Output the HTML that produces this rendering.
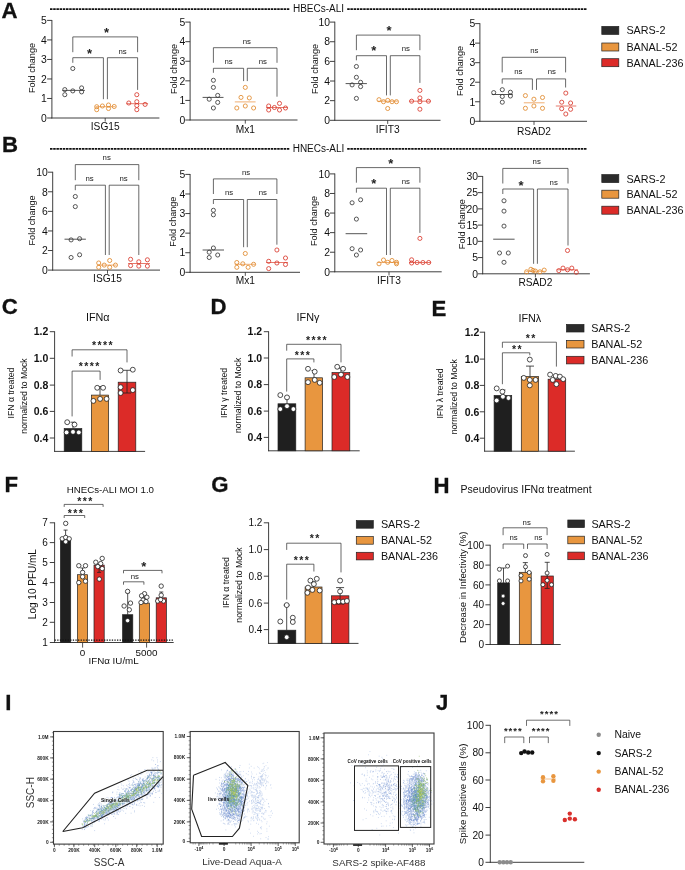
<!DOCTYPE html>
<html lang="en"><head><meta charset="utf-8"><title>Figure</title>
<style>html,body{margin:0;padding:0;background:#fff}svg{display:block}text{white-space:pre}</style></head>
<body>
<svg width="685" height="870" viewBox="0 0 685 870" font-family='"Liberation Sans", Arial, Helvetica, sans-serif'>
<rect width="685" height="870" fill="#fff"/>
<text x="1.6" y="18" font-size="22.2" text-anchor="start" font-weight="bold" fill="#111" stroke="#111" stroke-width="0.3">A</text>
<line x1="50" y1="9.1" x2="290" y2="9.1" stroke="#111" stroke-width="1.8" stroke-dasharray="2.5 0.7"/>
<line x1="347.2" y1="9.1" x2="587" y2="9.1" stroke="#111" stroke-width="1.8" stroke-dasharray="2.5 0.7"/>
<text x="318.5" y="12.1" font-size="10" text-anchor="middle" font-weight="normal" fill="#111" >HBECs-ALI</text>
<line x1="51.9" y1="20" x2="51.9" y2="118.4" stroke="#2a2a2a" stroke-width="0.9" />
<line x1="47.1" y1="20.4" x2="51.9" y2="20.4" stroke="#2a2a2a" stroke-width="0.9" />
<text x="46.7" y="24.14" font-size="10.4" text-anchor="end" font-weight="normal" fill="#111" >5</text>
<line x1="47.1" y1="39.92" x2="51.9" y2="39.92" stroke="#2a2a2a" stroke-width="0.9" />
<text x="46.7" y="43.66" font-size="10.4" text-anchor="end" font-weight="normal" fill="#111" >4</text>
<line x1="47.1" y1="59.44" x2="51.9" y2="59.44" stroke="#2a2a2a" stroke-width="0.9" />
<text x="46.7" y="63.18" font-size="10.4" text-anchor="end" font-weight="normal" fill="#111" >3</text>
<line x1="47.1" y1="78.96" x2="51.9" y2="78.96" stroke="#2a2a2a" stroke-width="0.9" />
<text x="46.7" y="82.7" font-size="10.4" text-anchor="end" font-weight="normal" fill="#111" >2</text>
<line x1="47.1" y1="98.48" x2="51.9" y2="98.48" stroke="#2a2a2a" stroke-width="0.9" />
<text x="46.7" y="102.22" font-size="10.4" text-anchor="end" font-weight="normal" fill="#111" >1</text>
<line x1="47.1" y1="118" x2="51.9" y2="118" stroke="#2a2a2a" stroke-width="0.9" />
<text x="46.7" y="121.74" font-size="10.4" text-anchor="end" font-weight="normal" fill="#111" >0</text>
<line x1="51.5" y1="118" x2="159.4" y2="118" stroke="#2a2a2a" stroke-width="0.9" />
<line x1="105.2" y1="118" x2="105.2" y2="121.6" stroke="#2a2a2a" stroke-width="0.8" />
<text x="105.2" y="130.2" font-size="10.2" text-anchor="middle" font-weight="normal" fill="#111" >ISG15</text>
<text x="35.4" y="68" font-size="9.1" text-anchor="middle" font-weight="normal" fill="#111" transform="rotate(-90 35.4 68)" >Fold change</text>
<line x1="62.3" y1="90.4" x2="84.9" y2="90.4" stroke="#555" stroke-width="1.0" />
<circle cx="72.8" cy="68.5" r="2.05" stroke="#3a3a3a" fill="none" stroke-width="0.85"/>
<circle cx="64.8" cy="89.6" r="2.05" stroke="#3a3a3a" fill="none" stroke-width="0.85"/>
<circle cx="81.6" cy="87.9" r="2.05" stroke="#3a3a3a" fill="none" stroke-width="0.85"/>
<circle cx="72.8" cy="90.9" r="2.05" stroke="#3a3a3a" fill="none" stroke-width="0.85"/>
<circle cx="81.6" cy="91.9" r="2.05" stroke="#3a3a3a" fill="none" stroke-width="0.85"/>
<circle cx="64.8" cy="94.7" r="2.05" stroke="#3a3a3a" fill="none" stroke-width="0.85"/>
<line x1="95.4" y1="106.7" x2="115.5" y2="106.7" stroke="#F0AE72" stroke-width="1.0" />
<circle cx="96.7" cy="106.7" r="2.05" stroke="#E08A2E" fill="none" stroke-width="0.85"/>
<circle cx="102.4" cy="106" r="2.05" stroke="#E08A2E" fill="none" stroke-width="0.85"/>
<circle cx="108.5" cy="105" r="2.05" stroke="#E08A2E" fill="none" stroke-width="0.85"/>
<circle cx="114.2" cy="106.5" r="2.05" stroke="#E08A2E" fill="none" stroke-width="0.85"/>
<circle cx="96.7" cy="109.7" r="2.05" stroke="#E08A2E" fill="none" stroke-width="0.85"/>
<circle cx="108.5" cy="108.5" r="2.05" stroke="#E08A2E" fill="none" stroke-width="0.85"/>
<line x1="126.3" y1="103.7" x2="148.1" y2="103.7" stroke="#E77A6C" stroke-width="1.0" />
<circle cx="136.8" cy="94.7" r="2.05" stroke="#D93A2E" fill="none" stroke-width="0.85"/>
<circle cx="128.8" cy="103" r="2.05" stroke="#D93A2E" fill="none" stroke-width="0.85"/>
<circle cx="136.8" cy="101.7" r="2.05" stroke="#D93A2E" fill="none" stroke-width="0.85"/>
<circle cx="145.1" cy="104.4" r="2.05" stroke="#D93A2E" fill="none" stroke-width="0.85"/>
<circle cx="136.8" cy="105.5" r="2.05" stroke="#D93A2E" fill="none" stroke-width="0.85"/>
<circle cx="136.8" cy="109.7" r="2.05" stroke="#D93A2E" fill="none" stroke-width="0.85"/>
<polyline points="72.8,52.2 72.8,36.9 137.6,36.9 137.6,52.2" fill="none" stroke="#2a2a2a" stroke-width="0.7"/>
<text x="106.5" y="36.9" font-size="13" text-anchor="middle" font-weight="bold" fill="#222" >*</text>
<polyline points="72.8,62.8 72.8,57.7 103.4,57.7 103.4,99.2" fill="none" stroke="#2a2a2a" stroke-width="0.7"/>
<text x="89.6" y="57.9" font-size="13" text-anchor="middle" font-weight="bold" fill="#222" >*</text>
<polyline points="107.4,99.2 107.4,57.7 137.6,57.7 137.6,89.9" fill="none" stroke="#2a2a2a" stroke-width="0.7"/>
<text x="122.5" y="53.6" font-size="7.8" text-anchor="middle" font-weight="normal" fill="#1a1a1a" >ns</text>
<line x1="190.1" y1="21.7" x2="190.1" y2="120.4" stroke="#2a2a2a" stroke-width="0.9" />
<line x1="185.3" y1="22.1" x2="190.1" y2="22.1" stroke="#2a2a2a" stroke-width="0.9" />
<text x="185.3" y="25.84" font-size="10.4" text-anchor="end" font-weight="normal" fill="#111" >5</text>
<line x1="185.3" y1="41.68" x2="190.1" y2="41.68" stroke="#2a2a2a" stroke-width="0.9" />
<text x="185.3" y="45.42" font-size="10.4" text-anchor="end" font-weight="normal" fill="#111" >4</text>
<line x1="185.3" y1="61.26" x2="190.1" y2="61.26" stroke="#2a2a2a" stroke-width="0.9" />
<text x="185.3" y="65" font-size="10.4" text-anchor="end" font-weight="normal" fill="#111" >3</text>
<line x1="185.3" y1="80.84" x2="190.1" y2="80.84" stroke="#2a2a2a" stroke-width="0.9" />
<text x="185.3" y="84.58" font-size="10.4" text-anchor="end" font-weight="normal" fill="#111" >2</text>
<line x1="185.3" y1="100.42" x2="190.1" y2="100.42" stroke="#2a2a2a" stroke-width="0.9" />
<text x="185.3" y="104.16" font-size="10.4" text-anchor="end" font-weight="normal" fill="#111" >1</text>
<line x1="185.3" y1="120" x2="190.1" y2="120" stroke="#2a2a2a" stroke-width="0.9" />
<text x="185.3" y="123.74" font-size="10.4" text-anchor="end" font-weight="normal" fill="#111" >0</text>
<line x1="189.7" y1="120" x2="297.5" y2="120" stroke="#2a2a2a" stroke-width="0.9" />
<line x1="245.3" y1="120" x2="245.3" y2="123.6" stroke="#2a2a2a" stroke-width="0.8" />
<text x="245.3" y="132.6" font-size="10.2" text-anchor="middle" font-weight="normal" fill="#111" >Mx1</text>
<text x="177.2" y="69" font-size="9.1" text-anchor="middle" font-weight="normal" fill="#111" transform="rotate(-90 177.2 69)" >Fold change</text>
<line x1="202.6" y1="97.4" x2="223.5" y2="97.4" stroke="#555" stroke-width="1.0" />
<circle cx="213.4" cy="80.3" r="2.05" stroke="#3a3a3a" fill="none" stroke-width="0.85"/>
<circle cx="213.4" cy="87.4" r="2.05" stroke="#3a3a3a" fill="none" stroke-width="0.85"/>
<circle cx="217.7" cy="95.4" r="2.05" stroke="#3a3a3a" fill="none" stroke-width="0.85"/>
<circle cx="209.2" cy="99.2" r="2.05" stroke="#3a3a3a" fill="none" stroke-width="0.85"/>
<circle cx="217.7" cy="102.4" r="2.05" stroke="#3a3a3a" fill="none" stroke-width="0.85"/>
<circle cx="213.4" cy="108" r="2.05" stroke="#3a3a3a" fill="none" stroke-width="0.85"/>
<line x1="234.8" y1="101.9" x2="255.6" y2="101.9" stroke="#F0AE72" stroke-width="1.0" />
<circle cx="245.3" cy="87.4" r="2.05" stroke="#E08A2E" fill="none" stroke-width="0.85"/>
<circle cx="241" cy="97.4" r="2.05" stroke="#E08A2E" fill="none" stroke-width="0.85"/>
<circle cx="249.3" cy="97.9" r="2.05" stroke="#E08A2E" fill="none" stroke-width="0.85"/>
<circle cx="245.3" cy="106" r="2.05" stroke="#E08A2E" fill="none" stroke-width="0.85"/>
<circle cx="236.8" cy="108" r="2.05" stroke="#E08A2E" fill="none" stroke-width="0.85"/>
<circle cx="253.6" cy="108" r="2.05" stroke="#E08A2E" fill="none" stroke-width="0.85"/>
<line x1="266.1" y1="107.5" x2="287.5" y2="107.5" stroke="#E77A6C" stroke-width="1.0" />
<circle cx="268.7" cy="106" r="2.05" stroke="#D93A2E" fill="none" stroke-width="0.85"/>
<circle cx="279.5" cy="103.4" r="2.05" stroke="#D93A2E" fill="none" stroke-width="0.85"/>
<circle cx="274.4" cy="107.5" r="2.05" stroke="#D93A2E" fill="none" stroke-width="0.85"/>
<circle cx="285.5" cy="108" r="2.05" stroke="#D93A2E" fill="none" stroke-width="0.85"/>
<circle cx="268.7" cy="110" r="2.05" stroke="#D93A2E" fill="none" stroke-width="0.85"/>
<circle cx="279.5" cy="110" r="2.05" stroke="#D93A2E" fill="none" stroke-width="0.85"/>
<polyline points="213.4,62.8 213.4,47.7 277,47.7 277,62.8" fill="none" stroke="#2a2a2a" stroke-width="0.7"/>
<text x="246.8" y="43.6" font-size="7.8" text-anchor="middle" font-weight="normal" fill="#1a1a1a" >ns</text>
<polyline points="213.4,72.8 213.4,68.3 243.6,68.3 243.6,81.1" fill="none" stroke="#2a2a2a" stroke-width="0.7"/>
<text x="228.5" y="64.1" font-size="7.8" text-anchor="middle" font-weight="normal" fill="#1a1a1a" >ns</text>
<polyline points="247.3,81.1 247.3,68.3 277,68.3 277,96.7" fill="none" stroke="#2a2a2a" stroke-width="0.7"/>
<text x="262.9" y="64.1" font-size="7.8" text-anchor="middle" font-weight="normal" fill="#1a1a1a" >ns</text>
<line x1="334.8" y1="21.7" x2="334.8" y2="120.7" stroke="#2a2a2a" stroke-width="0.9" />
<line x1="330" y1="22.1" x2="334.8" y2="22.1" stroke="#2a2a2a" stroke-width="0.9" />
<text x="330" y="25.84" font-size="10.4" text-anchor="end" font-weight="normal" fill="#111" >10</text>
<line x1="330" y1="41.74" x2="334.8" y2="41.74" stroke="#2a2a2a" stroke-width="0.9" />
<text x="330" y="45.48" font-size="10.4" text-anchor="end" font-weight="normal" fill="#111" >8</text>
<line x1="330" y1="61.38" x2="334.8" y2="61.38" stroke="#2a2a2a" stroke-width="0.9" />
<text x="330" y="65.12" font-size="10.4" text-anchor="end" font-weight="normal" fill="#111" >6</text>
<line x1="330" y1="81.02" x2="334.8" y2="81.02" stroke="#2a2a2a" stroke-width="0.9" />
<text x="330" y="84.76" font-size="10.4" text-anchor="end" font-weight="normal" fill="#111" >4</text>
<line x1="330" y1="100.66" x2="334.8" y2="100.66" stroke="#2a2a2a" stroke-width="0.9" />
<text x="330" y="104.4" font-size="10.4" text-anchor="end" font-weight="normal" fill="#111" >2</text>
<line x1="330" y1="120.3" x2="334.8" y2="120.3" stroke="#2a2a2a" stroke-width="0.9" />
<text x="330" y="124.04" font-size="10.4" text-anchor="end" font-weight="normal" fill="#111" >0</text>
<line x1="334.4" y1="120.3" x2="440.5" y2="120.3" stroke="#2a2a2a" stroke-width="0.9" />
<line x1="387.7" y1="120.3" x2="387.7" y2="123.9" stroke="#2a2a2a" stroke-width="0.8" />
<text x="387.7" y="132.6" font-size="10.2" text-anchor="middle" font-weight="normal" fill="#111" >IFIT3</text>
<text x="317.8" y="69" font-size="9.1" text-anchor="middle" font-weight="normal" fill="#111" transform="rotate(-90 317.8 69)" >Fold change</text>
<line x1="345.6" y1="83.6" x2="366.9" y2="83.6" stroke="#555" stroke-width="1.0" />
<circle cx="356.4" cy="66.5" r="2.05" stroke="#3a3a3a" fill="none" stroke-width="0.85"/>
<circle cx="356.4" cy="77.3" r="2.05" stroke="#3a3a3a" fill="none" stroke-width="0.85"/>
<circle cx="360.6" cy="82.3" r="2.05" stroke="#3a3a3a" fill="none" stroke-width="0.85"/>
<circle cx="352.1" cy="84.9" r="2.05" stroke="#3a3a3a" fill="none" stroke-width="0.85"/>
<circle cx="360.6" cy="86.6" r="2.05" stroke="#3a3a3a" fill="none" stroke-width="0.85"/>
<circle cx="356.4" cy="98.4" r="2.05" stroke="#3a3a3a" fill="none" stroke-width="0.85"/>
<line x1="377.7" y1="101.2" x2="397.8" y2="101.2" stroke="#F0AE72" stroke-width="1.0" />
<circle cx="379" cy="99.7" r="2.05" stroke="#E08A2E" fill="none" stroke-width="0.85"/>
<circle cx="387.7" cy="100.4" r="2.05" stroke="#E08A2E" fill="none" stroke-width="0.85"/>
<circle cx="383.5" cy="101.7" r="2.05" stroke="#E08A2E" fill="none" stroke-width="0.85"/>
<circle cx="392" cy="101.7" r="2.05" stroke="#E08A2E" fill="none" stroke-width="0.85"/>
<circle cx="396.5" cy="101.7" r="2.05" stroke="#E08A2E" fill="none" stroke-width="0.85"/>
<circle cx="387.7" cy="108.5" r="2.05" stroke="#E08A2E" fill="none" stroke-width="0.85"/>
<line x1="409.1" y1="101.2" x2="430.9" y2="101.2" stroke="#E77A6C" stroke-width="1.0" />
<circle cx="419.9" cy="90.4" r="2.05" stroke="#D93A2E" fill="none" stroke-width="0.85"/>
<circle cx="419.9" cy="97.9" r="2.05" stroke="#D93A2E" fill="none" stroke-width="0.85"/>
<circle cx="411.6" cy="101.2" r="2.05" stroke="#D93A2E" fill="none" stroke-width="0.85"/>
<circle cx="419.9" cy="101.7" r="2.05" stroke="#D93A2E" fill="none" stroke-width="0.85"/>
<circle cx="428.4" cy="101.2" r="2.05" stroke="#D93A2E" fill="none" stroke-width="0.85"/>
<circle cx="419.9" cy="109.2" r="2.05" stroke="#D93A2E" fill="none" stroke-width="0.85"/>
<polyline points="356.4,50.2 356.4,35.1 419.9,35.1 419.9,50.2" fill="none" stroke="#2a2a2a" stroke-width="0.7"/>
<text x="389" y="34.9" font-size="13" text-anchor="middle" font-weight="bold" fill="#222" >*</text>
<polyline points="356.4,60.3 356.4,55.7 386.5,55.7 386.5,95.4" fill="none" stroke="#2a2a2a" stroke-width="0.7"/>
<text x="373.9" y="55.4" font-size="13" text-anchor="middle" font-weight="bold" fill="#222" >*</text>
<polyline points="390.3,95.4 390.3,55.7 419.9,55.7 419.9,82.9" fill="none" stroke="#2a2a2a" stroke-width="0.7"/>
<text x="405.8" y="50.6" font-size="7.8" text-anchor="middle" font-weight="normal" fill="#1a1a1a" >ns</text>
<line x1="479.9" y1="23.2" x2="479.9" y2="121.7" stroke="#2a2a2a" stroke-width="0.9" />
<line x1="475.1" y1="23.6" x2="479.9" y2="23.6" stroke="#2a2a2a" stroke-width="0.9" />
<text x="475.2" y="27.34" font-size="10.4" text-anchor="end" font-weight="normal" fill="#111" >5</text>
<line x1="475.1" y1="43.14" x2="479.9" y2="43.14" stroke="#2a2a2a" stroke-width="0.9" />
<text x="475.2" y="46.88" font-size="10.4" text-anchor="end" font-weight="normal" fill="#111" >4</text>
<line x1="475.1" y1="62.68" x2="479.9" y2="62.68" stroke="#2a2a2a" stroke-width="0.9" />
<text x="475.2" y="66.42" font-size="10.4" text-anchor="end" font-weight="normal" fill="#111" >3</text>
<line x1="475.1" y1="82.22" x2="479.9" y2="82.22" stroke="#2a2a2a" stroke-width="0.9" />
<text x="475.2" y="85.96" font-size="10.4" text-anchor="end" font-weight="normal" fill="#111" >2</text>
<line x1="475.1" y1="101.76" x2="479.9" y2="101.76" stroke="#2a2a2a" stroke-width="0.9" />
<text x="475.2" y="105.5" font-size="10.4" text-anchor="end" font-weight="normal" fill="#111" >1</text>
<line x1="475.1" y1="121.3" x2="479.9" y2="121.3" stroke="#2a2a2a" stroke-width="0.9" />
<text x="475.2" y="125.04" font-size="10.4" text-anchor="end" font-weight="normal" fill="#111" >0</text>
<line x1="479.5" y1="121.3" x2="587" y2="121.3" stroke="#2a2a2a" stroke-width="0.9" />
<line x1="534" y1="121.3" x2="534" y2="124.9" stroke="#2a2a2a" stroke-width="0.8" />
<text x="534" y="134.9" font-size="10.2" text-anchor="middle" font-weight="normal" fill="#111" >RSAD2</text>
<text x="462.6" y="71" font-size="9.1" text-anchor="middle" font-weight="normal" fill="#111" transform="rotate(-90 462.6 71)" >Fold change</text>
<line x1="491.8" y1="94.5" x2="512.7" y2="94.5" stroke="#555" stroke-width="1.0" />
<circle cx="502.3" cy="89.7" r="2.05" stroke="#3a3a3a" fill="none" stroke-width="0.85"/>
<circle cx="493.7" cy="92.6" r="2.05" stroke="#3a3a3a" fill="none" stroke-width="0.85"/>
<circle cx="510.4" cy="92.2" r="2.05" stroke="#3a3a3a" fill="none" stroke-width="0.85"/>
<circle cx="510.4" cy="96" r="2.05" stroke="#3a3a3a" fill="none" stroke-width="0.85"/>
<circle cx="502.3" cy="96.5" r="2.05" stroke="#3a3a3a" fill="none" stroke-width="0.85"/>
<circle cx="502.3" cy="102.2" r="2.05" stroke="#3a3a3a" fill="none" stroke-width="0.85"/>
<line x1="523.8" y1="102.8" x2="544.6" y2="102.8" stroke="#F0AE72" stroke-width="1.0" />
<circle cx="525.4" cy="95.6" r="2.05" stroke="#E08A2E" fill="none" stroke-width="0.85"/>
<circle cx="533.9" cy="99.2" r="2.05" stroke="#E08A2E" fill="none" stroke-width="0.85"/>
<circle cx="542.5" cy="97.5" r="2.05" stroke="#E08A2E" fill="none" stroke-width="0.85"/>
<circle cx="533.9" cy="106" r="2.05" stroke="#E08A2E" fill="none" stroke-width="0.85"/>
<circle cx="525.4" cy="108.3" r="2.05" stroke="#E08A2E" fill="none" stroke-width="0.85"/>
<circle cx="542.5" cy="108.3" r="2.05" stroke="#E08A2E" fill="none" stroke-width="0.85"/>
<line x1="555.8" y1="106" x2="576.3" y2="106" stroke="#E77A6C" stroke-width="1.0" />
<circle cx="565.8" cy="93.1" r="2.05" stroke="#D93A2E" fill="none" stroke-width="0.85"/>
<circle cx="561.7" cy="102.2" r="2.05" stroke="#D93A2E" fill="none" stroke-width="0.85"/>
<circle cx="570.6" cy="103" r="2.05" stroke="#D93A2E" fill="none" stroke-width="0.85"/>
<circle cx="561.7" cy="108.7" r="2.05" stroke="#D93A2E" fill="none" stroke-width="0.85"/>
<circle cx="570.6" cy="109.3" r="2.05" stroke="#D93A2E" fill="none" stroke-width="0.85"/>
<circle cx="565.8" cy="114" r="2.05" stroke="#D93A2E" fill="none" stroke-width="0.85"/>
<polyline points="502.2,72.4 502.2,57.3 565.6,57.3 565.6,72.4" fill="none" stroke="#2a2a2a" stroke-width="0.7"/>
<text x="534.3" y="52.6" font-size="7.8" text-anchor="middle" font-weight="normal" fill="#1a1a1a" >ns</text>
<polyline points="502.2,83.7 502.2,78.9 532.4,78.9 532.4,89.9" fill="none" stroke="#2a2a2a" stroke-width="0.7"/>
<text x="518.4" y="74.1" font-size="7.8" text-anchor="middle" font-weight="normal" fill="#1a1a1a" >ns</text>
<polyline points="536.5,89.9 536.5,78.9 565.6,78.9 565.6,87.5" fill="none" stroke="#2a2a2a" stroke-width="0.7"/>
<text x="551.9" y="74.1" font-size="7.8" text-anchor="middle" font-weight="normal" fill="#1a1a1a" >ns</text>
<rect x="601.8" y="26.4" width="17" height="8" fill="#2b2b2b" stroke="#222" stroke-width="0.7"/>
<text x="626.4" y="34.4" font-size="10.8" text-anchor="start" font-weight="normal" fill="#111" >SARS-2</text>
<rect x="601.8" y="43" width="17" height="8" fill="#E8963F" stroke="#222" stroke-width="0.7"/>
<text x="626.4" y="51" font-size="10.8" text-anchor="start" font-weight="normal" fill="#111" >BANAL-52</text>
<rect x="601.8" y="58.7" width="17" height="8" fill="#DC2B28" stroke="#222" stroke-width="0.7"/>
<text x="626.4" y="66.7" font-size="10.8" text-anchor="start" font-weight="normal" fill="#111" >BANAL-236</text>
<text x="2" y="152.2" font-size="22.2" text-anchor="start" font-weight="bold" fill="#111" stroke="#111" stroke-width="0.3">B</text>
<line x1="50" y1="148.8" x2="290" y2="148.8" stroke="#111" stroke-width="1.8" stroke-dasharray="2.5 0.7"/>
<line x1="347.2" y1="148.8" x2="587" y2="148.8" stroke="#111" stroke-width="1.8" stroke-dasharray="2.5 0.7"/>
<text x="318.5" y="151.8" font-size="10" text-anchor="middle" font-weight="normal" fill="#111" >HNECs-ALI</text>
<line x1="52.7" y1="171.8" x2="52.7" y2="270.5" stroke="#2a2a2a" stroke-width="0.9" />
<line x1="47.9" y1="172.2" x2="52.7" y2="172.2" stroke="#2a2a2a" stroke-width="0.9" />
<text x="47.8" y="175.94" font-size="10.4" text-anchor="end" font-weight="normal" fill="#111" >10</text>
<line x1="47.9" y1="191.78" x2="52.7" y2="191.78" stroke="#2a2a2a" stroke-width="0.9" />
<text x="47.8" y="195.52" font-size="10.4" text-anchor="end" font-weight="normal" fill="#111" >8</text>
<line x1="47.9" y1="211.36" x2="52.7" y2="211.36" stroke="#2a2a2a" stroke-width="0.9" />
<text x="47.8" y="215.1" font-size="10.4" text-anchor="end" font-weight="normal" fill="#111" >6</text>
<line x1="47.9" y1="230.94" x2="52.7" y2="230.94" stroke="#2a2a2a" stroke-width="0.9" />
<text x="47.8" y="234.68" font-size="10.4" text-anchor="end" font-weight="normal" fill="#111" >4</text>
<line x1="47.9" y1="250.52" x2="52.7" y2="250.52" stroke="#2a2a2a" stroke-width="0.9" />
<text x="47.8" y="254.26" font-size="10.4" text-anchor="end" font-weight="normal" fill="#111" >2</text>
<line x1="47.9" y1="270.1" x2="52.7" y2="270.1" stroke="#2a2a2a" stroke-width="0.9" />
<text x="47.8" y="273.84" font-size="10.4" text-anchor="end" font-weight="normal" fill="#111" >0</text>
<line x1="52.3" y1="270.1" x2="160" y2="270.1" stroke="#2a2a2a" stroke-width="0.9" />
<line x1="107.5" y1="270.1" x2="107.5" y2="273.7" stroke="#2a2a2a" stroke-width="0.8" />
<text x="107.5" y="282" font-size="10.2" text-anchor="middle" font-weight="normal" fill="#111" >ISG15</text>
<text x="35.2" y="220.4" font-size="9.1" text-anchor="middle" font-weight="normal" fill="#111" transform="rotate(-90 35.2 220.4)" >Fold change</text>
<line x1="64.5" y1="239.2" x2="85.9" y2="239.2" stroke="#555" stroke-width="1.0" />
<circle cx="75.3" cy="196.5" r="2.05" stroke="#3a3a3a" fill="none" stroke-width="0.85"/>
<circle cx="75.3" cy="206.6" r="2.05" stroke="#3a3a3a" fill="none" stroke-width="0.85"/>
<circle cx="71.1" cy="239.9" r="2.05" stroke="#3a3a3a" fill="none" stroke-width="0.85"/>
<circle cx="79.6" cy="238.7" r="2.05" stroke="#3a3a3a" fill="none" stroke-width="0.85"/>
<circle cx="71.1" cy="257.5" r="2.05" stroke="#3a3a3a" fill="none" stroke-width="0.85"/>
<circle cx="79.6" cy="254.8" r="2.05" stroke="#3a3a3a" fill="none" stroke-width="0.85"/>
<line x1="97.4" y1="265.1" x2="116.7" y2="265.1" stroke="#F0AE72" stroke-width="1.0" />
<circle cx="109.7" cy="260.5" r="2.05" stroke="#E08A2E" fill="none" stroke-width="0.85"/>
<circle cx="98.7" cy="263" r="2.05" stroke="#E08A2E" fill="none" stroke-width="0.85"/>
<circle cx="104.2" cy="265.1" r="2.05" stroke="#E08A2E" fill="none" stroke-width="0.85"/>
<circle cx="115.5" cy="265.1" r="2.05" stroke="#E08A2E" fill="none" stroke-width="0.85"/>
<circle cx="98.7" cy="267.3" r="2.05" stroke="#E08A2E" fill="none" stroke-width="0.85"/>
<circle cx="109.7" cy="267.3" r="2.05" stroke="#E08A2E" fill="none" stroke-width="0.85"/>
<line x1="128" y1="263.5" x2="149.9" y2="263.5" stroke="#E77A6C" stroke-width="1.0" />
<circle cx="130.6" cy="259.3" r="2.05" stroke="#D93A2E" fill="none" stroke-width="0.85"/>
<circle cx="147.4" cy="259.8" r="2.05" stroke="#D93A2E" fill="none" stroke-width="0.85"/>
<circle cx="138.8" cy="261.8" r="2.05" stroke="#D93A2E" fill="none" stroke-width="0.85"/>
<circle cx="130.6" cy="265.6" r="2.05" stroke="#D93A2E" fill="none" stroke-width="0.85"/>
<circle cx="138.8" cy="266.1" r="2.05" stroke="#D93A2E" fill="none" stroke-width="0.85"/>
<circle cx="147.4" cy="266.1" r="2.05" stroke="#D93A2E" fill="none" stroke-width="0.85"/>
<polyline points="75.3,180.2 75.3,164.6 138.8,164.6 138.8,180.2" fill="none" stroke="#2a2a2a" stroke-width="0.7"/>
<text x="106.7" y="160.1" font-size="7.8" text-anchor="middle" font-weight="normal" fill="#1a1a1a" >ns</text>
<polyline points="75.3,190.2 75.3,185.2 105.4,185.2 105.4,255" fill="none" stroke="#2a2a2a" stroke-width="0.7"/>
<text x="89.6" y="180.8" font-size="7.8" text-anchor="middle" font-weight="normal" fill="#1a1a1a" >ns</text>
<polyline points="109.2,255 109.2,185.2 138.8,185.2 138.8,255" fill="none" stroke="#2a2a2a" stroke-width="0.7"/>
<text x="123.5" y="180.8" font-size="7.8" text-anchor="middle" font-weight="normal" fill="#1a1a1a" >ns</text>
<line x1="190.1" y1="174" x2="190.1" y2="272.7" stroke="#2a2a2a" stroke-width="0.9" />
<line x1="185.3" y1="174.4" x2="190.1" y2="174.4" stroke="#2a2a2a" stroke-width="0.9" />
<text x="185.3" y="178.14" font-size="10.4" text-anchor="end" font-weight="normal" fill="#111" >5</text>
<line x1="185.3" y1="193.98" x2="190.1" y2="193.98" stroke="#2a2a2a" stroke-width="0.9" />
<text x="185.3" y="197.72" font-size="10.4" text-anchor="end" font-weight="normal" fill="#111" >4</text>
<line x1="185.3" y1="213.56" x2="190.1" y2="213.56" stroke="#2a2a2a" stroke-width="0.9" />
<text x="185.3" y="217.3" font-size="10.4" text-anchor="end" font-weight="normal" fill="#111" >3</text>
<line x1="185.3" y1="233.14" x2="190.1" y2="233.14" stroke="#2a2a2a" stroke-width="0.9" />
<text x="185.3" y="236.88" font-size="10.4" text-anchor="end" font-weight="normal" fill="#111" >2</text>
<line x1="185.3" y1="252.72" x2="190.1" y2="252.72" stroke="#2a2a2a" stroke-width="0.9" />
<text x="185.3" y="256.46" font-size="10.4" text-anchor="end" font-weight="normal" fill="#111" >1</text>
<line x1="185.3" y1="272.3" x2="190.1" y2="272.3" stroke="#2a2a2a" stroke-width="0.9" />
<text x="185.3" y="276.04" font-size="10.4" text-anchor="end" font-weight="normal" fill="#111" >0</text>
<line x1="189.7" y1="272.3" x2="300" y2="272.3" stroke="#2a2a2a" stroke-width="0.9" />
<line x1="245.3" y1="272.3" x2="245.3" y2="275.9" stroke="#2a2a2a" stroke-width="0.8" />
<text x="245.3" y="284" font-size="10.2" text-anchor="middle" font-weight="normal" fill="#111" >Mx1</text>
<text x="176" y="221.6" font-size="9.1" text-anchor="middle" font-weight="normal" fill="#111" transform="rotate(-90 176 221.6)" >Fold change</text>
<line x1="202.6" y1="250" x2="224" y2="250" stroke="#555" stroke-width="1.0" />
<circle cx="213.4" cy="210.3" r="2.05" stroke="#3a3a3a" fill="none" stroke-width="0.85"/>
<circle cx="213.4" cy="214.8" r="2.05" stroke="#3a3a3a" fill="none" stroke-width="0.85"/>
<circle cx="213.4" cy="248" r="2.05" stroke="#3a3a3a" fill="none" stroke-width="0.85"/>
<circle cx="209.2" cy="252.2" r="2.05" stroke="#3a3a3a" fill="none" stroke-width="0.85"/>
<circle cx="217.7" cy="255" r="2.05" stroke="#3a3a3a" fill="none" stroke-width="0.85"/>
<circle cx="209.2" cy="257.5" r="2.05" stroke="#3a3a3a" fill="none" stroke-width="0.85"/>
<line x1="234.8" y1="264.3" x2="255.6" y2="264.3" stroke="#F0AE72" stroke-width="1.0" />
<circle cx="245.3" cy="253.5" r="2.05" stroke="#E08A2E" fill="none" stroke-width="0.85"/>
<circle cx="236.8" cy="262.5" r="2.05" stroke="#E08A2E" fill="none" stroke-width="0.85"/>
<circle cx="242.8" cy="263.8" r="2.05" stroke="#E08A2E" fill="none" stroke-width="0.85"/>
<circle cx="253.6" cy="264.3" r="2.05" stroke="#E08A2E" fill="none" stroke-width="0.85"/>
<circle cx="236.8" cy="267.3" r="2.05" stroke="#E08A2E" fill="none" stroke-width="0.85"/>
<circle cx="248.1" cy="267.3" r="2.05" stroke="#E08A2E" fill="none" stroke-width="0.85"/>
<line x1="266.1" y1="262.5" x2="288" y2="262.5" stroke="#E77A6C" stroke-width="1.0" />
<circle cx="276.9" cy="250" r="2.05" stroke="#D93A2E" fill="none" stroke-width="0.85"/>
<circle cx="285.5" cy="258" r="2.05" stroke="#D93A2E" fill="none" stroke-width="0.85"/>
<circle cx="268.7" cy="261.3" r="2.05" stroke="#D93A2E" fill="none" stroke-width="0.85"/>
<circle cx="276.9" cy="263" r="2.05" stroke="#D93A2E" fill="none" stroke-width="0.85"/>
<circle cx="285.5" cy="264.5" r="2.05" stroke="#D93A2E" fill="none" stroke-width="0.85"/>
<circle cx="268.7" cy="268.6" r="2.05" stroke="#D93A2E" fill="none" stroke-width="0.85"/>
<polyline points="213.4,194 213.4,178.9 276.9,178.9 276.9,194" fill="none" stroke="#2a2a2a" stroke-width="0.7"/>
<text x="246" y="174.5" font-size="7.8" text-anchor="middle" font-weight="normal" fill="#1a1a1a" >ns</text>
<polyline points="213.4,204 213.4,199.5 243.6,199.5 243.6,247.2" fill="none" stroke="#2a2a2a" stroke-width="0.7"/>
<text x="229" y="195.3" font-size="7.8" text-anchor="middle" font-weight="normal" fill="#1a1a1a" >ns</text>
<polyline points="247.3,247.2 247.3,199.5 276.9,199.5 276.9,244.7" fill="none" stroke="#2a2a2a" stroke-width="0.7"/>
<text x="262.9" y="195.3" font-size="7.8" text-anchor="middle" font-weight="normal" fill="#1a1a1a" >ns</text>
<line x1="334.8" y1="173.5" x2="334.8" y2="272.2" stroke="#2a2a2a" stroke-width="0.9" />
<line x1="330" y1="173.9" x2="334.8" y2="173.9" stroke="#2a2a2a" stroke-width="0.9" />
<text x="330" y="177.64" font-size="10.4" text-anchor="end" font-weight="normal" fill="#111" >10</text>
<line x1="330" y1="193.48" x2="334.8" y2="193.48" stroke="#2a2a2a" stroke-width="0.9" />
<text x="330" y="197.22" font-size="10.4" text-anchor="end" font-weight="normal" fill="#111" >8</text>
<line x1="330" y1="213.06" x2="334.8" y2="213.06" stroke="#2a2a2a" stroke-width="0.9" />
<text x="330" y="216.8" font-size="10.4" text-anchor="end" font-weight="normal" fill="#111" >6</text>
<line x1="330" y1="232.64" x2="334.8" y2="232.64" stroke="#2a2a2a" stroke-width="0.9" />
<text x="330" y="236.38" font-size="10.4" text-anchor="end" font-weight="normal" fill="#111" >4</text>
<line x1="330" y1="252.22" x2="334.8" y2="252.22" stroke="#2a2a2a" stroke-width="0.9" />
<text x="330" y="255.96" font-size="10.4" text-anchor="end" font-weight="normal" fill="#111" >2</text>
<line x1="330" y1="271.8" x2="334.8" y2="271.8" stroke="#2a2a2a" stroke-width="0.9" />
<text x="330" y="275.54" font-size="10.4" text-anchor="end" font-weight="normal" fill="#111" >0</text>
<line x1="334.4" y1="271.8" x2="441.7" y2="271.8" stroke="#2a2a2a" stroke-width="0.9" />
<line x1="389" y1="271.8" x2="389" y2="275.4" stroke="#2a2a2a" stroke-width="0.8" />
<text x="389" y="284" font-size="10.2" text-anchor="middle" font-weight="normal" fill="#111" >IFIT3</text>
<text x="316.8" y="221" font-size="9.1" text-anchor="middle" font-weight="normal" fill="#111" transform="rotate(-90 316.8 221)" >Fold change</text>
<line x1="345.6" y1="233.7" x2="367.2" y2="233.7" stroke="#555" stroke-width="1.0" />
<circle cx="360.6" cy="199.8" r="2.05" stroke="#3a3a3a" fill="none" stroke-width="0.85"/>
<circle cx="352.1" cy="202.8" r="2.05" stroke="#3a3a3a" fill="none" stroke-width="0.85"/>
<circle cx="356.4" cy="219.1" r="2.05" stroke="#3a3a3a" fill="none" stroke-width="0.85"/>
<circle cx="352.1" cy="248.7" r="2.05" stroke="#3a3a3a" fill="none" stroke-width="0.85"/>
<circle cx="360.6" cy="250" r="2.05" stroke="#3a3a3a" fill="none" stroke-width="0.85"/>
<circle cx="356.4" cy="255" r="2.05" stroke="#3a3a3a" fill="none" stroke-width="0.85"/>
<line x1="377.7" y1="262.5" x2="398.3" y2="262.5" stroke="#F0AE72" stroke-width="1.0" />
<circle cx="383.5" cy="260" r="2.05" stroke="#E08A2E" fill="none" stroke-width="0.85"/>
<circle cx="392" cy="260.5" r="2.05" stroke="#E08A2E" fill="none" stroke-width="0.85"/>
<circle cx="387.7" cy="262.3" r="2.05" stroke="#E08A2E" fill="none" stroke-width="0.85"/>
<circle cx="396.5" cy="262.3" r="2.05" stroke="#E08A2E" fill="none" stroke-width="0.85"/>
<circle cx="379" cy="263.8" r="2.05" stroke="#E08A2E" fill="none" stroke-width="0.85"/>
<circle cx="396.5" cy="263.8" r="2.05" stroke="#E08A2E" fill="none" stroke-width="0.85"/>
<line x1="409.1" y1="262.5" x2="430.9" y2="262.5" stroke="#E77A6C" stroke-width="1.0" />
<circle cx="419.9" cy="238.4" r="2.05" stroke="#D93A2E" fill="none" stroke-width="0.85"/>
<circle cx="411.6" cy="259.8" r="2.05" stroke="#D93A2E" fill="none" stroke-width="0.85"/>
<circle cx="411.6" cy="263" r="2.05" stroke="#D93A2E" fill="none" stroke-width="0.85"/>
<circle cx="417.1" cy="262.5" r="2.05" stroke="#D93A2E" fill="none" stroke-width="0.85"/>
<circle cx="422.9" cy="262.5" r="2.05" stroke="#D93A2E" fill="none" stroke-width="0.85"/>
<circle cx="428.7" cy="262.5" r="2.05" stroke="#D93A2E" fill="none" stroke-width="0.85"/>
<polyline points="356.4,182.7 356.4,167.6 419.9,167.6 419.9,182.7" fill="none" stroke="#2a2a2a" stroke-width="0.7"/>
<text x="390.8" y="168.3" font-size="13" text-anchor="middle" font-weight="bold" fill="#222" >*</text>
<polyline points="356.4,192.7 356.4,188.2 386.5,188.2 386.5,255" fill="none" stroke="#2a2a2a" stroke-width="0.7"/>
<text x="373.9" y="188.3" font-size="13" text-anchor="middle" font-weight="bold" fill="#222" >*</text>
<polyline points="390.3,255 390.3,188.2 419.9,188.2 419.9,232.9" fill="none" stroke="#2a2a2a" stroke-width="0.7"/>
<text x="405.8" y="184.1" font-size="7.8" text-anchor="middle" font-weight="normal" fill="#1a1a1a" >ns</text>
<line x1="482.7" y1="176" x2="482.7" y2="274.2" stroke="#2a2a2a" stroke-width="0.9" />
<line x1="477.9" y1="176.4" x2="482.7" y2="176.4" stroke="#2a2a2a" stroke-width="0.9" />
<text x="478" y="180.14" font-size="10.4" text-anchor="end" font-weight="normal" fill="#111" >30</text>
<line x1="477.9" y1="192.63" x2="482.7" y2="192.63" stroke="#2a2a2a" stroke-width="0.9" />
<text x="478" y="196.38" font-size="10.4" text-anchor="end" font-weight="normal" fill="#111" >25</text>
<line x1="477.9" y1="208.87" x2="482.7" y2="208.87" stroke="#2a2a2a" stroke-width="0.9" />
<text x="478" y="212.61" font-size="10.4" text-anchor="end" font-weight="normal" fill="#111" >20</text>
<line x1="477.9" y1="225.1" x2="482.7" y2="225.1" stroke="#2a2a2a" stroke-width="0.9" />
<text x="478" y="228.84" font-size="10.4" text-anchor="end" font-weight="normal" fill="#111" >15</text>
<line x1="477.9" y1="241.33" x2="482.7" y2="241.33" stroke="#2a2a2a" stroke-width="0.9" />
<text x="478" y="245.08" font-size="10.4" text-anchor="end" font-weight="normal" fill="#111" >10</text>
<line x1="477.9" y1="257.57" x2="482.7" y2="257.57" stroke="#2a2a2a" stroke-width="0.9" />
<text x="478" y="261.31" font-size="10.4" text-anchor="end" font-weight="normal" fill="#111" >5</text>
<line x1="477.9" y1="273.8" x2="482.7" y2="273.8" stroke="#2a2a2a" stroke-width="0.9" />
<text x="478" y="277.54" font-size="10.4" text-anchor="end" font-weight="normal" fill="#111" >0</text>
<line x1="482.3" y1="273.8" x2="589.9" y2="273.8" stroke="#2a2a2a" stroke-width="0.9" />
<line x1="535.4" y1="273.8" x2="535.4" y2="277.4" stroke="#2a2a2a" stroke-width="0.8" />
<text x="535.4" y="286" font-size="10.2" text-anchor="middle" font-weight="normal" fill="#111" >RSAD2</text>
<text x="465" y="224.1" font-size="9.1" text-anchor="middle" font-weight="normal" fill="#111" transform="rotate(-90 465 224.1)" >Fold change</text>
<line x1="493.2" y1="239.2" x2="514.6" y2="239.2" stroke="#555" stroke-width="1.0" />
<circle cx="504" cy="200.8" r="2.05" stroke="#3a3a3a" fill="none" stroke-width="0.85"/>
<circle cx="504" cy="211.1" r="2.05" stroke="#3a3a3a" fill="none" stroke-width="0.85"/>
<circle cx="504" cy="226.1" r="2.05" stroke="#3a3a3a" fill="none" stroke-width="0.85"/>
<circle cx="499.5" cy="253" r="2.05" stroke="#3a3a3a" fill="none" stroke-width="0.85"/>
<circle cx="508.3" cy="253" r="2.05" stroke="#3a3a3a" fill="none" stroke-width="0.85"/>
<circle cx="504" cy="262.3" r="2.05" stroke="#3a3a3a" fill="none" stroke-width="0.85"/>
<line x1="525.4" y1="271.3" x2="545.4" y2="271.3" stroke="#F0AE72" stroke-width="1.0" />
<circle cx="530.9" cy="269.3" r="2.05" stroke="#E08A2E" fill="none" stroke-width="0.85"/>
<circle cx="526.6" cy="271.8" r="2.05" stroke="#E08A2E" fill="none" stroke-width="0.85"/>
<circle cx="535.4" cy="271.1" r="2.05" stroke="#E08A2E" fill="none" stroke-width="0.85"/>
<circle cx="539.9" cy="271.8" r="2.05" stroke="#E08A2E" fill="none" stroke-width="0.85"/>
<circle cx="544.2" cy="270.1" r="2.05" stroke="#E08A2E" fill="none" stroke-width="0.85"/>
<circle cx="533" cy="270.4" r="2.05" stroke="#E08A2E" fill="none" stroke-width="0.85"/>
<line x1="556.7" y1="269.8" x2="578" y2="269.8" stroke="#E77A6C" stroke-width="1.0" />
<circle cx="567.5" cy="250.5" r="2.05" stroke="#D93A2E" fill="none" stroke-width="0.85"/>
<circle cx="563" cy="268.1" r="2.05" stroke="#D93A2E" fill="none" stroke-width="0.85"/>
<circle cx="571.8" cy="268.1" r="2.05" stroke="#D93A2E" fill="none" stroke-width="0.85"/>
<circle cx="558.8" cy="270.6" r="2.05" stroke="#D93A2E" fill="none" stroke-width="0.85"/>
<circle cx="567.5" cy="269.8" r="2.05" stroke="#D93A2E" fill="none" stroke-width="0.85"/>
<circle cx="576.3" cy="272.3" r="2.05" stroke="#D93A2E" fill="none" stroke-width="0.85"/>
<polyline points="502.8,183.5 502.8,168.4 568,168.4 568,183.5" fill="none" stroke="#2a2a2a" stroke-width="0.7"/>
<text x="536.7" y="164.1" font-size="7.8" text-anchor="middle" font-weight="normal" fill="#1a1a1a" >ns</text>
<polyline points="502.8,194 502.8,189 533.6,189 533.6,263.8" fill="none" stroke="#2a2a2a" stroke-width="0.7"/>
<text x="521.1" y="189.6" font-size="13" text-anchor="middle" font-weight="bold" fill="#222" >*</text>
<polyline points="537.4,263.8 537.4,189 568,189 568,245.5" fill="none" stroke="#2a2a2a" stroke-width="0.7"/>
<text x="553.7" y="184.8" font-size="7.8" text-anchor="middle" font-weight="normal" fill="#1a1a1a" >ns</text>
<rect x="601.8" y="174.6" width="17" height="8" fill="#2b2b2b" stroke="#222" stroke-width="0.7"/>
<text x="626.4" y="182.6" font-size="10.8" text-anchor="start" font-weight="normal" fill="#111" >SARS-2</text>
<rect x="601.8" y="190.2" width="17" height="8" fill="#E8963F" stroke="#222" stroke-width="0.7"/>
<text x="626.4" y="198.2" font-size="10.8" text-anchor="start" font-weight="normal" fill="#111" >BANAL-52</text>
<rect x="601.8" y="206.2" width="17" height="8" fill="#DC2B28" stroke="#222" stroke-width="0.7"/>
<text x="626.4" y="214.2" font-size="10.8" text-anchor="start" font-weight="normal" fill="#111" >BANAL-236</text>
<text x="1.8" y="313.9" font-size="22.2" text-anchor="start" font-weight="bold" fill="#111" stroke="#111" stroke-width="0.3">C</text>
<text x="97.8" y="321.4" font-size="10.8" text-anchor="middle" font-weight="normal" fill="#111" >IFNα</text>
<line x1="54.6" y1="331.3" x2="54.6" y2="451.8" stroke="#2a2a2a" stroke-width="0.9" />
<line x1="49.8" y1="331.7" x2="54.6" y2="331.7" stroke="#2a2a2a" stroke-width="0.9" />
<text x="48.4" y="335.48" font-size="10.5" text-anchor="end" font-weight="bold" fill="#111" >1.2</text>
<line x1="49.8" y1="358.3" x2="54.6" y2="358.3" stroke="#2a2a2a" stroke-width="0.9" />
<text x="48.4" y="362.08" font-size="10.5" text-anchor="end" font-weight="bold" fill="#111" >1.0</text>
<line x1="49.8" y1="385.1" x2="54.6" y2="385.1" stroke="#2a2a2a" stroke-width="0.9" />
<text x="48.4" y="388.88" font-size="10.5" text-anchor="end" font-weight="bold" fill="#111" >0.8</text>
<line x1="49.8" y1="411.4" x2="54.6" y2="411.4" stroke="#2a2a2a" stroke-width="0.9" />
<text x="48.4" y="415.18" font-size="10.5" text-anchor="end" font-weight="bold" fill="#111" >0.6</text>
<line x1="49.8" y1="438" x2="54.6" y2="438" stroke="#2a2a2a" stroke-width="0.9" />
<text x="48.4" y="441.78" font-size="10.5" text-anchor="end" font-weight="bold" fill="#111" >0.4</text>
<line x1="54.2" y1="451.4" x2="145.1" y2="451.4" stroke="#2a2a2a" stroke-width="0.9" />
<rect x="64.2" y="428.6" width="17.6" height="22.8" fill="#1f1f1f" stroke="#222" stroke-width="0.7"/>
<rect x="91.4" y="395.1" width="17.2" height="56.3" fill="#E8963F" stroke="#222" stroke-width="0.7"/>
<rect x="118.2" y="382.2" width="17.6" height="69.2" fill="#DC2B28" stroke="#222" stroke-width="0.7"/>
<line x1="73" y1="422.2" x2="73" y2="428.6" stroke="#222" stroke-width="0.8" />
<line x1="70.5" y1="422.2" x2="75.5" y2="422.2" stroke="#222" stroke-width="0.8" />
<line x1="100" y1="386.6" x2="100" y2="395.1" stroke="#222" stroke-width="0.8" />
<line x1="97.5" y1="386.6" x2="102.5" y2="386.6" stroke="#222" stroke-width="0.8" />
<line x1="127" y1="370.3" x2="127" y2="393" stroke="#222" stroke-width="0.8" />
<line x1="123" y1="370.3" x2="131" y2="370.3" stroke="#222" stroke-width="0.8" />
<line x1="123" y1="393" x2="131" y2="393" stroke="#222" stroke-width="0.8" />
<circle cx="67.2" cy="422.2" r="2.45" stroke="#222" fill="#fff" stroke-width="0.8"/>
<circle cx="74.5" cy="424.6" r="2.45" stroke="#222" fill="#fff" stroke-width="0.8"/>
<circle cx="66.6" cy="432.4" r="2.45" stroke="#222" fill="#fff" stroke-width="0.8"/>
<circle cx="73" cy="431.9" r="2.45" stroke="#222" fill="#fff" stroke-width="0.8"/>
<circle cx="78.8" cy="432.4" r="2.45" stroke="#222" fill="#fff" stroke-width="0.8"/>
<circle cx="97.2" cy="387.8" r="2.45" stroke="#222" fill="#fff" stroke-width="0.8"/>
<circle cx="103.1" cy="387.8" r="2.45" stroke="#222" fill="#fff" stroke-width="0.8"/>
<circle cx="93.4" cy="400.9" r="2.45" stroke="#222" fill="#fff" stroke-width="0.8"/>
<circle cx="100.1" cy="398.9" r="2.45" stroke="#222" fill="#fff" stroke-width="0.8"/>
<circle cx="106.6" cy="398.9" r="2.45" stroke="#222" fill="#fff" stroke-width="0.8"/>
<circle cx="120.6" cy="370.5" r="2.45" stroke="#222" fill="#fff" stroke-width="0.8"/>
<circle cx="132.8" cy="369.7" r="2.45" stroke="#222" fill="#fff" stroke-width="0.8"/>
<circle cx="120.6" cy="387.2" r="2.45" stroke="#222" fill="#fff" stroke-width="0.8"/>
<circle cx="132.8" cy="390.1" r="2.45" stroke="#222" fill="#fff" stroke-width="0.8"/>
<circle cx="120.6" cy="393" r="2.45" stroke="#222" fill="#fff" stroke-width="0.8"/>
<polyline points="72.1,356.5 72.1,349.8 127,349.8 127,362.4" fill="none" stroke="#2a2a2a" stroke-width="0.7"/>
<text x="102.9" y="349" font-size="10.5" text-anchor="middle" font-weight="bold" fill="#222" letter-spacing="1.4">****</text>
<polyline points="72.1,416.4 72.1,371.1 100.1,371.1 100.1,379.9" fill="none" stroke="#2a2a2a" stroke-width="0.7"/>
<text x="89.7" y="370.3" font-size="10.5" text-anchor="middle" font-weight="bold" fill="#222" letter-spacing="1.4">****</text>
<text x="14" y="393" font-size="8.7" text-anchor="middle" font-weight="normal" fill="#111" transform="rotate(-90 14 393)" >IFN α treated</text>
<text x="27.2" y="396" font-size="8.7" text-anchor="middle" font-weight="normal" fill="#111" transform="rotate(-90 27.2 396)" >normalized to Mock</text>
<text x="210.5" y="314.2" font-size="22.2" text-anchor="start" font-weight="bold" fill="#111" stroke="#111" stroke-width="0.3">D</text>
<text x="308" y="321.4" font-size="10.8" text-anchor="middle" font-weight="normal" fill="#111" >IFNγ</text>
<line x1="268.6" y1="331.3" x2="268.6" y2="451.2" stroke="#2a2a2a" stroke-width="0.9" />
<line x1="263.8" y1="331.7" x2="268.6" y2="331.7" stroke="#2a2a2a" stroke-width="0.9" />
<text x="262.2" y="335.48" font-size="10.5" text-anchor="end" font-weight="bold" fill="#111" >1.2</text>
<line x1="263.8" y1="358" x2="268.6" y2="358" stroke="#2a2a2a" stroke-width="0.9" />
<text x="262.2" y="361.78" font-size="10.5" text-anchor="end" font-weight="bold" fill="#111" >1.0</text>
<line x1="263.8" y1="384.6" x2="268.6" y2="384.6" stroke="#2a2a2a" stroke-width="0.9" />
<text x="262.2" y="388.38" font-size="10.5" text-anchor="end" font-weight="bold" fill="#111" >0.8</text>
<line x1="263.8" y1="411.1" x2="268.6" y2="411.1" stroke="#2a2a2a" stroke-width="0.9" />
<text x="262.2" y="414.88" font-size="10.5" text-anchor="end" font-weight="bold" fill="#111" >0.6</text>
<line x1="263.8" y1="437.4" x2="268.6" y2="437.4" stroke="#2a2a2a" stroke-width="0.9" />
<text x="262.2" y="441.18" font-size="10.5" text-anchor="end" font-weight="bold" fill="#111" >0.4</text>
<line x1="268.2" y1="450.8" x2="359.7" y2="450.8" stroke="#2a2a2a" stroke-width="0.9" />
<rect x="278" y="403.8" width="17.8" height="47" fill="#1f1f1f" stroke="#222" stroke-width="0.7"/>
<rect x="305.1" y="377.8" width="17.5" height="73" fill="#E8963F" stroke="#222" stroke-width="0.7"/>
<rect x="332" y="372.6" width="17.8" height="78.2" fill="#DC2B28" stroke="#222" stroke-width="0.7"/>
<line x1="287" y1="396.8" x2="287" y2="403.8" stroke="#222" stroke-width="0.8" />
<line x1="284.5" y1="396.8" x2="289.5" y2="396.8" stroke="#222" stroke-width="0.8" />
<line x1="314" y1="370.5" x2="314" y2="377.8" stroke="#222" stroke-width="0.8" />
<line x1="311.5" y1="370.5" x2="316.5" y2="370.5" stroke="#222" stroke-width="0.8" />
<line x1="341" y1="368.2" x2="341" y2="372.6" stroke="#222" stroke-width="0.8" />
<line x1="338.5" y1="368.2" x2="343.5" y2="368.2" stroke="#222" stroke-width="0.8" />
<circle cx="280.3" cy="395.1" r="2.45" stroke="#222" fill="#fff" stroke-width="0.8"/>
<circle cx="287" cy="397.4" r="2.45" stroke="#222" fill="#fff" stroke-width="0.8"/>
<circle cx="280.3" cy="409.1" r="2.45" stroke="#222" fill="#fff" stroke-width="0.8"/>
<circle cx="287" cy="406.2" r="2.45" stroke="#222" fill="#fff" stroke-width="0.8"/>
<circle cx="293.4" cy="409.1" r="2.45" stroke="#222" fill="#fff" stroke-width="0.8"/>
<circle cx="308" cy="368.8" r="2.45" stroke="#222" fill="#fff" stroke-width="0.8"/>
<circle cx="314.7" cy="371.7" r="2.45" stroke="#222" fill="#fff" stroke-width="0.8"/>
<circle cx="308" cy="382.2" r="2.45" stroke="#222" fill="#fff" stroke-width="0.8"/>
<circle cx="314.7" cy="379.9" r="2.45" stroke="#222" fill="#fff" stroke-width="0.8"/>
<circle cx="319.7" cy="382.8" r="2.45" stroke="#222" fill="#fff" stroke-width="0.8"/>
<circle cx="337.2" cy="366.8" r="2.45" stroke="#222" fill="#fff" stroke-width="0.8"/>
<circle cx="343.1" cy="368.8" r="2.45" stroke="#222" fill="#fff" stroke-width="0.8"/>
<circle cx="334.3" cy="377" r="2.45" stroke="#222" fill="#fff" stroke-width="0.8"/>
<circle cx="341" cy="374.6" r="2.45" stroke="#222" fill="#fff" stroke-width="0.8"/>
<circle cx="347.4" cy="377" r="2.45" stroke="#222" fill="#fff" stroke-width="0.8"/>
<polyline points="286.7,350.7 286.7,344.3 341,344.3 341,362.4" fill="none" stroke="#2a2a2a" stroke-width="0.7"/>
<text x="316.9" y="343.7" font-size="10.5" text-anchor="middle" font-weight="bold" fill="#222" letter-spacing="1.4">****</text>
<polyline points="286.7,391.6 286.7,358.9 313.9,358.9 313.9,362.4" fill="none" stroke="#2a2a2a" stroke-width="0.7"/>
<text x="302.9" y="358.6" font-size="10.5" text-anchor="middle" font-weight="bold" fill="#222" letter-spacing="1.4">***</text>
<text x="227.2" y="393" font-size="8.7" text-anchor="middle" font-weight="normal" fill="#111" transform="rotate(-90 227.2 393)" >IFN γ treated</text>
<text x="241" y="395.4" font-size="8.7" text-anchor="middle" font-weight="normal" fill="#111" transform="rotate(-90 241 395.4)" >normalized to Mock</text>
<text x="431.6" y="316" font-size="22.2" text-anchor="start" font-weight="bold" fill="#111" stroke="#111" stroke-width="0.3">E</text>
<text x="529.8" y="321.6" font-size="10.8" text-anchor="middle" font-weight="normal" fill="#111" >IFNλ</text>
<line x1="484.6" y1="331.8" x2="484.6" y2="451.6" stroke="#2a2a2a" stroke-width="0.9" />
<line x1="479.8" y1="332.2" x2="484.6" y2="332.2" stroke="#2a2a2a" stroke-width="0.9" />
<text x="479.3" y="335.98" font-size="10.5" text-anchor="end" font-weight="bold" fill="#111" >1.2</text>
<line x1="479.8" y1="359.1" x2="484.6" y2="359.1" stroke="#2a2a2a" stroke-width="0.9" />
<text x="479.3" y="362.88" font-size="10.5" text-anchor="end" font-weight="bold" fill="#111" >1.0</text>
<line x1="479.8" y1="385.4" x2="484.6" y2="385.4" stroke="#2a2a2a" stroke-width="0.9" />
<text x="479.3" y="389.18" font-size="10.5" text-anchor="end" font-weight="bold" fill="#111" >0.8</text>
<line x1="479.8" y1="411.8" x2="484.6" y2="411.8" stroke="#2a2a2a" stroke-width="0.9" />
<text x="479.3" y="415.58" font-size="10.5" text-anchor="end" font-weight="bold" fill="#111" >0.6</text>
<line x1="479.8" y1="438.2" x2="484.6" y2="438.2" stroke="#2a2a2a" stroke-width="0.9" />
<text x="479.3" y="441.98" font-size="10.5" text-anchor="end" font-weight="bold" fill="#111" >0.4</text>
<line x1="484.2" y1="451.2" x2="574.9" y2="451.2" stroke="#2a2a2a" stroke-width="0.9" />
<rect x="494.1" y="395.5" width="17.6" height="55.7" fill="#1f1f1f" stroke="#222" stroke-width="0.7"/>
<rect x="521.3" y="376.6" width="17.3" height="74.6" fill="#E8963F" stroke="#222" stroke-width="0.7"/>
<rect x="548.1" y="379.2" width="17.6" height="72" fill="#DC2B28" stroke="#222" stroke-width="0.7"/>
<line x1="503" y1="390" x2="503" y2="395.5" stroke="#222" stroke-width="0.8" />
<line x1="500.5" y1="390" x2="505.5" y2="390" stroke="#222" stroke-width="0.8" />
<line x1="530" y1="366.1" x2="530" y2="376.6" stroke="#222" stroke-width="0.8" />
<line x1="526" y1="366.1" x2="534" y2="366.1" stroke="#222" stroke-width="0.8" />
<line x1="557" y1="376.6" x2="557" y2="379.2" stroke="#222" stroke-width="0.8" />
<line x1="554.5" y1="376.6" x2="559.5" y2="376.6" stroke="#222" stroke-width="0.8" />
<circle cx="496.7" cy="388.4" r="2.45" stroke="#222" fill="#fff" stroke-width="0.8"/>
<circle cx="502.4" cy="391.7" r="2.45" stroke="#222" fill="#fff" stroke-width="0.8"/>
<circle cx="496.7" cy="400.5" r="2.45" stroke="#222" fill="#fff" stroke-width="0.8"/>
<circle cx="502.9" cy="396.7" r="2.45" stroke="#222" fill="#fff" stroke-width="0.8"/>
<circle cx="508.5" cy="398" r="2.45" stroke="#222" fill="#fff" stroke-width="0.8"/>
<circle cx="529.8" cy="359.6" r="2.45" stroke="#222" fill="#fff" stroke-width="0.8"/>
<circle cx="523.8" cy="377.9" r="2.45" stroke="#222" fill="#fff" stroke-width="0.8"/>
<circle cx="529.8" cy="379.9" r="2.45" stroke="#222" fill="#fff" stroke-width="0.8"/>
<circle cx="535.6" cy="379.9" r="2.45" stroke="#222" fill="#fff" stroke-width="0.8"/>
<circle cx="529.8" cy="385.4" r="2.45" stroke="#222" fill="#fff" stroke-width="0.8"/>
<circle cx="550.1" cy="374.6" r="2.45" stroke="#222" fill="#fff" stroke-width="0.8"/>
<circle cx="555.7" cy="375.9" r="2.45" stroke="#222" fill="#fff" stroke-width="0.8"/>
<circle cx="559.9" cy="376.6" r="2.45" stroke="#222" fill="#fff" stroke-width="0.8"/>
<circle cx="563.2" cy="379.2" r="2.45" stroke="#222" fill="#fff" stroke-width="0.8"/>
<circle cx="552.7" cy="379.9" r="2.45" stroke="#222" fill="#fff" stroke-width="0.8"/>
<circle cx="556.4" cy="384.2" r="2.45" stroke="#222" fill="#fff" stroke-width="0.8"/>
<polyline points="502.4,347.8 502.4,342.2 556.4,342.2 556.4,366.6" fill="none" stroke="#2a2a2a" stroke-width="0.7"/>
<text x="531.3" y="342.1" font-size="10.5" text-anchor="middle" font-weight="bold" fill="#222" letter-spacing="1.4">**</text>
<polyline points="502.4,384.2 502.4,352.8 529.8,352.8 529.8,355.3" fill="none" stroke="#2a2a2a" stroke-width="0.7"/>
<text x="517.4" y="352.9" font-size="10.5" text-anchor="middle" font-weight="bold" fill="#222" letter-spacing="1.4">**</text>
<text x="443.2" y="393.5" font-size="8.7" text-anchor="middle" font-weight="normal" fill="#111" transform="rotate(-90 443.2 393.5)" >IFN λ treated</text>
<text x="457.5" y="396.7" font-size="8.7" text-anchor="middle" font-weight="normal" fill="#111" transform="rotate(-90 457.5 396.7)" >normalized to Mock</text>
<rect x="566.5" y="324.4" width="17.5" height="7.6" fill="#2b2b2b" stroke="#222" stroke-width="0.7"/>
<text x="591.2" y="332" font-size="10.8" text-anchor="start" font-weight="normal" fill="#111" >SARS-2</text>
<rect x="566.5" y="340.4" width="17.5" height="7.6" fill="#E8963F" stroke="#222" stroke-width="0.7"/>
<text x="591.2" y="348" font-size="10.8" text-anchor="start" font-weight="normal" fill="#111" >BANAL-52</text>
<rect x="566.5" y="356.3" width="17.5" height="7.6" fill="#DC2B28" stroke="#222" stroke-width="0.7"/>
<text x="591.2" y="363.9" font-size="10.8" text-anchor="start" font-weight="normal" fill="#111" >BANAL-236</text>
<text x="4.6" y="491.6" font-size="22.2" text-anchor="start" font-weight="bold" fill="#111" stroke="#111" stroke-width="0.3">F</text>
<text x="110.4" y="493.4" font-size="9.7" text-anchor="middle" font-weight="normal" fill="#111" >HNECs-ALI MOI 1.0</text>
<line x1="54.6" y1="522.4" x2="54.6" y2="642.9" stroke="#2a2a2a" stroke-width="0.9" />
<line x1="49.8" y1="522.8" x2="54.6" y2="522.8" stroke="#2a2a2a" stroke-width="0.9" />
<text x="47.8" y="526.4" font-size="10" text-anchor="end" font-weight="normal" fill="#111" >7</text>
<line x1="49.8" y1="542.6" x2="54.6" y2="542.6" stroke="#2a2a2a" stroke-width="0.9" />
<text x="47.8" y="546.2" font-size="10" text-anchor="end" font-weight="normal" fill="#111" >6</text>
<line x1="49.8" y1="562.5" x2="54.6" y2="562.5" stroke="#2a2a2a" stroke-width="0.9" />
<text x="47.8" y="566.1" font-size="10" text-anchor="end" font-weight="normal" fill="#111" >5</text>
<line x1="49.8" y1="582.6" x2="54.6" y2="582.6" stroke="#2a2a2a" stroke-width="0.9" />
<text x="47.8" y="586.2" font-size="10" text-anchor="end" font-weight="normal" fill="#111" >4</text>
<line x1="49.8" y1="602.5" x2="54.6" y2="602.5" stroke="#2a2a2a" stroke-width="0.9" />
<text x="47.8" y="606.1" font-size="10" text-anchor="end" font-weight="normal" fill="#111" >3</text>
<line x1="49.8" y1="622.3" x2="54.6" y2="622.3" stroke="#2a2a2a" stroke-width="0.9" />
<text x="47.8" y="625.9" font-size="10" text-anchor="end" font-weight="normal" fill="#111" >2</text>
<line x1="49.8" y1="642.5" x2="54.6" y2="642.5" stroke="#2a2a2a" stroke-width="0.9" />
<text x="47.8" y="646.1" font-size="10" text-anchor="end" font-weight="normal" fill="#111" >1</text>
<line x1="54.2" y1="642.5" x2="173.7" y2="642.5" stroke="#2a2a2a" stroke-width="0.9" />
<text x="36.2" y="584.1" font-size="10" text-anchor="middle" font-weight="normal" fill="#111" transform="rotate(-90 36.2 584.1)" >Log 10 PFU/mL</text>
<line x1="82.6" y1="642.5" x2="82.6" y2="647.6" stroke="#2a2a2a" stroke-width="0.8" />
<line x1="146.6" y1="642.5" x2="146.6" y2="647.6" stroke="#2a2a2a" stroke-width="0.8" />
<text x="82.6" y="655.5" font-size="9.9" text-anchor="middle" font-weight="normal" fill="#111" >0</text>
<text x="146.6" y="655.5" font-size="9.9" text-anchor="middle" font-weight="normal" fill="#111" >5000</text>
<text x="113.6" y="663.6" font-size="9.8" text-anchor="middle" font-weight="normal" fill="#111" >IFNα IU/mL</text>
<rect x="60.4" y="538.8" width="10.3" height="103.7" fill="#1f1f1f" stroke="#222" stroke-width="0.7"/>
<rect x="77.4" y="574.7" width="10.2" height="67.8" fill="#E8963F" stroke="#222" stroke-width="0.7"/>
<rect x="94" y="565.1" width="10.2" height="77.4" fill="#DC2B28" stroke="#222" stroke-width="0.7"/>
<rect x="122.6" y="614.7" width="10.2" height="27.8" fill="#1f1f1f" stroke="#222" stroke-width="0.7"/>
<rect x="139.3" y="603.1" width="10.2" height="39.4" fill="#E8963F" stroke="#222" stroke-width="0.7"/>
<rect x="156.2" y="597.8" width="10.2" height="44.7" fill="#DC2B28" stroke="#222" stroke-width="0.7"/>
<line x1="65.6" y1="530.1" x2="65.6" y2="538.8" stroke="#222" stroke-width="0.8" />
<line x1="63.6" y1="530.1" x2="67.6" y2="530.1" stroke="#222" stroke-width="0.8" />
<line x1="82.5" y1="568" x2="82.5" y2="574.7" stroke="#222" stroke-width="0.8" />
<line x1="80.5" y1="568" x2="84.5" y2="568" stroke="#222" stroke-width="0.8" />
<line x1="99.1" y1="565.1" x2="99.1" y2="572.4" stroke="#222" stroke-width="0.8" />
<line x1="97.1" y1="565.1" x2="101.1" y2="565.1" stroke="#222" stroke-width="0.8" />
<line x1="97.1" y1="572.4" x2="101.1" y2="572.4" stroke="#222" stroke-width="0.8" />
<line x1="127.7" y1="592.8" x2="127.7" y2="614.7" stroke="#222" stroke-width="0.8" />
<line x1="125.7" y1="592.8" x2="129.7" y2="592.8" stroke="#222" stroke-width="0.8" />
<line x1="144.4" y1="597" x2="144.4" y2="603.1" stroke="#222" stroke-width="0.8" />
<line x1="142.4" y1="597" x2="146.4" y2="597" stroke="#222" stroke-width="0.8" />
<line x1="161.3" y1="592" x2="161.3" y2="597.8" stroke="#222" stroke-width="0.8" />
<line x1="159.3" y1="592" x2="163.3" y2="592" stroke="#222" stroke-width="0.8" />
<line x1="54.6" y1="640.1" x2="173.7" y2="640.1" stroke="#111" stroke-width="1.2" stroke-dasharray="1.3 1.3"/>
<circle cx="65.7" cy="523.4" r="2.2" stroke="#222" fill="#fff" stroke-width="0.8"/>
<circle cx="62.2" cy="538.8" r="2.2" stroke="#222" fill="#fff" stroke-width="0.8"/>
<circle cx="65.7" cy="537.4" r="2.2" stroke="#222" fill="#fff" stroke-width="0.8"/>
<circle cx="69.2" cy="538.8" r="2.2" stroke="#222" fill="#fff" stroke-width="0.8"/>
<circle cx="65.7" cy="541.8" r="2.2" stroke="#222" fill="#fff" stroke-width="0.8"/>
<circle cx="78.8" cy="565.7" r="2.2" stroke="#222" fill="#fff" stroke-width="0.8"/>
<circle cx="85.5" cy="565.7" r="2.2" stroke="#222" fill="#fff" stroke-width="0.8"/>
<circle cx="82.6" cy="572.4" r="2.2" stroke="#222" fill="#fff" stroke-width="0.8"/>
<circle cx="78.8" cy="582.6" r="2.2" stroke="#222" fill="#fff" stroke-width="0.8"/>
<circle cx="85.5" cy="581.2" r="2.2" stroke="#222" fill="#fff" stroke-width="0.8"/>
<circle cx="82.6" cy="576.8" r="2.2" stroke="#222" fill="#fff" stroke-width="0.8"/>
<circle cx="102.2" cy="558.4" r="2.2" stroke="#222" fill="#fff" stroke-width="0.8"/>
<circle cx="95.8" cy="562.2" r="2.2" stroke="#222" fill="#fff" stroke-width="0.8"/>
<circle cx="100.7" cy="563.6" r="2.2" stroke="#222" fill="#fff" stroke-width="0.8"/>
<circle cx="97.8" cy="566.6" r="2.2" stroke="#222" fill="#fff" stroke-width="0.8"/>
<circle cx="102.2" cy="568.6" r="2.2" stroke="#222" fill="#fff" stroke-width="0.8"/>
<circle cx="99.3" cy="579.1" r="2.2" stroke="#222" fill="#fff" stroke-width="0.8"/>
<circle cx="127.6" cy="591.4" r="2.2" stroke="#222" fill="#fff" stroke-width="0.8"/>
<circle cx="130.5" cy="603.1" r="2.2" stroke="#222" fill="#fff" stroke-width="0.8"/>
<circle cx="124.1" cy="606" r="2.2" stroke="#222" fill="#fff" stroke-width="0.8"/>
<circle cx="129.3" cy="609.8" r="2.2" stroke="#222" fill="#fff" stroke-width="0.8"/>
<circle cx="127.6" cy="620.6" r="2.2" stroke="#222" fill="#fff" stroke-width="0.8"/>
<circle cx="144.5" cy="593.7" r="2.2" stroke="#222" fill="#fff" stroke-width="0.8"/>
<circle cx="141.6" cy="595.8" r="2.2" stroke="#222" fill="#fff" stroke-width="0.8"/>
<circle cx="146.9" cy="597.2" r="2.2" stroke="#222" fill="#fff" stroke-width="0.8"/>
<circle cx="143.1" cy="600.1" r="2.2" stroke="#222" fill="#fff" stroke-width="0.8"/>
<circle cx="146" cy="601.6" r="2.2" stroke="#222" fill="#fff" stroke-width="0.8"/>
<circle cx="141" cy="602.5" r="2.2" stroke="#222" fill="#fff" stroke-width="0.8"/>
<circle cx="161.2" cy="586.1" r="2.2" stroke="#222" fill="#fff" stroke-width="0.8"/>
<circle cx="161.2" cy="595.2" r="2.2" stroke="#222" fill="#fff" stroke-width="0.8"/>
<circle cx="157.7" cy="601" r="2.2" stroke="#222" fill="#fff" stroke-width="0.8"/>
<circle cx="163.5" cy="601" r="2.2" stroke="#222" fill="#fff" stroke-width="0.8"/>
<circle cx="160.6" cy="599.6" r="2.2" stroke="#222" fill="#fff" stroke-width="0.8"/>
<polyline points="64.2,506.9 64.2,504.4 103.1,504.4 103.1,506.9" fill="none" stroke="#2a2a2a" stroke-width="0.7"/>
<text x="85.4" y="505" font-size="10.5" text-anchor="middle" font-weight="bold" fill="#222" letter-spacing="1.4">***</text>
<polyline points="64.2,518 64.2,515.5 84.7,515.5 84.7,518" fill="none" stroke="#2a2a2a" stroke-width="0.7"/>
<text x="76" y="516.7" font-size="10.5" text-anchor="middle" font-weight="bold" fill="#222" letter-spacing="1.4">***</text>
<polyline points="123.5,573.3 123.5,570.4 162,570.4 162,573.3" fill="none" stroke="#2a2a2a" stroke-width="0.7"/>
<text x="143.9" y="571.4" font-size="13" text-anchor="middle" font-weight="bold" fill="#222" >*</text>
<polyline points="123.5,584.7 123.5,581.8 143.9,581.8 143.9,584.7" fill="none" stroke="#2a2a2a" stroke-width="0.7"/>
<text x="134.9" y="578.9" font-size="7.8" text-anchor="middle" font-weight="normal" fill="#1a1a1a" >ns</text>
<text x="211.3" y="492" font-size="22.2" text-anchor="start" font-weight="bold" fill="#111" stroke="#111" stroke-width="0.3">G</text>
<line x1="268.6" y1="522.4" x2="268.6" y2="643.8" stroke="#2a2a2a" stroke-width="0.9" />
<line x1="263.8" y1="522.8" x2="268.6" y2="522.8" stroke="#2a2a2a" stroke-width="0.9" />
<text x="262.4" y="526.4" font-size="10" text-anchor="end" font-weight="normal" fill="#111" >1.2</text>
<line x1="263.8" y1="549.6" x2="268.6" y2="549.6" stroke="#2a2a2a" stroke-width="0.9" />
<text x="262.4" y="553.2" font-size="10" text-anchor="end" font-weight="normal" fill="#111" >1.0</text>
<line x1="263.8" y1="576.2" x2="268.6" y2="576.2" stroke="#2a2a2a" stroke-width="0.9" />
<text x="262.4" y="579.8" font-size="10" text-anchor="end" font-weight="normal" fill="#111" >0.8</text>
<line x1="263.8" y1="603.1" x2="268.6" y2="603.1" stroke="#2a2a2a" stroke-width="0.9" />
<text x="262.4" y="606.7" font-size="10" text-anchor="end" font-weight="normal" fill="#111" >0.6</text>
<line x1="263.8" y1="629.6" x2="268.6" y2="629.6" stroke="#2a2a2a" stroke-width="0.9" />
<text x="262.4" y="633.2" font-size="10" text-anchor="end" font-weight="normal" fill="#111" >0.4</text>
<line x1="268.2" y1="643.4" x2="358.5" y2="643.4" stroke="#2a2a2a" stroke-width="0.9" />
<rect x="278" y="630.2" width="17.8" height="13.2" fill="#1f1f1f" stroke="#222" stroke-width="0.7"/>
<rect x="305.1" y="587" width="16.9" height="56.4" fill="#E8963F" stroke="#222" stroke-width="0.7"/>
<rect x="331.4" y="595.8" width="17.5" height="47.6" fill="#DC2B28" stroke="#222" stroke-width="0.7"/>
<line x1="286.7" y1="605.1" x2="286.7" y2="630.2" stroke="#222" stroke-width="0.8" />
<line x1="283.7" y1="605.1" x2="289.7" y2="605.1" stroke="#222" stroke-width="0.8" />
<line x1="313.5" y1="582" x2="313.5" y2="587" stroke="#222" stroke-width="0.8" />
<line x1="311" y1="582" x2="316" y2="582" stroke="#222" stroke-width="0.8" />
<line x1="340.1" y1="587.6" x2="340.1" y2="604" stroke="#222" stroke-width="0.8" />
<line x1="336.1" y1="587.6" x2="344.1" y2="587.6" stroke="#222" stroke-width="0.8" />
<line x1="336.1" y1="604" x2="344.1" y2="604" stroke="#222" stroke-width="0.8" />
<circle cx="286.7" cy="605.1" r="2.45" stroke="#222" fill="#fff" stroke-width="0.8"/>
<circle cx="280.3" cy="621.5" r="2.45" stroke="#222" fill="#fff" stroke-width="0.8"/>
<circle cx="292.8" cy="617.7" r="2.45" stroke="#222" fill="#fff" stroke-width="0.8"/>
<circle cx="292.8" cy="622" r="2.45" stroke="#222" fill="#fff" stroke-width="0.8"/>
<circle cx="286.7" cy="637.2" r="2.45" stroke="#222" fill="#fff" stroke-width="0.8"/>
<circle cx="316.8" cy="578.8" r="2.45" stroke="#222" fill="#fff" stroke-width="0.8"/>
<circle cx="310.4" cy="580.6" r="2.45" stroke="#222" fill="#fff" stroke-width="0.8"/>
<circle cx="313.9" cy="584.1" r="2.45" stroke="#222" fill="#fff" stroke-width="0.8"/>
<circle cx="308" cy="587.6" r="2.45" stroke="#222" fill="#fff" stroke-width="0.8"/>
<circle cx="312.4" cy="589.9" r="2.45" stroke="#222" fill="#fff" stroke-width="0.8"/>
<circle cx="319.7" cy="590.5" r="2.45" stroke="#222" fill="#fff" stroke-width="0.8"/>
<circle cx="307.4" cy="592.8" r="2.45" stroke="#222" fill="#fff" stroke-width="0.8"/>
<circle cx="340.1" cy="580.6" r="2.45" stroke="#222" fill="#fff" stroke-width="0.8"/>
<circle cx="340.1" cy="591.4" r="2.45" stroke="#222" fill="#fff" stroke-width="0.8"/>
<circle cx="334.3" cy="602.2" r="2.45" stroke="#222" fill="#fff" stroke-width="0.8"/>
<circle cx="338.7" cy="601.6" r="2.45" stroke="#222" fill="#fff" stroke-width="0.8"/>
<circle cx="343.1" cy="601.6" r="2.45" stroke="#222" fill="#fff" stroke-width="0.8"/>
<circle cx="346.9" cy="601" r="2.45" stroke="#222" fill="#fff" stroke-width="0.8"/>
<polyline points="286.7,549.9 286.7,543.2 341,543.2 341,572.4" fill="none" stroke="#2a2a2a" stroke-width="0.7"/>
<text x="315.2" y="542.4" font-size="10.5" text-anchor="middle" font-weight="bold" fill="#222" letter-spacing="1.4">**</text>
<polyline points="286.7,599.6 286.7,564.2 313.9,564.2 313.9,571.5" fill="none" stroke="#2a2a2a" stroke-width="0.7"/>
<text x="302" y="564" font-size="10.5" text-anchor="middle" font-weight="bold" fill="#222" letter-spacing="1.4">***</text>
<text x="229.3" y="582.6" font-size="8.7" text-anchor="middle" font-weight="normal" fill="#111" transform="rotate(-90 229.3 582.6)" >IFN α treated</text>
<text x="242.4" y="585" font-size="8.7" text-anchor="middle" font-weight="normal" fill="#111" transform="rotate(-90 242.4 585)" >normalized to Mock</text>
<rect x="356.3" y="520.6" width="17" height="7.6" fill="#2b2b2b" stroke="#222" stroke-width="0.7"/>
<text x="380.9" y="528.2" font-size="10.8" text-anchor="start" font-weight="normal" fill="#111" >SARS-2</text>
<rect x="356.3" y="536.6" width="17" height="7.6" fill="#E8963F" stroke="#222" stroke-width="0.7"/>
<text x="380.9" y="544.2" font-size="10.8" text-anchor="start" font-weight="normal" fill="#111" >BANAL-52</text>
<rect x="356.3" y="552.3" width="17" height="7.6" fill="#DC2B28" stroke="#222" stroke-width="0.7"/>
<text x="380.9" y="559.9" font-size="10.8" text-anchor="start" font-weight="normal" fill="#111" >BANAL-236</text>
<text x="433.4" y="492.8" font-size="22.2" text-anchor="start" font-weight="bold" fill="#111" stroke="#111" stroke-width="0.3">H</text>
<text x="460.6" y="493.2" font-size="10.5" text-anchor="start" font-weight="normal" fill="#111" >Pseudovirus IFNα treatment</text>
<line x1="490.2" y1="544.8" x2="490.2" y2="644.9" stroke="#2a2a2a" stroke-width="0.9" />
<line x1="485.4" y1="545.2" x2="490.2" y2="545.2" stroke="#2a2a2a" stroke-width="0.9" />
<text x="484.2" y="548.84" font-size="10.1" text-anchor="end" font-weight="normal" fill="#111" >100</text>
<line x1="485.4" y1="565.1" x2="490.2" y2="565.1" stroke="#2a2a2a" stroke-width="0.9" />
<text x="484.2" y="568.74" font-size="10.1" text-anchor="end" font-weight="normal" fill="#111" >80</text>
<line x1="485.4" y1="584.9" x2="490.2" y2="584.9" stroke="#2a2a2a" stroke-width="0.9" />
<text x="484.2" y="588.54" font-size="10.1" text-anchor="end" font-weight="normal" fill="#111" >60</text>
<line x1="485.4" y1="604.8" x2="490.2" y2="604.8" stroke="#2a2a2a" stroke-width="0.9" />
<text x="484.2" y="608.44" font-size="10.1" text-anchor="end" font-weight="normal" fill="#111" >40</text>
<line x1="485.4" y1="624.6" x2="490.2" y2="624.6" stroke="#2a2a2a" stroke-width="0.9" />
<text x="484.2" y="628.24" font-size="10.1" text-anchor="end" font-weight="normal" fill="#111" >20</text>
<line x1="485.4" y1="644.5" x2="490.2" y2="644.5" stroke="#2a2a2a" stroke-width="0.9" />
<text x="484.2" y="648.14" font-size="10.1" text-anchor="end" font-weight="normal" fill="#111" >0</text>
<line x1="489.8" y1="644.5" x2="560.7" y2="644.5" stroke="#2a2a2a" stroke-width="0.9" />
<text x="465.6" y="587.3" font-size="9.6" text-anchor="middle" font-weight="normal" fill="#111" transform="rotate(-90 465.6 587.3)" >Decrease in Infectivity (%)</text>
<rect x="497.7" y="582.9" width="11.7" height="61.6" fill="#1f1f1f" stroke="#222" stroke-width="0.7"/>
<rect x="519.3" y="572.3" width="11.9" height="72.2" fill="#E8963F" stroke="#222" stroke-width="0.7"/>
<rect x="541.1" y="576" width="12.2" height="68.5" fill="#DC2B28" stroke="#222" stroke-width="0.7"/>
<line x1="503.5" y1="568" x2="503.5" y2="582.9" stroke="#222" stroke-width="0.8" />
<line x1="501" y1="568" x2="506" y2="568" stroke="#222" stroke-width="0.8" />
<line x1="525.3" y1="562.6" x2="525.3" y2="572.3" stroke="#222" stroke-width="0.8" />
<line x1="522.8" y1="562.6" x2="527.8" y2="562.6" stroke="#222" stroke-width="0.8" />
<line x1="547.2" y1="562.3" x2="547.2" y2="588.4" stroke="#222" stroke-width="0.8" />
<line x1="544.7" y1="562.3" x2="549.7" y2="562.3" stroke="#222" stroke-width="0.8" />
<line x1="544.7" y1="588.4" x2="549.7" y2="588.4" stroke="#222" stroke-width="0.8" />
<circle cx="499.4" cy="569.3" r="2.0" stroke="#222" fill="#fff" stroke-width="0.8"/>
<circle cx="507.6" cy="566.1" r="2.0" stroke="#222" fill="#fff" stroke-width="0.8"/>
<circle cx="499.4" cy="580.9" r="2.0" stroke="#222" fill="#fff" stroke-width="0.8"/>
<circle cx="507.6" cy="580.9" r="2.0" stroke="#222" fill="#fff" stroke-width="0.8"/>
<circle cx="503.1" cy="596.1" r="2.0" stroke="#222" fill="#fff" stroke-width="0.8"/>
<circle cx="503.1" cy="603.5" r="2.0" stroke="#222" fill="#fff" stroke-width="0.8"/>
<circle cx="525.5" cy="555.6" r="2.0" stroke="#222" fill="#fff" stroke-width="0.8"/>
<circle cx="525.5" cy="566.8" r="2.0" stroke="#222" fill="#fff" stroke-width="0.8"/>
<circle cx="529.2" cy="572.5" r="2.0" stroke="#222" fill="#fff" stroke-width="0.8"/>
<circle cx="521" cy="575.5" r="2.0" stroke="#222" fill="#fff" stroke-width="0.8"/>
<circle cx="529.2" cy="579.2" r="2.0" stroke="#222" fill="#fff" stroke-width="0.8"/>
<circle cx="521" cy="580.9" r="2.0" stroke="#222" fill="#fff" stroke-width="0.8"/>
<circle cx="547.1" cy="554.4" r="2.0" stroke="#222" fill="#fff" stroke-width="0.8"/>
<circle cx="547.1" cy="573" r="2.0" stroke="#222" fill="#fff" stroke-width="0.8"/>
<circle cx="547.1" cy="580.4" r="2.0" stroke="#222" fill="#fff" stroke-width="0.8"/>
<circle cx="542.9" cy="584.7" r="2.0" stroke="#222" fill="#fff" stroke-width="0.8"/>
<circle cx="551.5" cy="584.7" r="2.0" stroke="#222" fill="#fff" stroke-width="0.8"/>
<polyline points="503.1,535.2 503.1,527.8 547.1,527.8 547.1,535.2" fill="none" stroke="#2a2a2a" stroke-width="0.7"/>
<text x="526.7" y="524.7" font-size="7.8" text-anchor="middle" font-weight="normal" fill="#1a1a1a" >ns</text>
<polyline points="503.1,548.9 503.1,544 523.7,544 523.7,548.9" fill="none" stroke="#2a2a2a" stroke-width="0.7"/>
<text x="513.6" y="540.1" font-size="7.8" text-anchor="middle" font-weight="normal" fill="#1a1a1a" >ns</text>
<polyline points="527.5,548.9 527.5,544 547.1,544 547.1,548.9" fill="none" stroke="#2a2a2a" stroke-width="0.7"/>
<text x="538.4" y="540.1" font-size="7.8" text-anchor="middle" font-weight="normal" fill="#1a1a1a" >ns</text>
<rect x="567.8" y="520" width="16.6" height="7.6" fill="#2b2b2b" stroke="#222" stroke-width="0.7"/>
<text x="591.4" y="527.6" font-size="10.8" text-anchor="start" font-weight="normal" fill="#111" >SARS-2</text>
<rect x="567.8" y="536.2" width="16.6" height="7.6" fill="#E8963F" stroke="#222" stroke-width="0.7"/>
<text x="591.4" y="543.8" font-size="10.8" text-anchor="start" font-weight="normal" fill="#111" >BANAL-52</text>
<rect x="567.8" y="552.1" width="16.6" height="7.6" fill="#DC2B28" stroke="#222" stroke-width="0.7"/>
<text x="591.4" y="559.7" font-size="10.8" text-anchor="start" font-weight="normal" fill="#111" >BANAL-236</text>
<text x="5.2" y="710.4" font-size="22.2" text-anchor="start" font-weight="bold" fill="#111" stroke="#111" stroke-width="0.3">I</text>
<rect x="53.5" y="731.5" width="109.7" height="112.6" fill="#fff" stroke="#3a3a3a" stroke-width="1.1"/>
<line x1="50.1" y1="736.9" x2="53.5" y2="736.9" stroke="#3a3a3a" stroke-width="0.8" />
<text x="48.6" y="738.6" font-size="4.8" text-anchor="end" font-weight="bold" fill="#222" >1.0M</text>
<line x1="50.1" y1="757.9" x2="53.5" y2="757.9" stroke="#3a3a3a" stroke-width="0.8" />
<text x="48.6" y="759.6" font-size="4.8" text-anchor="end" font-weight="bold" fill="#222" >800K</text>
<line x1="50.1" y1="779.2" x2="53.5" y2="779.2" stroke="#3a3a3a" stroke-width="0.8" />
<text x="48.6" y="780.9" font-size="4.8" text-anchor="end" font-weight="bold" fill="#222" >600K</text>
<line x1="50.1" y1="800.6" x2="53.5" y2="800.6" stroke="#3a3a3a" stroke-width="0.8" />
<text x="48.6" y="802.3" font-size="4.8" text-anchor="end" font-weight="bold" fill="#222" >400K</text>
<line x1="50.1" y1="821.9" x2="53.5" y2="821.9" stroke="#3a3a3a" stroke-width="0.8" />
<text x="48.6" y="823.6" font-size="4.8" text-anchor="end" font-weight="bold" fill="#222" >200K</text>
<line x1="50.1" y1="842.3" x2="53.5" y2="842.3" stroke="#3a3a3a" stroke-width="0.8" />
<text x="48.6" y="844" font-size="4.8" text-anchor="end" font-weight="bold" fill="#222" >0</text>
<line x1="51.9" y1="732.7" x2="53.5" y2="732.7" stroke="#3a3a3a" stroke-width="0.5" />
<line x1="51.9" y1="736.9" x2="53.5" y2="736.9" stroke="#3a3a3a" stroke-width="0.5" />
<line x1="51.9" y1="741.1" x2="53.5" y2="741.1" stroke="#3a3a3a" stroke-width="0.5" />
<line x1="51.9" y1="745.3" x2="53.5" y2="745.3" stroke="#3a3a3a" stroke-width="0.5" />
<line x1="51.9" y1="749.5" x2="53.5" y2="749.5" stroke="#3a3a3a" stroke-width="0.5" />
<line x1="51.9" y1="753.7" x2="53.5" y2="753.7" stroke="#3a3a3a" stroke-width="0.5" />
<line x1="51.9" y1="757.9" x2="53.5" y2="757.9" stroke="#3a3a3a" stroke-width="0.5" />
<line x1="51.9" y1="762.1" x2="53.5" y2="762.1" stroke="#3a3a3a" stroke-width="0.5" />
<line x1="51.9" y1="766.3" x2="53.5" y2="766.3" stroke="#3a3a3a" stroke-width="0.5" />
<line x1="51.9" y1="770.5" x2="53.5" y2="770.5" stroke="#3a3a3a" stroke-width="0.5" />
<line x1="51.9" y1="774.7" x2="53.5" y2="774.7" stroke="#3a3a3a" stroke-width="0.5" />
<line x1="51.9" y1="778.9" x2="53.5" y2="778.9" stroke="#3a3a3a" stroke-width="0.5" />
<line x1="51.9" y1="783.1" x2="53.5" y2="783.1" stroke="#3a3a3a" stroke-width="0.5" />
<line x1="51.9" y1="787.3" x2="53.5" y2="787.3" stroke="#3a3a3a" stroke-width="0.5" />
<line x1="51.9" y1="791.5" x2="53.5" y2="791.5" stroke="#3a3a3a" stroke-width="0.5" />
<line x1="51.9" y1="795.7" x2="53.5" y2="795.7" stroke="#3a3a3a" stroke-width="0.5" />
<line x1="51.9" y1="799.9" x2="53.5" y2="799.9" stroke="#3a3a3a" stroke-width="0.5" />
<line x1="51.9" y1="804.1" x2="53.5" y2="804.1" stroke="#3a3a3a" stroke-width="0.5" />
<line x1="51.9" y1="808.3" x2="53.5" y2="808.3" stroke="#3a3a3a" stroke-width="0.5" />
<line x1="51.9" y1="812.5" x2="53.5" y2="812.5" stroke="#3a3a3a" stroke-width="0.5" />
<line x1="51.9" y1="816.7" x2="53.5" y2="816.7" stroke="#3a3a3a" stroke-width="0.5" />
<line x1="51.9" y1="820.9" x2="53.5" y2="820.9" stroke="#3a3a3a" stroke-width="0.5" />
<line x1="51.9" y1="825.1" x2="53.5" y2="825.1" stroke="#3a3a3a" stroke-width="0.5" />
<line x1="51.9" y1="829.3" x2="53.5" y2="829.3" stroke="#3a3a3a" stroke-width="0.5" />
<line x1="51.9" y1="833.5" x2="53.5" y2="833.5" stroke="#3a3a3a" stroke-width="0.5" />
<line x1="51.9" y1="837.7" x2="53.5" y2="837.7" stroke="#3a3a3a" stroke-width="0.5" />
<line x1="51.9" y1="841.9" x2="53.5" y2="841.9" stroke="#3a3a3a" stroke-width="0.5" />
<line x1="54.4" y1="844.1" x2="54.4" y2="847.2" stroke="#3a3a3a" stroke-width="0.8" />
<text x="54.4" y="852.4" font-size="4.8" text-anchor="middle" font-weight="bold" fill="#222" >0</text>
<line x1="73.9" y1="844.1" x2="73.9" y2="847.2" stroke="#3a3a3a" stroke-width="0.8" />
<text x="73.9" y="852.4" font-size="4.8" text-anchor="middle" font-weight="bold" fill="#222" >200K</text>
<line x1="94.7" y1="844.1" x2="94.7" y2="847.2" stroke="#3a3a3a" stroke-width="0.8" />
<text x="94.7" y="852.4" font-size="4.8" text-anchor="middle" font-weight="bold" fill="#222" >400K</text>
<line x1="115.8" y1="844.1" x2="115.8" y2="847.2" stroke="#3a3a3a" stroke-width="0.8" />
<text x="115.8" y="852.4" font-size="4.8" text-anchor="middle" font-weight="bold" fill="#222" >600K</text>
<line x1="136.7" y1="844.1" x2="136.7" y2="847.2" stroke="#3a3a3a" stroke-width="0.8" />
<text x="136.7" y="852.4" font-size="4.8" text-anchor="middle" font-weight="bold" fill="#222" >800K</text>
<line x1="157.2" y1="844.1" x2="157.2" y2="847.2" stroke="#3a3a3a" stroke-width="0.8" />
<text x="157.2" y="852.4" font-size="4.8" text-anchor="middle" font-weight="bold" fill="#222" >1.0M</text>
<line x1="54.4" y1="844.1" x2="54.4" y2="845.8" stroke="#3a3a3a" stroke-width="0.5" />
<line x1="59.27" y1="844.1" x2="59.27" y2="845.8" stroke="#3a3a3a" stroke-width="0.5" />
<line x1="64.15" y1="844.1" x2="64.15" y2="845.8" stroke="#3a3a3a" stroke-width="0.5" />
<line x1="69.03" y1="844.1" x2="69.03" y2="845.8" stroke="#3a3a3a" stroke-width="0.5" />
<line x1="73.9" y1="844.1" x2="73.9" y2="845.8" stroke="#3a3a3a" stroke-width="0.5" />
<line x1="78.78" y1="844.1" x2="78.78" y2="845.8" stroke="#3a3a3a" stroke-width="0.5" />
<line x1="83.65" y1="844.1" x2="83.65" y2="845.8" stroke="#3a3a3a" stroke-width="0.5" />
<line x1="88.53" y1="844.1" x2="88.53" y2="845.8" stroke="#3a3a3a" stroke-width="0.5" />
<line x1="93.4" y1="844.1" x2="93.4" y2="845.8" stroke="#3a3a3a" stroke-width="0.5" />
<line x1="98.28" y1="844.1" x2="98.28" y2="845.8" stroke="#3a3a3a" stroke-width="0.5" />
<line x1="103.15" y1="844.1" x2="103.15" y2="845.8" stroke="#3a3a3a" stroke-width="0.5" />
<line x1="108.03" y1="844.1" x2="108.03" y2="845.8" stroke="#3a3a3a" stroke-width="0.5" />
<line x1="112.9" y1="844.1" x2="112.9" y2="845.8" stroke="#3a3a3a" stroke-width="0.5" />
<line x1="117.78" y1="844.1" x2="117.78" y2="845.8" stroke="#3a3a3a" stroke-width="0.5" />
<line x1="122.65" y1="844.1" x2="122.65" y2="845.8" stroke="#3a3a3a" stroke-width="0.5" />
<line x1="127.53" y1="844.1" x2="127.53" y2="845.8" stroke="#3a3a3a" stroke-width="0.5" />
<line x1="132.4" y1="844.1" x2="132.4" y2="845.8" stroke="#3a3a3a" stroke-width="0.5" />
<line x1="137.28" y1="844.1" x2="137.28" y2="845.8" stroke="#3a3a3a" stroke-width="0.5" />
<line x1="142.15" y1="844.1" x2="142.15" y2="845.8" stroke="#3a3a3a" stroke-width="0.5" />
<line x1="147.03" y1="844.1" x2="147.03" y2="845.8" stroke="#3a3a3a" stroke-width="0.5" />
<line x1="151.9" y1="844.1" x2="151.9" y2="845.8" stroke="#3a3a3a" stroke-width="0.5" />
<line x1="156.78" y1="844.1" x2="156.78" y2="845.8" stroke="#3a3a3a" stroke-width="0.5" />
<line x1="161.65" y1="844.1" x2="161.65" y2="845.8" stroke="#3a3a3a" stroke-width="0.5" />
<text x="34.3" y="792.7" font-size="10" text-anchor="middle" font-weight="normal" fill="#333" transform="rotate(-90 34.3 792.7)" >SSC-H</text>
<text x="109.1" y="866.2" font-size="10" text-anchor="middle" font-weight="normal" fill="#333" >SSC-A</text>
<clipPath id="c1"><rect x="54" y="732" width="108.8" height="111"/></clipPath>
<g clip-path="url(#c1)">
<path d="M114.39 807.56h0.75M93.55 819.43h0.75M127.58 796.28h0.75M114.65 811.64h0.75M130.44 796.82h0.75M143.36 788.26h0.75M149.15 779.41h0.75M142.38 795.17h0.75M85.99 819.03h0.75M132.51 780.21h0.75M151.45 759.89h0.75M157.02 782.63h0.75M116.07 810.07h0.75M95.56 807.33h0.75M122.16 799.04h0.75M122.37 796.31h0.75M86.3 820.19h0.75M133.92 799.45h0.75M118.37 802.29h0.75M147.24 781.36h0.75M121.52 785.2h0.75M133.55 789.3h0.75M87.34 819.97h0.75M142.14 799.54h0.75M138.47 771.01h0.75M125.22 805.8h0.75M155.43 792.52h0.75M157.57 784.03h0.75M123.51 804.51h0.75M151.63 794.19h0.75M147.74 777.41h0.75M111.45 806.81h0.75M130.99 790.32h0.75M128.48 802.88h0.75M107.26 800.98h0.75M120.5 800.28h0.75M160.69 785.62h0.75M143.65 780.92h0.75M114.19 797.45h0.75M119.42 799.4h0.75M123.19 785.81h0.75M151.68 785.1h0.75M88.01 826.42h0.75M104.02 823.78h0.75M141.84 786.52h0.75M104.92 811.09h0.75M156.56 757.73h0.75M143.55 790.8h0.75M143.13 780.9h0.75M154.79 767.92h0.75M133.08 794.32h0.75M140.83 786.99h0.75M140.87 794.16h0.75M139.08 790.59h0.75M152.3 780.37h0.75M130.2 775.66h0.75M102.77 813.45h0.75M127.29 800.55h0.75M107.91 813.94h0.75M120.31 800.26h0.75M123.8 799.37h0.75M143.85 787.4h0.75M106.27 804.82h0.75M124.55 801.46h0.75M159.46 770.58h0.75M151.64 780.2h0.75M137.02 779.96h0.75M131.79 789.33h0.75M133.05 782.27h0.75M152.97 775.6h0.75M136.58 791.38h0.75M132.22 798.21h0.75M156.65 766.97h0.75M132.98 793.54h0.75M82.02 824.08h0.75M129 802.5h0.75M152.61 781.41h0.75M84.21 825.69h0.75M160.61 773.12h0.75M127.05 798.74h0.75M110.53 811.1h0.75M135.14 784.2h0.75M116.51 794.2h0.75M114.06 813.51h0.75M130.41 798.45h0.75M111.16 797.7h0.75M132.53 798.88h0.75M110.51 809.49h0.75M152.2 781.17h0.75M138.42 794.03h0.75M94.05 808.73h0.75M100.2 810.88h0.75M137.41 794.81h0.75M102.05 814.88h0.75M130.28 797.56h0.75M134.02 790.92h0.75M128.65 781.27h0.75M105.52 801.35h0.75M141.87 805.41h0.75M140.73 771.64h0.75M122.29 801.31h0.75M88.37 818.73h0.75M96.98 817.42h0.75M122.29 793.71h0.75M97.53 819.02h0.75M103.74 813.97h0.75M125.39 799.14h0.75M115.21 806.04h0.75M118.96 797.51h0.75M136.33 793.8h0.75M98.53 805.54h0.75M143.38 778.62h0.75M102.81 800.83h0.75M129.89 790.36h0.75M135.4 788.08h0.75M119.63 792.98h0.75M100.85 814h0.75M115.31 803.06h0.75M146.7 789.36h0.75M103.41 811.78h0.75M144.76 777h0.75M111.58 814.13h0.75M132.12 801.74h0.75M93.35 818.92h0.75M158.45 784.15h0.75M124.02 800.16h0.75M153.58 787.4h0.75M102.81 815.68h0.75M156.58 772.98h0.75M130.54 790.96h0.75M108.02 811.38h0.75M158.31 775.64h0.75M120.99 803.59h0.75M126.14 799.55h0.75M105.98 809.74h0.75M149.19 788.79h0.75M116.65 792.18h0.75M126.12 796.52h0.75M134.2 811.9h0.75M105.91 811.95h0.75M142.4 786.63h0.75M106.65 797.45h0.75M134.51 786.64h0.75M151.62 775.53h0.75M121.06 798.25h0.75M127.3 796.89h0.75M84.95 819.57h0.75M159.83 782.62h0.75M102.93 806.22h0.75M119.41 807.1h0.75M151.48 783.95h0.75M120.85 797.54h0.75M149.81 785.97h0.75M150.24 781.58h0.75M106.94 805.71h0.75M152.02 769.35h0.75M82.31 818.84h0.75M118.57 789.86h0.75M133.84 784.44h0.75M127.75 779.91h0.75M148.87 773.82h0.75M134.87 778.05h0.75M117.68 810.88h0.75M125.02 800.71h0.75M124.4 802.63h0.75M99.46 818.54h0.75M158.85 779.29h0.75M137.7 785.45h0.75M155.75 792.38h0.75M153.38 785.42h0.75M114.62 802.32h0.75M158.46 777.47h0.75M114.95 818.27h0.75M102.53 816.87h0.75M89.02 815.85h0.75M140.7 784.1h0.75M134.48 788.67h0.75M147.14 797.92h0.75M150.98 771.98h0.75M121.14 787.97h0.75M119.11 800.49h0.75M146.69 790.1h0.75M152.14 785.52h0.75M124.99 790.29h0.75M149.81 789.66h0.75M133.31 778.25h0.75M131.59 802.71h0.75M87.66 817.38h0.75M112 792.73h0.75M107.8 810.7h0.75M134.72 788.05h0.75M131.76 804.41h0.75M145.8 787.44h0.75M155.41 785.04h0.75M137.17 788.19h0.75M116.42 811.47h0.75M144.07 806.39h0.75M95.94 815.52h0.75M134.44 793.93h0.75M84.22 826.64h0.75M113.17 801.31h0.75M115.87 802.5h0.75M84.36 823.91h0.75M120.92 795.09h0.75M97.99 803.85h0.75M151.1 778.55h0.75M118.4 805.29h0.75M125.41 797.25h0.75M158.39 779.27h0.75M141.1 787.84h0.75M157.21 759.94h0.75M115.26 802.93h0.75M143.85 792.66h0.75M142.79 791.07h0.75M123.74 788.28h0.75M127.61 786.54h0.75M129.65 795.77h0.75M125.89 788.55h0.75M124.43 795.25h0.75M132.29 783.09h0.75M139.55 796.12h0.75M157.23 780.04h0.75M157.79 765.77h0.75M111.3 807.01h0.75M94.13 822.57h0.75M157.23 762.02h0.75M134.15 810.84h0.75M91.76 826.41h0.75M130.98 797.32h0.75M109.5 802.3h0.75M117.69 810.12h0.75M146.67 784.24h0.75M133.36 799.76h0.75M159.28 781.99h0.75M159.94 761.61h0.75M101.84 800.3h0.75M113.92 814.3h0.75M132.78 805.01h0.75M157.18 772.65h0.75M131.06 798.68h0.75M112.57 808.77h0.75M94.87 815.64h0.75M88.71 815.07h0.75M154.15 782.04h0.75M131.08 793.14h0.75M151.82 792.37h0.75M121.1 801.05h0.75M92.99 804.48h0.75M86.14 817.55h0.75M152.61 785.62h0.75M140.56 787.48h0.75M159.01 797.5h0.75M159.12 790.01h0.75M146.87 777.19h0.75M119.28 812.11h0.75M137.81 785.01h0.75M118.16 814.56h0.75M87.72 820.12h0.75M122.43 800.9h0.75M90.22 818.71h0.75M103.15 819.71h0.75M130.07 799.45h0.75M108.78 809.67h0.75M112.23 805.46h0.75M112.83 810.33h0.75M85.4 827.01h0.75M148.24 792.24h0.75M93.38 816.43h0.75M122.79 800.1h0.75M158.2 772.46h0.75M137.96 792.08h0.75M150.08 778.08h0.75M148.52 776.14h0.75M133.63 799h0.75M122.13 802.98h0.75M102.62 810.63h0.75M100.97 811.5h0.75M118.57 796.37h0.75M131.31 792.97h0.75M144.24 784.74h0.75M110.25 809.13h0.75M128.83 800.85h0.75M141.61 799.65h0.75M115.48 807.61h0.75M116.88 803.85h0.75M140.27 800.86h0.75M97.08 817.23h0.75M110.27 798.06h0.75M129.24 787.66h0.75M120.81 798.8h0.75M108.16 803.95h0.75M106.72 812.67h0.75M99.04 812.66h0.75M132.34 791.77h0.75M147.68 784.75h0.75M124.77 796.31h0.75M140.68 802.42h0.75M153.4 786.43h0.75M133.73 793.19h0.75M149.08 782.86h0.75M104.11 807.36h0.75M103.35 814.15h0.75M139.96 787.17h0.75M133.87 793.37h0.75M134.03 802.67h0.75M122.61 802.24h0.75M95.9 808.38h0.75M127.33 801.42h0.75M93.99 817.26h0.75M89.17 820.77h0.75M105.58 808.15h0.75M120.42 800.5h0.75M120.05 800.53h0.75M125.96 798.53h0.75M109.16 811.91h0.75M152.28 785.63h0.75M129.26 806.38h0.75M106.78 809.3h0.75M142.22 783.91h0.75M138.6 796.25h0.75M136.29 804.4h0.75M143.8 793.12h0.75M127.4 804.82h0.75M142.29 790.73h0.75M138.33 784.47h0.75M152.65 768.35h0.75M117.19 804.46h0.75M116.47 805.76h0.75M160.64 787.36h0.75M97.63 804.8h0.75M97.95 809.49h0.75M96.27 814.29h0.75M149.35 782.21h0.75M154.31 782.94h0.75M102.17 815.51h0.75M139.2 797.4h0.75M113.74 812.81h0.75M112.69 808.9h0.75M152 794.11h0.75M133.03 796.1h0.75M125.44 798.96h0.75M118.7 797.45h0.75M154.02 775.03h0.75M90.5 826.09h0.75M150.61 776.58h0.75M126.35 799.06h0.75M108.05 802.05h0.75M146.19 783.42h0.75M138.51 791.13h0.75M98.8 808.54h0.75M111.19 811.09h0.75M143.63 783.39h0.75M120.31 799.83h0.75M137.08 799.56h0.75M142.23 788.93h0.75M154.31 787.7h0.75M117.07 805.53h0.75M113.51 803.36h0.75M142.84 793.83h0.75M132.99 797.14h0.75M151.41 784.93h0.75M156.28 786.27h0.75M150.91 793.43h0.75M153.29 760.83h0.75M129.75 806.36h0.75M150.79 773.95h0.75M119.98 810.01h0.75M106.84 808.58h0.75M116.36 801.57h0.75M96.15 815.18h0.75M111.66 804.77h0.75M105.63 812.33h0.75M85.06 822.83h0.75M145.82 795.53h0.75M124.26 791.17h0.75M140.49 774.5h0.75M99.13 809.33h0.75M153.42 802.33h0.75M139.95 792.04h0.75M84.01 820.33h0.75M101.52 810.73h0.75M92.12 823.24h0.75M152.94 777.79h0.75M94.08 817.91h0.75M120.82 783.9h0.75M107.91 810.48h0.75M116.16 797.72h0.75M158.54 782.18h0.75M109.71 807.14h0.75M141.14 791.96h0.75M122.88 795.17h0.75M125.22 792.26h0.75M139.38 784.99h0.75M153.1 778.91h0.75M92.67 818.3h0.75M143.52 795.5h0.75M99.97 816.13h0.75M138.49 797.66h0.75M94.33 830.58h0.75M134.59 788.45h0.75M146.03 785.37h0.75M97.12 808.2h0.75M116.86 800.13h0.75M160.17 779.58h0.75M136.01 788.33h0.75M103.24 810.92h0.75M108.75 808.45h0.75M93.26 821.22h0.75M125.45 806.96h0.75M135.19 789.16h0.75M123.15 801.44h0.75M94.47 816.62h0.75M131.44 774.66h0.75M123.89 802.28h0.75M113.36 812.99h0.75M140.21 778.67h0.75M125.36 813.33h0.75M81.82 829.55h0.75M123.52 796.32h0.75M127.04 805.97h0.75M111.83 804.04h0.75M107.59 804.71h0.75M108.3 798.16h0.75M143.79 791.55h0.75M140.7 802.61h0.75M136.77 786.75h0.75M132.82 797.49h0.75M146.03 779.07h0.75M107.4 814.23h0.75M145.64 787.6h0.75M141.65 781.68h0.75M126.85 798.94h0.75M139.33 783.15h0.75M90.18 815.12h0.75M125.26 795.49h0.75M138.85 780.68h0.75M157.47 786.88h0.75M157.56 768.76h0.75M98.4 815.01h0.75M159.07 784.09h0.75M114.91 806.13h0.75M143.22 788.21h0.75M154.96 777.51h0.75M141.36 799.39h0.75M141.51 792.03h0.75M92.04 815.64h0.75M131.9 798.3h0.75M144.41 803.06h0.75M159.25 782.94h0.75M107.87 806.55h0.75M145.01 792.89h0.75M141.77 779.81h0.75M100.11 811.28h0.75M99.11 812.71h0.75M118.63 803.85h0.75M104.61 820.14h0.75M133.92 804.36h0.75M108.13 803.57h0.75M159.04 785.46h0.75M109.29 804.15h0.75M115.83 799.04h0.75M104.23 814.96h0.75M104.32 815.69h0.75M122.45 797.77h0.75M85.02 817.94h0.75M136.32 793.24h0.75M119.39 793.92h0.75M104.07 806.16h0.75M146.29 797.98h0.75M143.05 792.38h0.75M117.44 789.51h0.75M153.1 769.99h0.75M106.86 808.05h0.75M119.95 796.61h0.75M152.47 786.96h0.75M122.59 789.48h0.75M102.29 809.27h0.75M109.48 813.22h0.75M161.28 777.01h0.75M138.63 800.41h0.75M153.86 771.88h0.75M155.37 785.01h0.75M122.74 789.17h0.75M139.55 791.85h0.75M143.4 780.5h0.75M147.24 789.91h0.75M107.52 806.1h0.75M151.25 772.32h0.75M135.86 788.51h0.75M97.46 818.74h0.75M131.75 793.54h0.75M146.52 773.08h0.75M108.25 803.1h0.75M117.31 801.14h0.75M117.94 805.57h0.75M137.21 793.68h0.75M142.57 778.86h0.75M135.43 789.99h0.75M140.08 794.42h0.75M85.66 824.51h0.75M92.51 811.1h0.75M147.47 777.83h0.75M103.04 800.09h0.75M137.8 788.66h0.75M138.93 803.58h0.75M154.73 770.35h0.75M135.37 778.78h0.75M92.77 818.88h0.75M143.47 790.29h0.75M161.17 781.99h0.75M94.21 819.78h0.75M93.49 821.75h0.75M129.4 787.69h0.75M133.52 793.78h0.75M125.27 796.12h0.75M108.5 809.21h0.75M143.39 790.05h0.75M106.36 817.52h0.75M105.56 809.2h0.75M159.56 780.07h0.75M149.12 793.66h0.75M97.36 809.52h0.75M119.19 802.78h0.75M120.07 805.65h0.75M85.78 821.55h0.75M115.77 804.23h0.75M90.84 818.43h0.75M89.45 818.78h0.75M140.03 792.81h0.75M113.6 805.3h0.75M112.42 813.99h0.75M152.5 779.54h0.75M129.16 783.39h0.75M146.59 796.71h0.75M132.66 801.87h0.75M158.78 770.93h0.75M119.59 802.34h0.75M103.19 811.31h0.75M138.56 789.35h0.75M103.01 809.24h0.75M111.22 805.47h0.75M132.92 797.76h0.75M119.43 796.28h0.75M139.73 805.83h0.75M137.38 795.46h0.75M86.51 817.41h0.75M157.01 767.68h0.75M99.21 807.54h0.75M108 812.7h0.75M122.16 806.27h0.75M154.75 797.5h0.75M84.14 826.71h0.75M118.72 806.48h0.75M102.05 810.97h0.75M123.7 800.84h0.75M147.65 783.18h0.75M124.64 791.17h0.75M137.68 791.09h0.75M123.81 801.14h0.75M161.6 793.44h0.75M143.53 794.17h0.75M141.44 795.17h0.75M112.64 799.57h0.75M135.41 793.47h0.75M98.87 819.06h0.75M150.07 772.52h0.75M154.91 776.05h0.75M99.14 820.86h0.75M109.3 809.06h0.75M148.77 775.71h0.75M121.02 799.01h0.75M139.75 778.62h0.75M158.53 787.64h0.75M125.64 793.94h0.75M119.38 808.54h0.75M103.8 811.56h0.75M108.09 811.52h0.75M124.29 796.17h0.75M102.61 816.19h0.75M157.24 779.72h0.75M119.42 792.83h0.75M152.41 771.83h0.75M156.93 776.12h0.75M146.65 782.12h0.75M90.37 810.62h0.75M82.88 820.69h0.75M115.65 801.35h0.75M128.72 799.5h0.75M115.17 808.32h0.75M120.91 800.36h0.75M141.63 773.82h0.75M119.94 811.44h0.75M92.37 815.33h0.75M83.73 822.8h0.75M158.54 791.2h0.75M108.22 812.95h0.75M115.85 814.03h0.75M139.26 786.14h0.75M87.46 817.09h0.75M157.58 791.23h0.75M151.54 772.52h0.75M97.68 811.08h0.75M111.1 809.11h0.75M99.1 804.8h0.75M99.42 816.53h0.75M127.15 791.24h0.75M151.13 783.86h0.75M129.28 801.49h0.75M111.91 803.05h0.75M95.37 812.33h0.75M101.25 815.71h0.75M133.94 794.47h0.75M97.83 818.66h0.75M159.38 791.02h0.75M112.09 802.76h0.75M109.85 810.32h0.75M112.07 802.2h0.75M144.79 795.86h0.75M133.4 793.06h0.75M112.53 809.67h0.75M85.14 821.22h0.75M152.02 786.73h0.75M135.44 796.34h0.75M93.4 808.66h0.75M131.62 788.44h0.75M137.83 795.96h0.75M137.76 776.09h0.75M124.9 799.23h0.75M101.85 818.35h0.75M108.15 801.18h0.75M130.84 790.06h0.75M146.31 788.37h0.75M123.76 795.51h0.75M87.66 821.37h0.75M149.65 794.18h0.75M107.93 820.05h0.75M145.65 787.25h0.75M92.49 814.9h0.75M118.47 804.9h0.75M115.58 803.76h0.75M82.5 826.52h0.75M119.92 809.2h0.75M123.3 811.08h0.75M152.52 757.62h0.75M133.99 799.11h0.75M150.64 785.68h0.75M134.32 797.82h0.75M125.63 795.16h0.75M139.91 791.58h0.75M152.2 781.18h0.75M151.18 778.97h0.75M117.78 786.96h0.75M86.33 816.51h0.75M113.43 807.65h0.75M87.67 826.52h0.75M117.01 807.49h0.75M125.93 795.49h0.75M140.99 789.49h0.75M116.65 805.11h0.75M137.27 800.7h0.75M104.86 811.29h0.75M142.82 788.11h0.75M155.28 790.59h0.75M140.6 790.96h0.75M132.9 801.89h0.75M94.81 812.78h0.75M140.69 795.51h0.75M84.07 823.91h0.75M113.49 811.64h0.75M139.99 782.56h0.75M148.47 794.74h0.75M104.85 809.16h0.75M98.43 810.33h0.75M99.13 805.88h0.75M90.53 825.11h0.75M154.66 767.58h0.75M128.41 796.1h0.75M147.25 787.27h0.75M98.22 805.63h0.75M138.78 786.38h0.75M117.24 800.34h0.75M154.47 768.89h0.75M144.23 783.08h0.75M106.05 814.41h0.75M123.23 795.43h0.75M100.82 813.46h0.75M96.97 813.31h0.75M110.36 800.9h0.75M130.72 813.19h0.75M128.43 787.83h0.75M158.47 777.1h0.75M115.7 804.28h0.75M137.68 805.26h0.75M103.94 817.02h0.75M124.25 794.71h0.75M116.67 812.26h0.75M134.48 784.25h0.75M99 816.06h0.75M148.84 787.89h0.75M138.25 786.28h0.75" stroke="#9fb6e0" stroke-width="0.75" fill="none" opacity="0.9"/>
<path d="M128.38 797.36h0.75M141.15 792.72h0.75M145.81 788.72h0.75M100.39 812.02h0.75M148.51 786.36h0.75M143.21 783.24h0.75M125.49 801.04h0.75M98.3 809.58h0.75M124.02 791.11h0.75M156.73 776.15h0.75M109.03 812.18h0.75M132.52 793.53h0.75M120.84 798.03h0.75M129.1 795.99h0.75M106.76 811.76h0.75M141.29 787.28h0.75M132.27 785.65h0.75M149.77 782.02h0.75M99.08 812.93h0.75M115.5 808.71h0.75M148.91 775.61h0.75M121.71 796.82h0.75M96.67 814.43h0.75M101.22 806.71h0.75M134.04 795.51h0.75M91.57 818.47h0.75M154.41 781.99h0.75M158.6 778.41h0.75M128.41 793.23h0.75M86.49 827.37h0.75M138.63 785.13h0.75M109.64 813.13h0.75M116.05 809.3h0.75M99.14 819.74h0.75M154.64 788.89h0.75M138.04 787.78h0.75M116.01 806.64h0.75M117 797.17h0.75M134.19 803.24h0.75M110.04 808.53h0.75M97.4 820.15h0.75M121.48 793.42h0.75M137.39 791.97h0.75M157.46 777.26h0.75M136.83 798.17h0.75M126.18 794.88h0.75M120.8 800.12h0.75M92.48 812.26h0.75M130.53 789.96h0.75M107.88 807.29h0.75M157.65 781.58h0.75M159.31 778.66h0.75M149.76 796.07h0.75M154.4 776.65h0.75M116.97 813.97h0.75M101.47 814.73h0.75M157.41 765.64h0.75M126.46 792.37h0.75M126.64 804.8h0.75M146.52 779.44h0.75M139.69 790.53h0.75M107.38 806.64h0.75M135.52 793.78h0.75M98.59 821.35h0.75M141.27 794.38h0.75M129.66 797.97h0.75M137.96 785.71h0.75M132.35 797.29h0.75M94.71 821.1h0.75M126.41 796.78h0.75M121.95 797.36h0.75M104.44 810.62h0.75M92.4 818.82h0.75M93.14 818.19h0.75M95.94 815.53h0.75M118.67 801.71h0.75M151.46 772.32h0.75M100.51 813.87h0.75M125.52 793.75h0.75M153.51 788.27h0.75M90.91 820.13h0.75M120.23 800.51h0.75M110.68 810.07h0.75M152.32 779.02h0.75M135.08 790.45h0.75M112.36 807.37h0.75M128.29 797.22h0.75M134.33 791.63h0.75M105.49 810.65h0.75M120.38 800.27h0.75M116.02 809.53h0.75M98.2 817.48h0.75M133.87 790.43h0.75M106.4 809.97h0.75M158.04 782.78h0.75M134.93 797.23h0.75M93.82 817.61h0.75M107.69 804.39h0.75M149.06 782.53h0.75M118.3 805.75h0.75M153.53 778.65h0.75M141.29 799.1h0.75M128.5 796.21h0.75M158.58 777.96h0.75M95.16 818.73h0.75M151.53 773.83h0.75M148.38 789.8h0.75M101.44 807.48h0.75M151.58 768.04h0.75M136.01 786.68h0.75M92.68 818.85h0.75M127.65 793.74h0.75M146.03 791.54h0.75M102.17 814.93h0.75M114.52 809.23h0.75M109.03 803.21h0.75M110.05 805.08h0.75M151.13 774.89h0.75M86.19 820.12h0.75M93.67 821.3h0.75M101.12 816h0.75M107.03 804.74h0.75M119.86 801.97h0.75M147.14 793.87h0.75M139.24 787.94h0.75M136.1 797.79h0.75M156.97 777.78h0.75M110.39 806.2h0.75M142.08 780.32h0.75M101.23 806.25h0.75M160.6 774.21h0.75M133.26 793.17h0.75M149.79 771.84h0.75M144.76 795.5h0.75M154.02 775.4h0.75M88.91 817.84h0.75M137.32 795.77h0.75M89.9 820.25h0.75M98.92 806.72h0.75M149.54 787.77h0.75M119.07 797.87h0.75M135.89 790.06h0.75M111.2 804.1h0.75M90.48 815.71h0.75M131.49 789.57h0.75M149.83 793.03h0.75M142.92 784.73h0.75M115.09 802.68h0.75M149.42 779.38h0.75M138.8 785.15h0.75M129.84 797.97h0.75M138.27 787.82h0.75M139.01 790.33h0.75M140.9 784.4h0.75M91.27 819.93h0.75M86.53 821.21h0.75M95.96 811.02h0.75M131.44 793.87h0.75M152 793.5h0.75M83.65 827.57h0.75M121.45 794.91h0.75M143.08 782.95h0.75M139.79 781.32h0.75M109.59 804.9h0.75M147.37 788.15h0.75M153.87 788.34h0.75M118.44 811.19h0.75M138.25 787.52h0.75M87.31 822.11h0.75M98.32 815.02h0.75M101 816.43h0.75M147.39 777.51h0.75M147.32 782.64h0.75M100.98 809.51h0.75M141.32 793.72h0.75M149.23 786h0.75M119.33 803.97h0.75M142.53 798.8h0.75M151.13 772.59h0.75M109.82 812.46h0.75M152.79 787.72h0.75M137.51 792.24h0.75M93.13 817.34h0.75M130.52 795.82h0.75M106.08 806.49h0.75M135.89 792.26h0.75M122.37 793.65h0.75M92.53 821.13h0.75M111.81 800.47h0.75M158.34 780.86h0.75M105.17 815.63h0.75M102.95 814.55h0.75M153.36 770.76h0.75M133.61 790.1h0.75M133.21 791.44h0.75M124.64 801.4h0.75M156.89 782.46h0.75M101.11 816.25h0.75M132.3 784.27h0.75M142.05 780.33h0.75M103.65 814.1h0.75M91.93 814.01h0.75M125.88 808.74h0.75M103.02 812.57h0.75M117.07 802.06h0.75M135.22 787.62h0.75M140.95 785.19h0.75M126.44 800.56h0.75M144.71 789.39h0.75M98.72 813.5h0.75M143.53 802.56h0.75M135.37 800.95h0.75M120.06 803.8h0.75M103.97 812.27h0.75M105.17 813.12h0.75M95.04 808.15h0.75M146.76 778.39h0.75M132.4 793.58h0.75M155.27 764.48h0.75M147.4 794.9h0.75M94.43 818h0.75M102.4 810.8h0.75M102.54 808.1h0.75M144.05 793.17h0.75M101.91 812.6h0.75M151.98 783.31h0.75M115.73 801.71h0.75M93.15 812.68h0.75M157.89 786.76h0.75M112.22 797.69h0.75M149.1 774.49h0.75M140.39 789.98h0.75M116.22 800.84h0.75M131.96 804.26h0.75M93.5 818.42h0.75M91.86 813.13h0.75M85.81 825.05h0.75M134.53 784.6h0.75M113.26 810.92h0.75M128.38 791.71h0.75M83.09 821.77h0.75M148.49 787.78h0.75M118.01 807.61h0.75M145.13 790.68h0.75M109.75 801.72h0.75M114.12 799.34h0.75M155 776.98h0.75M121.01 800.06h0.75M157.82 784.7h0.75M107.86 811h0.75M102.07 814.3h0.75M140.91 783.54h0.75M125.81 795.57h0.75M156.51 777.96h0.75M135.32 789.6h0.75M140.54 787.88h0.75M125.49 790.2h0.75M147.49 786.46h0.75M146.3 781.17h0.75M90.94 818.61h0.75M139.35 779.3h0.75M127.99 796.37h0.75M138.9 784.76h0.75M102.35 816.3h0.75M153.09 774.27h0.75M117.18 807.56h0.75M136.66 783.61h0.75M102.24 815.15h0.75M101.26 810.64h0.75M136.26 788.17h0.75M145.47 786.33h0.75M114.54 809.71h0.75M135.8 795.78h0.75M113.16 801.76h0.75M109.22 810.3h0.75M157.69 785.74h0.75M117.29 801.66h0.75M136.07 779.43h0.75M120.82 801.16h0.75M139.7 777.56h0.75M98.94 815.41h0.75M151.45 773.68h0.75M125.51 799.57h0.75M97.29 817.28h0.75M135.17 791.64h0.75M123.89 798.68h0.75M119.09 802.22h0.75M139.87 789.41h0.75M121.98 802.59h0.75M84.82 822.48h0.75M108.18 810.87h0.75M123.01 800.17h0.75M84.22 825.78h0.75M126.77 788.96h0.75M134.2 788.74h0.75M143.37 779.98h0.75M124.32 801.08h0.75M127.36 792.38h0.75M153.9 788.88h0.75M133.31 781.11h0.75M129.77 793.56h0.75M144.78 795.17h0.75M115.32 805.31h0.75M135.6 793.82h0.75M144.47 791.34h0.75M122.78 803.5h0.75M116.06 803.71h0.75M114.77 803.76h0.75M120.54 797.15h0.75M91.4 821.34h0.75M131.85 796.5h0.75M133.5 795.95h0.75M150.29 782.61h0.75M101.4 816.07h0.75M138.22 783.42h0.75M157 783.05h0.75M97.53 814.32h0.75M148.61 780.39h0.75M135.75 790.17h0.75M148.69 781.34h0.75M100.32 808.62h0.75M96.58 818.42h0.75M100.01 814.32h0.75M91.42 818.07h0.75M91.92 818.52h0.75M126.41 789.06h0.75M143.12 783.44h0.75M112.6 807.73h0.75M154.23 773.31h0.75M110.03 802.14h0.75M112.57 802.92h0.75M132.5 795.05h0.75M106.81 813.67h0.75M108.09 810.21h0.75M160.6 779.97h0.75M138.47 794.62h0.75M136.65 795.13h0.75M85.53 817.49h0.75M138.58 788.13h0.75M84.12 821.31h0.75M127.91 798.15h0.75M157.54 774.08h0.75M155.13 774.9h0.75M143.08 785.84h0.75M138.6 789.95h0.75M152.88 775.74h0.75M135.15 785.89h0.75M100.7 816.56h0.75M127.56 798.27h0.75M109.21 806.99h0.75M136.56 787.51h0.75M143.37 788.33h0.75M108.48 814.96h0.75M115.59 808.14h0.75M118.47 800.81h0.75M115.07 806.99h0.75M133.08 794.5h0.75M106.91 817.91h0.75M95.9 811.77h0.75M130.19 792.98h0.75M102.73 811.25h0.75M129.76 802.87h0.75M129.29 787.77h0.75M148.28 793.83h0.75M126.85 800.21h0.75M134.1 798.7h0.75M147.31 778.88h0.75M118.54 804.61h0.75M105.82 810.39h0.75M134.42 795.05h0.75M117.04 801.52h0.75M118.8 797.06h0.75M138.23 781.98h0.75M141.81 783.13h0.75M136.38 788.68h0.75M144.63 780.56h0.75M92.81 810.44h0.75M117.51 804.8h0.75M106.03 808.55h0.75M95.45 816.14h0.75M148.39 777.08h0.75M128.88 802.91h0.75M151.43 779.18h0.75M119.9 807.66h0.75M155.68 778h0.75M129.01 791.78h0.75M139.21 785.3h0.75M127.34 797.35h0.75M133.36 792.14h0.75M144.58 795.17h0.75M100.15 812.36h0.75M116.78 812.63h0.75M105.6 805.53h0.75M109.84 806.33h0.75M105.74 815.01h0.75M94.1 818.17h0.75M126.29 797.64h0.75M117.44 803.89h0.75M118.44 797.19h0.75M101.33 819.04h0.75M137.49 785.29h0.75M159.41 784.94h0.75M115.7 803.11h0.75M136.79 788.23h0.75M139.73 787h0.75M112.45 803.07h0.75M96.93 816.82h0.75M98.34 818.82h0.75M117.49 810.61h0.75M86.5 825.83h0.75M113.6 807.91h0.75M117.44 800.34h0.75M148.13 788h0.75M112.89 803.64h0.75M119.07 795.21h0.75M96.06 811.87h0.75M122.47 796.96h0.75M125.57 799.84h0.75M130.5 790.6h0.75M89.16 818.66h0.75M144.58 769.69h0.75M141.86 787.14h0.75M99.07 809.92h0.75M84.73 827.84h0.75M84.13 829.54h0.75M161.43 784.54h0.75M100.37 809.21h0.75M101.08 808.3h0.75M127.09 795.26h0.75M113.44 803.62h0.75M148.75 784.31h0.75M134.46 797.17h0.75M137.2 784.11h0.75M112.29 808.14h0.75M116.72 800.48h0.75M142.83 786.16h0.75M95.01 816.3h0.75M94.62 820.11h0.75M154.04 782.56h0.75M87.26 817.84h0.75M105.24 808.47h0.75M122.19 796.27h0.75M113.67 809.42h0.75M135.71 784.93h0.75M111 803.29h0.75M118.71 800.15h0.75M155.31 784.9h0.75M133.29 791.92h0.75M139.31 785.01h0.75M105.26 810.08h0.75M156.75 785.67h0.75M105.74 805.81h0.75M83.94 824.66h0.75M132.64 798.57h0.75M107.91 811.14h0.75M121.66 810.04h0.75M90.41 815.84h0.75M148.72 777.02h0.75M147.49 794.4h0.75M130.89 796.32h0.75M124.86 797.89h0.75M137.68 795.07h0.75M141.68 793.32h0.75M145.35 784.8h0.75M151.38 788.16h0.75M132.39 807.82h0.75M115.32 800.43h0.75M117.1 807.8h0.75M84 823.8h0.75M150.99 780.94h0.75M126.45 785.28h0.75M133.89 793.35h0.75M113.64 809.71h0.75M121.68 800.11h0.75M127.26 796.58h0.75M133.23 797.05h0.75M97.95 808.92h0.75M139.93 789.81h0.75M100.65 811.68h0.75M155.62 772.82h0.75M89.8 815.33h0.75M135.96 788.93h0.75M138.93 796.7h0.75M151.85 786.85h0.75M126.45 805.69h0.75M112.43 809.48h0.75M119.51 804.42h0.75M103.51 812.41h0.75M136.14 805.11h0.75M95.56 814.88h0.75M132.11 799.88h0.75M145.73 785.85h0.75M123.14 799.97h0.75M147.45 775.79h0.75M148.73 775.92h0.75M139.89 782.77h0.75M128.47 791.66h0.75M148.51 783.49h0.75M108.74 802.94h0.75M155.35 786.66h0.75M123.97 803.52h0.75M96.37 815.87h0.75M102.42 817.02h0.75M143.56 781.77h0.75M153.58 782.29h0.75M118.29 805.23h0.75M142.66 788.06h0.75M86.7 820.69h0.75M84.75 819.13h0.75M122.6 806.2h0.75M97.42 810.71h0.75M153.06 776.02h0.75M100.75 804.08h0.75M118.83 805.3h0.75M141.34 786.81h0.75M130.51 803.86h0.75M157.04 786.03h0.75M119.28 795.77h0.75M154.58 780.11h0.75M130.15 787.71h0.75M100.14 818.38h0.75M110.99 797.55h0.75M125.47 802.94h0.75M148.01 777.2h0.75M92.03 817.83h0.75M129.74 802.73h0.75M112.17 811.68h0.75M110.28 803.25h0.75M159.81 777.23h0.75M106.11 809.02h0.75M145.04 779.89h0.75M107.04 814.24h0.75M128.12 794.05h0.75M124.33 800.46h0.75M142.4 779.36h0.75M136.14 795.45h0.75M115.33 802.55h0.75M134.66 787.61h0.75M112.49 792.1h0.75M117 805.84h0.75M126.75 804.28h0.75M133.62 782.23h0.75M138.72 784.07h0.75M131.94 800.05h0.75M100.71 805.95h0.75M110.79 802.02h0.75M85.83 818.93h0.75M128.76 803.7h0.75M130.83 793.68h0.75M104.55 807.91h0.75M133.11 799.26h0.75M141.03 791.61h0.75M132.39 789.57h0.75M138.64 794.86h0.75M142.12 789.53h0.75M138.55 796.68h0.75M115.08 807.11h0.75M113.8 805.65h0.75M116.12 807.93h0.75M92.06 811.69h0.75M107.55 806.88h0.75M152.73 778.38h0.75M96.83 818.73h0.75M129.49 785.77h0.75M110.43 808.69h0.75M104.56 802.64h0.75M112.99 806.15h0.75M99.84 812.97h0.75M148.77 789.8h0.75M142.98 792.16h0.75M127.32 791.87h0.75M142.11 786.17h0.75M106.05 812.15h0.75M118.15 803.4h0.75M146.79 790.41h0.75M115.43 802.73h0.75M158.32 786.61h0.75M105.89 813.54h0.75M157.88 769.41h0.75M137.39 800.87h0.75M149.94 795.71h0.75M111.42 814.19h0.75M121.6 801.33h0.75M122.52 804.26h0.75M149.12 783.93h0.75M152.93 791.21h0.75M99.44 802.87h0.75M119.32 799.36h0.75M126.14 797.6h0.75M115.84 809.68h0.75M147.41 778.09h0.75M111.38 806.13h0.75M100.83 812.51h0.75M104.82 814.09h0.75M112.79 804.47h0.75M130.28 795.56h0.75M149.65 789.62h0.75M154.11 778.98h0.75M102.7 808.49h0.75M107.3 804.12h0.75M94.09 807.61h0.75M113.13 800.98h0.75M148.05 787.26h0.75M110.13 805.02h0.75M130.52 799.24h0.75M149.96 778.24h0.75M108.95 809.9h0.75M123.35 799.5h0.75M135.02 787.82h0.75M105.64 812.79h0.75M97.38 816.21h0.75M135 794.19h0.75M134.22 789.78h0.75M86.07 825.15h0.75M147.69 771.76h0.75M148.52 791.37h0.75M128.61 784.46h0.75M106.11 809.38h0.75M111.88 801.06h0.75M153.97 787.66h0.75M114.92 810.22h0.75M145.98 789.93h0.75M140.77 791.1h0.75M158.09 772.3h0.75M154.18 777.56h0.75M135.33 796.85h0.75M122.06 796.76h0.75M133.3 790.97h0.75M109.86 802.21h0.75M113.37 816.43h0.75M146.7 781.03h0.75M155.33 773.01h0.75M157.68 787.01h0.75M120.8 800.54h0.75M109.62 801.62h0.75M129.73 798.09h0.75M95.89 816.99h0.75M138.33 790.12h0.75M140.41 794.09h0.75M128.82 793.13h0.75M122.04 804.64h0.75M147.49 790.82h0.75M95.35 816.62h0.75M117.09 800.43h0.75M134.69 796.23h0.75M134.3 790.48h0.75M92.38 817.83h0.75M104.29 807.45h0.75M131.02 799.45h0.75M101.75 811.14h0.75" stroke="#6486cc" stroke-width="0.75" fill="none" opacity="0.8"/>
<path d="M88 820.59h0.75M138.53 792.62h0.75M112.08 804.33h0.75M124.63 801.23h0.75M135.17 793.8h0.75M123.04 799.9h0.75M156.43 777.59h0.75M142.01 785.38h0.75M99.1 805.46h0.75M122.07 797.41h0.75M150.82 786.25h0.75M133.38 795.55h0.75M138.06 787.85h0.75M90.95 814.76h0.75M142.52 784.96h0.75M147.76 781.31h0.75M126.78 796.88h0.75M141.37 787.86h0.75M153.64 783.33h0.75M123.69 800.98h0.75M89.02 820.15h0.75M99.07 811.59h0.75M151.83 788.84h0.75M142.75 792.35h0.75M127.59 801.68h0.75M137.3 787.12h0.75M84.49 822.5h0.75M101.02 813.79h0.75M86.66 823.76h0.75M133.45 794.32h0.75M147.01 776.09h0.75M135.18 789.85h0.75M134.12 790.2h0.75M126.91 802.17h0.75M144.2 786.04h0.75M140.27 789.19h0.75M157.66 786.34h0.75M127.85 804.53h0.75M88.42 815.44h0.75M134.14 790.99h0.75M146.18 788.43h0.75M97.98 816.94h0.75M153.04 780.11h0.75M102.68 805.35h0.75M100.25 815.28h0.75M141.95 794.97h0.75M94.38 816.31h0.75M111.98 806.06h0.75M154.21 783.03h0.75M145.38 785.91h0.75M118.84 802.92h0.75M149.19 783.55h0.75M152.54 784.01h0.75M108.36 808.36h0.75M83.72 821.39h0.75M139.75 783.55h0.75M120.45 802.06h0.75M140.01 791.14h0.75M123.36 797.5h0.75M123.77 803h0.75M126.68 795.26h0.75M110.98 807.04h0.75M147.85 785.67h0.75M148.36 784.34h0.75M126.47 794.7h0.75M147.01 784.54h0.75M105.98 806.37h0.75M117.08 800.98h0.75M130.89 784.97h0.75M111.39 808.97h0.75M136.56 789.97h0.75M150.68 784.39h0.75M129.59 795.7h0.75M111.8 807.27h0.75M138.5 795.18h0.75M160.96 773.14h0.75M104.53 812.65h0.75M158.95 776h0.75M151.18 783.22h0.75M87.25 819.87h0.75M120.87 793.87h0.75M133.39 792.17h0.75M137.78 788.13h0.75M144.24 787.64h0.75M112.42 804.87h0.75M119.1 803.69h0.75M156.75 773.25h0.75M125.95 793.9h0.75M137.85 784.06h0.75M100.51 807.19h0.75M92.44 816.3h0.75M113.39 806.06h0.75M151.07 789.29h0.75M122.93 795.57h0.75M142.87 781.17h0.75M113.66 804.17h0.75M152.66 782.49h0.75M85.78 818.42h0.75M104.6 809.2h0.75M142.33 785.45h0.75M101.93 812.71h0.75M98.87 815.55h0.75M131.72 794.09h0.75M138.92 789.48h0.75M120.1 804.03h0.75M146.2 790.59h0.75M105.69 811.88h0.75M119.34 801.17h0.75M93.18 815.88h0.75M115.65 804.97h0.75M98.03 816.95h0.75M110.14 808.01h0.75M130.94 799.52h0.75M107.99 808h0.75M124.96 796.22h0.75M119.32 800.89h0.75M159.07 772.33h0.75M152 783.17h0.75M98.38 809.68h0.75M95.56 816.34h0.75M120.86 800.83h0.75M148.07 780.51h0.75M125.12 801.41h0.75M82.53 825.58h0.75M97.15 814.91h0.75M140.76 788.53h0.75M132.85 789.13h0.75M123.65 801.94h0.75M111.01 805.29h0.75M105.18 808.34h0.75M155.94 783.27h0.75M96.3 811.77h0.75M107.15 811.12h0.75M113.62 803.04h0.75M146.21 783.38h0.75M152.57 778.43h0.75M126.49 793.94h0.75M98.85 813.61h0.75M144.44 784.03h0.75M108.92 812.82h0.75M145.59 780.87h0.75M139.74 792.55h0.75M145.18 782.05h0.75M138.36 781.67h0.75M139.7 789.81h0.75M119.21 805.13h0.75M148.28 787.21h0.75M96.75 813.37h0.75M121.65 800.31h0.75M140.66 787.63h0.75M136.09 796.28h0.75M124.99 795.03h0.75M87.84 814.88h0.75M107.04 806.36h0.75M135.84 794.82h0.75M127.62 794.12h0.75M116.52 803.29h0.75M140.32 790.02h0.75M130.67 800.7h0.75M91.83 824.75h0.75M143.45 781.75h0.75M132.94 787.19h0.75M100.81 815.59h0.75M137.57 786.41h0.75M148.91 791.11h0.75M127.75 796.34h0.75M118.93 801.44h0.75M100.04 811.34h0.75M139.55 799.49h0.75M98.4 812.66h0.75M142.87 789.16h0.75M153.24 777.8h0.75M84.62 827.39h0.75M101.69 812.63h0.75M110.1 801.15h0.75M127.71 799.73h0.75M125.04 791.73h0.75M120.57 795.67h0.75M133.96 798.59h0.75M97.69 811.74h0.75M120.68 795.22h0.75M142.76 788.88h0.75M111.74 804.14h0.75M126.02 797.5h0.75M158.94 779.88h0.75M145.86 790.19h0.75M123.41 798.27h0.75M97.48 812.78h0.75M121.96 798.42h0.75M119.09 801.79h0.75M141.47 786.25h0.75M93.85 816.07h0.75M119.78 798.33h0.75M153.11 775.16h0.75M131.22 790.01h0.75M157.39 779.46h0.75M107.98 807.68h0.75M122.99 799.05h0.75M138.01 788.93h0.75M143.66 785.68h0.75M106.69 804.9h0.75M126.02 802.32h0.75M146.22 787.9h0.75M105.92 808.4h0.75M149.77 777.61h0.75M139.89 783.3h0.75M143.55 790.24h0.75M154.54 779.95h0.75M115.1 801.76h0.75M139.07 785.1h0.75M119.37 794.51h0.75M103.12 814.2h0.75M123.98 798.85h0.75M127.09 801.99h0.75M151.88 781.07h0.75M96.99 816.49h0.75M120.65 805.1h0.75M115.33 804.39h0.75M103.16 809.46h0.75M119.42 802.22h0.75M111.7 804.24h0.75M126.12 793.95h0.75M147.01 792.61h0.75M141.23 793.19h0.75M95.95 813.5h0.75M154.79 782.55h0.75M113.98 799.25h0.75M114.89 798.93h0.75M90.55 818.7h0.75M136.86 785.51h0.75M114.74 807.34h0.75M105.48 810.31h0.75M133.28 794.72h0.75M148.32 776.5h0.75M133.03 785.31h0.75M136.83 795.21h0.75M137.96 785.94h0.75M105.61 808.72h0.75M103.38 807.01h0.75M120.87 797.83h0.75M154.58 779.69h0.75M124.05 798.75h0.75M105.26 810.12h0.75M131.65 794.63h0.75M138.13 793.99h0.75M157.88 775.91h0.75M115.93 806.44h0.75M103.98 810.32h0.75M112.28 811.22h0.75M125.37 789.06h0.75M103.68 805.61h0.75M100.84 809.83h0.75M97.65 809.57h0.75M111.49 806.09h0.75M101.3 816.34h0.75M127.77 797.81h0.75M137.1 791.32h0.75M125.04 798.59h0.75M103.76 809.11h0.75M118.54 800.67h0.75M122.62 799.41h0.75M137.28 794.21h0.75M110.09 805.1h0.75M153.73 776.16h0.75M147.79 784.58h0.75M121.91 796.17h0.75M140.81 789.16h0.75M128.04 790.39h0.75M128.35 796.8h0.75M146.37 784.5h0.75M116.24 809.11h0.75M142.64 788.15h0.75M114.2 806.19h0.75M138.46 792.74h0.75M135.94 788.98h0.75M99.66 817.56h0.75M111.08 807.07h0.75M133.22 792.6h0.75M118.27 805.86h0.75M145.04 786.47h0.75M103.12 813.48h0.75M116.49 805.81h0.75M115.78 803.99h0.75M121.84 803.29h0.75M137.58 790.37h0.75M126.5 801.93h0.75M146.89 778.19h0.75M98.98 811.09h0.75M127.36 799.85h0.75M108.82 804.49h0.75M140.51 787.25h0.75M117.1 801.46h0.75M114.1 807.97h0.75M110.7 805.94h0.75M159.55 779.2h0.75M122.96 803.01h0.75M89.89 818.34h0.75M116.98 801.9h0.75M157.81 779.14h0.75M131.35 791.41h0.75M159.09 779.33h0.75M101.93 813.72h0.75M143.21 783.63h0.75M134.72 793.14h0.75M86.93 823.21h0.75M135.66 792.78h0.75M88.53 816.04h0.75M128.02 798.49h0.75M130.91 797.76h0.75M128.16 790.13h0.75M104.36 807.59h0.75M86.65 820.42h0.75M132.07 788.34h0.75M144.61 785.04h0.75M136.27 791.5h0.75M144.28 780.91h0.75M159.46 785.97h0.75M118.7 794.42h0.75M143.67 789.12h0.75M158.21 777.53h0.75M148.73 792.5h0.75M148.45 785.81h0.75M95.75 817.54h0.75M126.49 800.5h0.75M150 775.35h0.75M86.32 818.4h0.75M113.97 806.63h0.75M101.39 810.5h0.75M127.17 796.53h0.75M96.73 809.93h0.75M133.58 787.34h0.75M116.6 799.38h0.75M109.13 808.23h0.75M124.31 799.65h0.75M148.9 783.89h0.75M137.39 798.73h0.75M145.44 787.88h0.75M158.25 783h0.75M98.96 813.36h0.75M145.46 785.73h0.75M144.21 784.68h0.75M118.88 800.66h0.75M104.32 810.12h0.75M85.77 821.06h0.75M123.16 793.51h0.75M105.09 818.84h0.75M146.85 778.5h0.75M157.39 771.7h0.75M148.8 789.9h0.75M149.83 787.24h0.75M101.83 810.71h0.75M94.24 815.99h0.75M122.11 797.07h0.75M160.47 772.97h0.75M112.16 806.98h0.75M107.15 812.94h0.75M134.22 790.73h0.75M120.27 794.94h0.75M127.28 793.85h0.75M152.57 778.72h0.75M95.77 816.29h0.75M101.41 809.01h0.75M99.84 809.04h0.75M113.29 808.43h0.75M123.86 796.86h0.75M128.64 795.41h0.75M89.1 820.4h0.75M156.76 777.72h0.75M121.87 803.46h0.75M124.48 799.32h0.75M104.78 808.31h0.75M91.67 820.45h0.75M157.69 780.59h0.75M123.58 808.32h0.75M101.91 810.98h0.75M129.31 794.36h0.75M142.17 785.02h0.75M96.07 815.61h0.75M109.57 810.94h0.75M102.88 809.54h0.75" stroke="#5f9da6" stroke-width="0.75" fill="none" opacity="0.85"/>
<path d="M131.62 795.52h0.75M127.75 795.83h0.75M133.58 795.06h0.75M117.12 804.03h0.75M133.48 791.18h0.75M123.97 796.11h0.75M125.08 799.2h0.75M120.07 800.57h0.75M152.75 783.4h0.75M94.55 815.46h0.75M113.45 803.03h0.75M103.12 812.27h0.75M153.64 780.59h0.75M111.43 800.13h0.75M124.36 798.92h0.75M123.33 799.03h0.75M128.8 797.87h0.75M133.28 793.57h0.75M137.68 790.52h0.75M107.36 807.65h0.75M115.41 802.39h0.75M110.43 805.18h0.75M118.79 802.41h0.75M107.91 806.97h0.75M121.1 801.61h0.75M87.08 819.28h0.75M148.68 777.99h0.75M123.35 801.53h0.75M126.9 797.77h0.75M149.81 784.46h0.75M105.63 807.64h0.75M110.82 809.18h0.75M149.83 785.43h0.75M104.78 811.79h0.75M126.78 799.28h0.75M158.48 775.94h0.75M92.91 819.16h0.75M146.01 786.72h0.75M111.75 808.03h0.75M159.05 776.48h0.75M158.02 776.45h0.75M97.78 813.33h0.75M92.74 817.49h0.75M119.65 803.88h0.75M89.6 820.74h0.75M153.02 780.6h0.75M109 805.74h0.75M131.05 795.78h0.75M113.38 804.3h0.75M126.65 796.29h0.75M136.26 790.51h0.75M82.07 824.29h0.75M106.93 806h0.75M156.81 780h0.75M134.63 793.41h0.75M152.25 783.27h0.75M126.6 795.25h0.75M110.56 809.88h0.75M140.92 792.95h0.75M122.4 798.29h0.75M132.65 794.9h0.75M88.42 821.11h0.75M91.59 816.01h0.75M135.21 788.43h0.75M115.19 805.35h0.75M112.92 800.4h0.75M137.95 792.77h0.75M122.01 799.73h0.75M120.32 804.3h0.75M118.66 802.43h0.75M146.65 783.6h0.75M139.5 791.07h0.75M126.44 797.56h0.75M152.09 786.63h0.75M134.8 793.66h0.75M87.52 821.33h0.75M152.66 780.73h0.75M103.97 812.89h0.75M93.89 816.61h0.75M109.61 803.37h0.75M128.25 796.05h0.75M119.14 798.11h0.75M84.74 821.27h0.75M107.3 807.94h0.75M141.6 790.49h0.75M148.65 786.55h0.75M152.83 782.93h0.75M153.94 780.64h0.75M133.39 793.37h0.75M121.79 800.42h0.75M142.72 787.58h0.75M116.97 806.53h0.75M106.27 807.93h0.75M87.32 819.7h0.75M98.64 816.4h0.75M109.02 806.3h0.75M112.56 804.37h0.75M114.02 804.83h0.75M141.41 793.63h0.75M81.48 823.96h0.75M117.25 804.65h0.75M129.7 795.9h0.75M148.88 784.08h0.75M155.84 781.11h0.75M113.65 807.1h0.75M101.96 807.79h0.75M126.13 797.05h0.75M135.62 792.15h0.75M155.08 776.56h0.75M135.31 793.1h0.75M95.25 815.01h0.75M138.34 787.71h0.75M100.1 813.87h0.75M127.54 796.71h0.75M103.08 810.88h0.75M89.38 818.27h0.75M155.96 782.84h0.75M151.85 779.51h0.75M109.99 807.06h0.75M103.61 812.55h0.75M154.25 782.86h0.75M95.15 815.33h0.75M149.69 783.87h0.75M96.04 816.53h0.75M159.19 770.33h0.75M132.17 795.85h0.75M93.08 816.26h0.75M111.3 805.74h0.75M126.39 793.39h0.75M94.59 815.76h0.75M137.79 791.67h0.75M145.36 787.49h0.75M121.34 798.01h0.75M145.91 789.84h0.75M140.19 788.93h0.75M154.36 779.93h0.75M102.99 814.62h0.75M105.63 808.3h0.75M126.41 794.52h0.75M86.94 822.55h0.75M128.38 792.72h0.75M133.84 794.75h0.75M132.21 795.51h0.75M146.2 781.34h0.75M111.69 807.5h0.75M95.46 815.68h0.75M113.78 803.26h0.75M120.93 800.81h0.75M138.41 790.04h0.75M112.62 804.69h0.75M135.15 789.3h0.75M129.03 797.71h0.75M115.57 804.71h0.75M143.65 788.37h0.75M155.17 779.36h0.75M106.96 808.82h0.75M94.1 813.54h0.75M100.91 811.52h0.75M114.94 801.58h0.75M109.67 809.11h0.75M132.23 792.05h0.75M142.37 791.02h0.75M142.36 791.12h0.75M91.92 818.2h0.75M146.33 787.14h0.75M111.7 806.19h0.75M115.92 802.65h0.75M155.67 778.31h0.75M119.95 800.63h0.75M85.47 821.79h0.75M116.05 804.93h0.75M149.07 783.52h0.75M149.62 785.91h0.75M123.75 796.07h0.75M142.23 789.94h0.75M121.55 795.49h0.75M132.53 791.5h0.75M121.46 799.86h0.75M100.56 811.34h0.75M113.78 802.97h0.75M108.13 810.82h0.75M151.65 778.19h0.75M159.74 778.18h0.75M146.11 787.39h0.75M134.89 793.65h0.75M113.82 805.19h0.75M147.99 784.09h0.75M129.81 793.73h0.75M128.58 793.94h0.75M101.51 813.54h0.75M153.34 782.82h0.75M107.5 804.91h0.75M106.17 808.57h0.75M157.1 777.22h0.75M149.94 783.97h0.75M125.08 797.88h0.75M111.51 804.95h0.75M92.12 816.22h0.75M145.44 786.4h0.75M150 783.63h0.75M125.83 796.81h0.75M116.58 806.57h0.75M115.73 803.4h0.75M136.2 792.76h0.75M140.62 789.03h0.75M89.76 819.42h0.75M95.79 815.86h0.75M141.84 789.59h0.75M127.82 798.05h0.75M124.27 800.55h0.75M157.73 780.03h0.75M152.63 783.75h0.75M143.42 788.32h0.75M121.45 799.91h0.75M126.51 800.62h0.75M136.31 789.02h0.75M135.49 789.6h0.75M96.34 814.92h0.75M128.06 799.59h0.75M95 815.28h0.75M97.25 817.24h0.75M130.07 797.18h0.75M108.65 810.05h0.75M148.09 781.76h0.75M117.87 801.2h0.75M129.42 795.16h0.75M138.02 786.71h0.75M107.66 809.42h0.75M141.43 791.82h0.75M137.31 787.38h0.75M108.02 808.01h0.75M109.22 804.91h0.75M122.06 801.15h0.75M144.46 788.39h0.75M115.95 802.16h0.75M149.59 780.85h0.75M110.59 808.48h0.75M147.23 782.48h0.75M93.23 816.06h0.75M120.77 801.94h0.75M126.67 795.62h0.75M104.71 810.05h0.75M101.63 812.58h0.75M136.27 789.6h0.75M148.13 786.35h0.75M103.43 811.51h0.75M124.11 799.13h0.75M150.37 785.58h0.75M112.66 804.7h0.75M119.65 801.69h0.75M106.88 810.62h0.75M111.33 806.46h0.75M138.89 787.87h0.75M144.42 783.68h0.75M104.73 809.45h0.75M143.27 788h0.75M107.72 806.87h0.75M160.03 771.92h0.75M127.88 796.39h0.75M135.64 793.4h0.75M95.56 812.7h0.75M124.52 795.68h0.75M118.4 802.11h0.75M85.22 821.37h0.75M94.17 816.85h0.75M147.07 787.62h0.75M154.61 776.56h0.75M142.54 784.5h0.75M91.44 816.86h0.75M83.97 821.28h0.75M117 802.12h0.75M147.63 782.71h0.75M100.23 815.18h0.75M111.67 804.96h0.75M118.2 801.03h0.75M138.98 787.54h0.75M105.77 805.23h0.75M136.6 792.24h0.75M117.26 802.97h0.75M132.2 795.2h0.75" stroke="#8fbd60" stroke-width="0.75" fill="none" opacity="0.9"/>
<path d="M124.21 799.22h0.7M134.05 795.79h0.7M95.54 816.65h0.7M119.92 799.69h0.7M110.49 807.14h0.7M104.71 810.62h0.7M97.93 815.11h0.7M110.06 806.06h0.7M123.18 797.43h0.7M146.7 787.17h0.7M115.58 803.01h0.7M96.85 813.66h0.7M152.64 781.77h0.7M131.08 795.68h0.7M144.88 785.31h0.7M147.15 783.07h0.7M102.43 811.79h0.7M102.15 813.46h0.7M139.96 787.14h0.7M137.31 788.99h0.7M115.82 804.37h0.7M103.73 813h0.7M145.62 785.55h0.7M133.23 794.72h0.7M136.92 790.56h0.7M123.8 798.56h0.7M116.87 803.57h0.7M143.59 787.58h0.7M143.61 786.67h0.7M109.85 806.91h0.7M144 790.03h0.7M93.71 815.72h0.7M136.68 788.97h0.7M82.63 824.05h0.7M98.24 812.94h0.7M136.31 790.41h0.7M131.24 793.79h0.7M137.46 788.78h0.7M157.44 780.74h0.7M155.88 780.12h0.7" stroke="#c6d35a" stroke-width="0.7" fill="none" opacity="1"/>
</g>
<polyline points="62.8,831.5 94.6,793.2 147.1,770.2 163,770.2" fill="none" stroke="#222" stroke-width="1.1"/>
<polyline points="163,776.7 147.1,794.3 82.6,827.8 62.8,831.5" fill="none" stroke="#222" stroke-width="1.1"/>
<rect x="103.5" y="798.2" width="24" height="4.8" fill="#fff" opacity="0.45"/>
<text x="115.4" y="802.2" font-size="5.1" text-anchor="middle" font-weight="bold" fill="#111" >Single Cells</text>
<rect x="190.2" y="731.5" width="109" height="111.3" fill="#fff" stroke="#3a3a3a" stroke-width="1.1"/>
<line x1="186.8" y1="736.5" x2="190.2" y2="736.5" stroke="#3a3a3a" stroke-width="0.8" />
<text x="185.2" y="738.2" font-size="4.8" text-anchor="end" font-weight="bold" fill="#222" >1.0M</text>
<line x1="186.8" y1="757.7" x2="190.2" y2="757.7" stroke="#3a3a3a" stroke-width="0.8" />
<text x="185.2" y="759.4" font-size="4.8" text-anchor="end" font-weight="bold" fill="#222" >800K</text>
<line x1="186.8" y1="779.2" x2="190.2" y2="779.2" stroke="#3a3a3a" stroke-width="0.8" />
<text x="185.2" y="780.9" font-size="4.8" text-anchor="end" font-weight="bold" fill="#222" >600K</text>
<line x1="186.8" y1="800.4" x2="190.2" y2="800.4" stroke="#3a3a3a" stroke-width="0.8" />
<text x="185.2" y="802.1" font-size="4.8" text-anchor="end" font-weight="bold" fill="#222" >400K</text>
<line x1="186.8" y1="821.9" x2="190.2" y2="821.9" stroke="#3a3a3a" stroke-width="0.8" />
<text x="185.2" y="823.6" font-size="4.8" text-anchor="end" font-weight="bold" fill="#222" >200K</text>
<line x1="186.8" y1="841.6" x2="190.2" y2="841.6" stroke="#3a3a3a" stroke-width="0.8" />
<text x="185.2" y="843.3" font-size="4.8" text-anchor="end" font-weight="bold" fill="#222" >0</text>
<line x1="188.6" y1="732.26" x2="190.2" y2="732.26" stroke="#3a3a3a" stroke-width="0.5" />
<line x1="188.6" y1="736.5" x2="190.2" y2="736.5" stroke="#3a3a3a" stroke-width="0.5" />
<line x1="188.6" y1="740.74" x2="190.2" y2="740.74" stroke="#3a3a3a" stroke-width="0.5" />
<line x1="188.6" y1="744.98" x2="190.2" y2="744.98" stroke="#3a3a3a" stroke-width="0.5" />
<line x1="188.6" y1="749.22" x2="190.2" y2="749.22" stroke="#3a3a3a" stroke-width="0.5" />
<line x1="188.6" y1="753.46" x2="190.2" y2="753.46" stroke="#3a3a3a" stroke-width="0.5" />
<line x1="188.6" y1="757.7" x2="190.2" y2="757.7" stroke="#3a3a3a" stroke-width="0.5" />
<line x1="188.6" y1="761.94" x2="190.2" y2="761.94" stroke="#3a3a3a" stroke-width="0.5" />
<line x1="188.6" y1="766.18" x2="190.2" y2="766.18" stroke="#3a3a3a" stroke-width="0.5" />
<line x1="188.6" y1="770.42" x2="190.2" y2="770.42" stroke="#3a3a3a" stroke-width="0.5" />
<line x1="188.6" y1="774.66" x2="190.2" y2="774.66" stroke="#3a3a3a" stroke-width="0.5" />
<line x1="188.6" y1="778.9" x2="190.2" y2="778.9" stroke="#3a3a3a" stroke-width="0.5" />
<line x1="188.6" y1="783.14" x2="190.2" y2="783.14" stroke="#3a3a3a" stroke-width="0.5" />
<line x1="188.6" y1="787.38" x2="190.2" y2="787.38" stroke="#3a3a3a" stroke-width="0.5" />
<line x1="188.6" y1="791.62" x2="190.2" y2="791.62" stroke="#3a3a3a" stroke-width="0.5" />
<line x1="188.6" y1="795.86" x2="190.2" y2="795.86" stroke="#3a3a3a" stroke-width="0.5" />
<line x1="188.6" y1="800.1" x2="190.2" y2="800.1" stroke="#3a3a3a" stroke-width="0.5" />
<line x1="188.6" y1="804.34" x2="190.2" y2="804.34" stroke="#3a3a3a" stroke-width="0.5" />
<line x1="188.6" y1="808.58" x2="190.2" y2="808.58" stroke="#3a3a3a" stroke-width="0.5" />
<line x1="188.6" y1="812.82" x2="190.2" y2="812.82" stroke="#3a3a3a" stroke-width="0.5" />
<line x1="188.6" y1="817.06" x2="190.2" y2="817.06" stroke="#3a3a3a" stroke-width="0.5" />
<line x1="188.6" y1="821.3" x2="190.2" y2="821.3" stroke="#3a3a3a" stroke-width="0.5" />
<line x1="188.6" y1="825.54" x2="190.2" y2="825.54" stroke="#3a3a3a" stroke-width="0.5" />
<line x1="188.6" y1="829.78" x2="190.2" y2="829.78" stroke="#3a3a3a" stroke-width="0.5" />
<line x1="188.6" y1="834.02" x2="190.2" y2="834.02" stroke="#3a3a3a" stroke-width="0.5" />
<line x1="188.6" y1="838.26" x2="190.2" y2="838.26" stroke="#3a3a3a" stroke-width="0.5" />
<clipPath id="c2"><rect x="190.7" y="732" width="108.1" height="110.3"/></clipPath>
<g clip-path="url(#c2)">
<path d="M233 788.09h0.75M227.68 793.31h0.75M230.52 810.22h0.75M221.05 813.78h0.75M240.5 784.84h0.75M228.27 823.03h0.75M217.51 798.64h0.75M228.86 822h0.75M231.85 802.32h0.75M228.81 811.47h0.75M234.34 791.07h0.75M238.14 792.03h0.75M246.75 796.98h0.75M229.45 798.42h0.75M221.55 790.26h0.75M240.28 813.95h0.75M224.76 818.41h0.75M241.62 785.72h0.75M221.12 805.65h0.75M238.48 800.61h0.75M226.46 787.64h0.75M222.6 789.64h0.75M233.89 804.93h0.75M226.06 792.63h0.75M234.55 796.37h0.75M225.98 800.27h0.75M232.45 809.52h0.75M224.96 814.99h0.75M241.62 804.54h0.75M234.17 797.89h0.75M230.99 815.22h0.75M224.92 807.83h0.75M238.4 806.96h0.75M235.88 773.01h0.75M236.2 771.2h0.75M230.28 773.93h0.75M241.14 791.4h0.75M226.9 777.18h0.75M228.05 786.07h0.75M234.06 791.29h0.75M240.51 804.34h0.75M217.12 788.95h0.75M232.9 795.01h0.75M236.97 771.92h0.75M246.09 788.6h0.75M223.83 774.21h0.75M233.43 808.89h0.75M219.83 804.5h0.75M227.55 812.77h0.75M223.09 790.45h0.75M239.15 780.01h0.75M228.76 820.91h0.75M234.66 786.84h0.75M236.26 800.45h0.75M236.58 788.35h0.75M239.03 767.54h0.75M226.78 802.97h0.75M232.03 796.85h0.75M243.33 785.11h0.75M226.34 798.26h0.75M241.55 812.84h0.75M237.91 801.06h0.75M222.9 805.71h0.75M244.79 817.1h0.75M238.6 782.82h0.75M227.44 797.21h0.75M227.6 800.01h0.75M231.58 802.71h0.75M228.18 812.75h0.75M235.97 802.56h0.75M239.88 787.7h0.75M228.61 792.74h0.75M228 812.09h0.75M232.23 786.76h0.75M237.94 787.47h0.75M241.59 798.17h0.75M244.77 797.11h0.75M223.58 775.89h0.75M243.34 818.61h0.75M221.2 816.43h0.75M239.12 799.88h0.75M242.22 813.16h0.75M218.78 804.32h0.75M224.77 805.17h0.75M222.89 820.18h0.75M243.06 803.62h0.75M221.63 781.07h0.75M238.39 802.02h0.75M229.47 781.12h0.75M238.71 797.29h0.75M223.16 812.79h0.75M225.41 774.59h0.75M221.18 804.83h0.75M223.38 816.74h0.75M234.29 788.67h0.75M233.06 797.14h0.75M227.32 795.98h0.75M239.55 793.89h0.75M236.54 772.83h0.75M234.43 825.28h0.75M242.09 787.14h0.75M228.32 803.26h0.75M236.95 821.89h0.75M239.08 771.97h0.75M241.31 810.59h0.75M232.79 814.63h0.75M242.07 781.61h0.75M225.31 809.84h0.75M224.41 774.83h0.75M237.11 790.4h0.75M233.42 797.67h0.75M235.43 793.75h0.75M231.68 811.73h0.75M245.5 781.7h0.75M241.46 777.48h0.75M246.42 792.87h0.75M219.52 793.17h0.75M224.61 799.02h0.75M242.16 813.67h0.75M229.82 817.34h0.75M237.34 792.51h0.75M239.99 800.74h0.75M227.12 802.61h0.75M222.4 812.13h0.75M236.42 812.91h0.75M244.58 802.79h0.75M227.72 820.34h0.75M218.27 797.78h0.75M228.7 775.04h0.75M238.33 775.34h0.75M228.86 801.99h0.75M224.1 784.72h0.75M225.71 804.9h0.75M227.07 796.07h0.75M227.42 770.35h0.75M243.71 789.84h0.75M235.53 814h0.75M237.26 796.76h0.75M234.75 800.01h0.75M238.85 817.21h0.75M221.49 783.69h0.75M235.46 771.32h0.75M231.12 778.69h0.75M222.78 796.4h0.75M222.5 807.94h0.75M238.58 811.44h0.75M229.82 804.87h0.75M237.19 810.41h0.75M227.57 777.13h0.75M246.44 799.38h0.75M219.34 803.56h0.75M223.11 791.8h0.75M234.82 784.71h0.75M239.07 792.4h0.75M228.72 776.66h0.75M240.53 807.36h0.75M229.93 802.37h0.75M224.47 776.8h0.75M227.48 787.6h0.75M225.89 807.9h0.75M228.66 796.78h0.75M219.99 806.29h0.75M225.03 773.31h0.75M231.07 807.26h0.75M236.92 797.02h0.75M222.86 803.84h0.75M228.37 773.95h0.75M243.64 802.55h0.75M241.05 793.03h0.75M225.03 775.93h0.75M243.37 794.68h0.75M236.46 803.63h0.75M246.13 791.27h0.75M238.34 805.01h0.75M233.94 807.55h0.75M230.95 811.16h0.75M222.88 792.04h0.75M217.36 793.42h0.75M223.69 804.53h0.75M243.17 802.91h0.75M231.82 800.54h0.75M225.15 808.72h0.75M234.17 799.47h0.75M232.46 810.89h0.75M228.78 767.48h0.75M225.14 780.42h0.75M229.09 792.64h0.75M236.42 797.15h0.75M229.72 814.9h0.75M241.71 797.63h0.75M242.74 793.38h0.75M232.91 793.19h0.75M234.4 806.76h0.75M223.4 812.04h0.75M228.54 794.64h0.75M237.26 821.28h0.75M232.26 780.68h0.75M231.07 782.78h0.75M236.53 819.61h0.75M232.83 794.2h0.75M232.32 786.6h0.75M225.54 810.56h0.75M237.45 798.33h0.75M219.13 797.89h0.75M234 780.6h0.75M233.99 780.86h0.75M240.5 790.42h0.75M225.53 790.9h0.75M227.68 799.81h0.75M230.3 810.54h0.75M223.45 791.09h0.75M230.54 817.63h0.75M240.3 791.34h0.75M236.84 789.04h0.75M230.91 799.76h0.75M223.41 803.94h0.75M242.85 775.83h0.75M227.16 797.58h0.75M235.9 792.99h0.75M220.22 785.31h0.75M228.31 778.5h0.75M237.91 813.73h0.75M238.32 798.65h0.75M231.07 798.41h0.75M228.5 783.6h0.75M230.32 772.06h0.75M236.21 789.28h0.75M241.51 808.96h0.75M243.08 787.73h0.75M244.85 782.41h0.75M215.65 779.33h0.75M233.41 806.03h0.75M233.91 810.96h0.75M241.65 796.66h0.75M232.84 817.86h0.75M229.86 822.57h0.75M237.26 789.95h0.75M223.84 794.2h0.75M220.7 820.88h0.75M234.82 780.73h0.75M219.94 788.96h0.75M229.16 794.62h0.75M224.38 815.58h0.75M230.98 803.1h0.75M217.51 794.31h0.75M227.67 806.43h0.75M249.27 782.73h0.75M242.57 789.8h0.75M233.31 788.04h0.75M214.93 792.92h0.75M241.1 776.62h0.75M224.54 813.69h0.75M235.36 783.42h0.75M232.73 809.8h0.75M240.19 779h0.75M244.15 817.68h0.75M226.73 793.6h0.75M243.47 798.78h0.75M236.3 786.27h0.75M231.81 774.12h0.75M235.02 779.13h0.75M223.77 790.92h0.75M218.36 791.26h0.75M225.53 798.42h0.75M225.73 806.88h0.75M227.39 812.83h0.75M225.31 802.07h0.75M227.08 784.26h0.75M224.59 787.07h0.75M231.35 820.93h0.75M226.06 788.89h0.75M225.34 776.05h0.75M238.53 806.27h0.75M239.41 794.36h0.75M230.97 792.2h0.75M234.63 790.79h0.75M228.29 789.12h0.75M226.09 785.79h0.75M240 815.39h0.75M227.65 808.5h0.75M234.99 777.15h0.75M224.85 785.21h0.75M219.2 777.45h0.75M221.15 785.19h0.75M225.57 797.7h0.75M228.35 793.58h0.75M246.81 796.28h0.75M224.82 796.84h0.75M242.8 794.44h0.75M239.85 812.51h0.75M244.1 810.23h0.75M231.99 814.86h0.75M234.92 804.02h0.75M219.41 801.86h0.75M236.77 783.3h0.75M226.82 810.28h0.75M234.67 798.88h0.75M219.13 795.17h0.75M227.32 774.92h0.75M237.8 780.69h0.75M243.7 807.74h0.75M229.34 813.62h0.75M242.1 793.71h0.75M232.78 816.52h0.75M240.02 808.92h0.75M237.03 784.44h0.75M226.31 810.08h0.75M231.25 806.47h0.75M230.58 789.65h0.75M224.39 798.03h0.75M227.03 802.35h0.75M241.71 815.66h0.75M236.52 815.64h0.75M218.75 801.08h0.75M234.83 810.62h0.75M232.49 798.68h0.75M226.92 791.02h0.75M220.91 790.46h0.75M237.96 801.72h0.75M218.14 808.27h0.75M230.12 795.02h0.75M227.61 795.1h0.75M245.04 790.42h0.75M229.52 812.17h0.75M224.34 793.07h0.75M233.89 823.84h0.75M234.96 826.91h0.75M221.21 812.39h0.75M230.29 780.74h0.75M219.2 812.71h0.75M232.87 795.81h0.75M230.6 804.5h0.75M231.73 815.95h0.75M226.25 776.66h0.75M241.4 797.82h0.75M219.21 780.11h0.75M240.46 771.71h0.75M230.03 789.88h0.75M223.65 789.72h0.75M238.05 796.08h0.75M222.04 798.67h0.75M236.04 796.3h0.75M224.69 813.2h0.75M223.29 792.06h0.75M221.87 783.89h0.75M241.15 799.6h0.75M236.43 813.87h0.75M217.04 789.69h0.75M227.74 801.93h0.75M230.95 777.06h0.75M232.99 803.47h0.75M233.64 780.98h0.75M241.34 787.9h0.75M244.14 786.94h0.75M239.01 806.46h0.75M230.78 791.88h0.75M228.05 815.61h0.75M236.58 804.73h0.75M239.7 793.77h0.75M232.27 812.11h0.75M228.28 782.24h0.75M237.84 820.4h0.75M238.67 804.94h0.75M234.42 811.49h0.75M224.9 794.38h0.75M242.39 811.22h0.75M233.95 814.38h0.75M228.67 795.51h0.75M220.77 793.66h0.75M218.76 794.02h0.75M241.76 794.39h0.75M226.6 814.7h0.75M234.89 818.79h0.75M224.37 797.96h0.75M236.23 811.67h0.75M238.71 786.85h0.75M230.55 782.78h0.75M237.41 809.27h0.75M226.87 801.91h0.75M243.82 799.72h0.75M230.22 815.24h0.75M231.58 798.77h0.75M238.69 811.23h0.75M228.38 779.13h0.75M221.33 793h0.75M226.7 798.72h0.75M228.5 810.59h0.75M240.53 814.05h0.75M234.99 779.27h0.75M240.06 792.13h0.75M221.75 783.58h0.75M238.79 790.17h0.75M224.05 793.35h0.75M234.66 802.58h0.75M232.98 782.67h0.75M230.62 795.51h0.75M227.01 784.23h0.75M227.66 805.88h0.75M230.63 790.12h0.75M237.32 818.39h0.75M228.85 799.26h0.75M225.63 802.14h0.75M232.38 798.06h0.75M231.11 766.79h0.75M224.28 800.38h0.75M224.49 791.76h0.75M237.72 774.83h0.75M240.64 802.03h0.75M236.33 823.99h0.75M228.11 782.14h0.75M233.43 799.44h0.75M227.68 798.45h0.75M243.38 796.76h0.75M236.83 778.94h0.75M221.56 788.8h0.75M224.18 792.6h0.75M240.59 795.44h0.75M237.92 795.88h0.75M233.77 819.52h0.75M240.99 788.32h0.75M233.53 794.78h0.75M238.77 801.1h0.75M242.22 801.08h0.75M242.24 812.55h0.75M220.45 806.36h0.75M241.33 803.91h0.75M227.53 809.53h0.75M233.91 817.81h0.75M230.09 782.29h0.75M228.17 789.13h0.75M239.59 815.61h0.75M237.88 780.49h0.75M228.71 809.63h0.75M232.45 819.31h0.75M234.8 806.5h0.75M232.66 802.34h0.75M224.51 811.21h0.75M238.27 812.47h0.75M241.09 794.8h0.75M230.01 808.89h0.75M225.78 800.94h0.75M219.44 814.17h0.75M235.88 806.23h0.75M238.5 786.23h0.75M244.08 807.06h0.75M232.95 773.17h0.75M224.76 794.13h0.75M228.73 824.35h0.75M235.65 788.32h0.75M225.18 808.41h0.75M248.43 785.98h0.75M234.15 778.61h0.75M240.32 786.38h0.75M239.69 814.96h0.75M236.94 795.83h0.75M238.31 815.47h0.75M242.57 804.95h0.75M230.22 786.46h0.75M238.44 807.77h0.75M234.65 824.16h0.75M222.9 823.23h0.75M222.79 783.02h0.75M219.56 788.23h0.75M237.08 787.72h0.75M242.5 790.7h0.75M236.52 790.27h0.75M229.92 806.21h0.75M232.96 787.95h0.75M224.81 801.13h0.75M225.5 829.92h0.75M239.27 801.75h0.75M229.47 818.28h0.75M218.17 786.89h0.75M227.9 781.69h0.75M237.36 789.02h0.75M231.51 774.2h0.75M236.87 820.82h0.75M236.78 773.45h0.75M238.88 794.2h0.75M227.78 790.26h0.75M239.45 800.35h0.75M224.4 778.04h0.75M231.75 817.76h0.75M225.73 805.53h0.75M225.33 775.36h0.75M236.87 798.01h0.75M235.9 778.77h0.75M220.74 800.86h0.75M230.51 802.13h0.75M241.39 812.67h0.75M236.51 799.22h0.75M225.94 790.6h0.75M236.45 813.61h0.75M242.06 797.46h0.75M228.71 782.52h0.75M233.68 787.94h0.75M235.12 812.12h0.75M224.61 824.21h0.75M231.39 784.4h0.75M227.72 817.92h0.75M229.22 791.39h0.75M239.72 822.09h0.75M226.71 804.74h0.75M243.98 795.81h0.75M232.23 791.08h0.75M226.66 773.33h0.75M238.42 788.54h0.75M226.59 820.9h0.75M220.95 777.84h0.75M223.51 801.43h0.75M242.71 781.17h0.75M228.01 785.76h0.75M239.25 820.72h0.75M231.65 789.44h0.75M240.39 812.33h0.75M244.05 800.87h0.75M240.97 806.09h0.75M228.49 800.65h0.75M225.18 813.54h0.75M225.99 783.4h0.75M216.24 809.24h0.75M236.15 792.65h0.75M244.62 795.05h0.75M242.09 780.87h0.75M243.96 787.44h0.75M240.06 804.04h0.75M241.08 815.03h0.75M229.94 783.75h0.75M217.01 796.19h0.75M227.26 803.44h0.75M218.65 796.32h0.75M234.2 810.06h0.75M227.56 788.22h0.75M233.67 793.07h0.75M227.07 797.62h0.75M221.05 769.92h0.75M224.55 796.21h0.75M224.43 785.66h0.75M224.29 792.3h0.75M235.21 790.95h0.75M228.45 792.59h0.75M230.55 785.9h0.75M245.2 799.7h0.75M245.36 798.87h0.75M229.51 775.96h0.75M236.43 788.13h0.75M236.54 815.6h0.75M249.77 793.06h0.75M226.15 811.11h0.75M233.44 814.58h0.75M239.66 765.47h0.75M230.66 795.95h0.75M238.43 810.25h0.75M229.92 817.53h0.75M238.68 796.29h0.75M244 816.99h0.75M229.01 776.02h0.75M232.81 799.55h0.75M237.59 811.57h0.75M226.7 782.05h0.75M234.79 791.73h0.75M224.43 794.48h0.75M228.08 785.23h0.75M233.25 778.15h0.75M217.2 805.82h0.75M223.4 819.51h0.75M235.81 806.1h0.75M227 790.3h0.75M240.98 814.39h0.75M229.18 817.35h0.75M233.31 779.56h0.75M228.04 779.73h0.75M239.59 807.22h0.75M229.07 817.54h0.75M242.88 804.86h0.75M240.36 812.13h0.75M238.47 800.56h0.75M242.79 809.3h0.75M228.91 801.12h0.75M240.11 816.23h0.75M226.14 793.14h0.75M225.1 789.41h0.75M239.63 784.63h0.75M222.39 807.73h0.75M235.01 823.8h0.75M228.22 816.45h0.75M240.56 780.28h0.75M238.7 814.36h0.75M224.07 795.14h0.75M239.95 781.09h0.75M227.03 782.44h0.75M234.49 794h0.75M236.64 783.84h0.75M239.59 780.17h0.75M222.91 810.36h0.75M233.93 782.79h0.75M228.16 779.62h0.75M240.91 783.94h0.75M234.64 791.04h0.75M228.24 786.17h0.75M241.31 782.54h0.75M242.16 782.53h0.75M240.37 810.91h0.75M239.87 809.75h0.75M247.56 793.26h0.75M222.97 813.96h0.75M222.11 790.36h0.75M240.99 790.55h0.75M230.11 768.25h0.75M229.06 820.12h0.75M243.41 808.12h0.75M242.04 809.58h0.75M219.42 787.15h0.75M246.01 795.15h0.75M227.47 773.93h0.75M225.87 800.42h0.75M227.22 795.62h0.75M231.25 772.17h0.75M223.26 805.87h0.75M227.27 816.56h0.75M226.2 801.83h0.75M225.87 776.03h0.75M222.74 810h0.75M238.27 784.46h0.75M240.19 797.4h0.75M247 795.49h0.75M227.68 823.21h0.75M227.96 811.19h0.75M233.74 804.74h0.75M222.63 790.42h0.75M244.83 779.08h0.75M230.58 814.5h0.75M242.32 805.99h0.75M226.8 816.29h0.75M224.08 815.15h0.75M230.69 775.71h0.75M226.05 779.3h0.75M220.86 782.49h0.75M224.31 813.26h0.75M245.54 795.35h0.75M232.93 798.86h0.75M225.08 792.04h0.75M228.83 772.15h0.75M224.13 800.56h0.75M232.25 788.51h0.75M238.08 793.17h0.75M222.87 816.57h0.75M222.03 781.2h0.75M233.7 823.67h0.75M237.22 805.6h0.75M234.9 820.3h0.75M239.04 808.96h0.75M224.51 797.98h0.75M233.42 808.67h0.75M224.5 806.99h0.75M230.83 816.19h0.75M219.65 791.42h0.75M236.23 795.04h0.75M235.58 790.8h0.75M240.42 796.97h0.75M234.18 796.78h0.75M237.57 798.83h0.75M231.61 808.02h0.75M239.77 774.12h0.75M233.83 809.91h0.75M229.96 772.37h0.75M236.63 823.91h0.75M220.98 799.76h0.75M242.76 805.49h0.75M239.02 789.31h0.75M233.33 799.11h0.75M238.22 793.61h0.75M237.85 816.6h0.75M238.4 807.27h0.75M234.82 786.81h0.75M231.03 780.33h0.75M241.25 796.96h0.75M239.5 785.61h0.75M220.5 815.03h0.75M232.62 813.91h0.75M228.81 795.21h0.75M220.61 813.78h0.75M239.33 797.43h0.75M225.67 811.43h0.75M241.35 810.62h0.75M242.32 796.38h0.75M223.77 777.23h0.75M240.9 821.19h0.75M237.79 785.41h0.75M230.76 802.22h0.75M235.29 803.32h0.75M243.22 780.34h0.75M234.84 813.56h0.75M230.68 802.47h0.75M221.28 798.36h0.75M236.85 779.6h0.75M235.48 806.87h0.75M226.32 810.84h0.75M222.31 791.37h0.75M243.26 795h0.75M236.43 811.79h0.75M230.35 806.28h0.75M216.17 787.87h0.75M226.49 816.52h0.75M234.1 778.83h0.75M233.38 816.52h0.75M236.39 803.65h0.75M237.73 810.71h0.75M216.43 796.84h0.75M235.13 800.6h0.75M232.08 793.45h0.75M229.22 812.99h0.75M228.47 800.16h0.75M228.52 778.61h0.75M226.13 816.05h0.75M234.63 772.73h0.75M239.37 802.02h0.75M229.41 780.95h0.75M230.53 772.08h0.75M222.77 779.91h0.75M239.11 779.88h0.75M240.93 809.97h0.75M218.07 799.28h0.75M224.73 809.24h0.75M232.66 801.23h0.75M218.67 803.72h0.75M224.36 798.66h0.75M227.24 803.85h0.75M225.26 784.98h0.75M228.54 812h0.75M231.61 770.01h0.75M239.12 809.46h0.75M231.37 815.3h0.75M218.45 790.94h0.75M221.68 797.03h0.75M231.45 803.21h0.75M230.6 779.51h0.75M242.42 820.16h0.75M239.92 781.71h0.75M224.33 802.52h0.75M232.42 778.66h0.75M243.82 784.66h0.75M243.45 817.33h0.75M233.57 775.73h0.75M230.94 791.25h0.75M220.19 814.09h0.75M226.65 783.67h0.75M230.48 770.7h0.75M239.58 796.26h0.75M230.7 776.7h0.75M237.07 804.97h0.75M238.06 822.73h0.75M242.01 810.09h0.75M229.68 798.89h0.75M244.64 799.48h0.75M226.22 798.26h0.75M239.18 779.89h0.75M239.33 781.26h0.75M225.19 814.58h0.75M223.16 816.57h0.75M234.33 803.41h0.75M243.88 791.47h0.75M241.74 812.17h0.75M226.09 772.11h0.75M236.96 810.36h0.75M233.57 795.71h0.75M238.28 802.48h0.75M239.57 819.01h0.75M229.52 816.6h0.75M234.69 786.64h0.75M221.3 790.14h0.75M234.69 769.41h0.75M230.15 792.93h0.75M235.35 777.56h0.75M243.55 787.29h0.75M227.42 777.4h0.75M219.2 783.01h0.75M230.53 798.68h0.75M235.86 786.01h0.75M237.88 791.14h0.75M226.94 781.64h0.75M232.2 798.96h0.75M219.24 809.95h0.75M227.75 777.65h0.75M239.93 798.69h0.75M234.04 802.19h0.75M230.92 809.59h0.75M223.26 813.68h0.75M228.54 791.19h0.75M239.32 787.69h0.75M233.04 792.4h0.75M241.67 811.57h0.75M231.18 790.06h0.75M231.62 824.81h0.75M223.79 823.5h0.75M223.95 807.71h0.75M225.2 790.55h0.75M228.04 779.86h0.75M236.5 806.22h0.75M238.08 806.45h0.75" stroke="#9fb6e0" stroke-width="0.75" fill="none" opacity="0.9"/>
<path d="M262.27 804.98h0.75M260.88 783.63h0.75M249.6 785.62h0.75M266.34 823.81h0.75M268.12 803.49h0.75M259.33 808.74h0.75M254.64 808.83h0.75M255.91 808.08h0.75M246.43 781.73h0.75M250.66 820.74h0.75M260.82 791.93h0.75M258.75 795.92h0.75M249.95 785.61h0.75M272.19 813.25h0.75M255.56 818.06h0.75M257.58 788.03h0.75M267.71 838.55h0.75M260.36 793.2h0.75M255.74 803.12h0.75M250.07 833.15h0.75M256.12 794.43h0.75M254.62 796.5h0.75M242.42 794.99h0.75M262.39 808.77h0.75M258.45 802.32h0.75M246.61 803.63h0.75M259.76 790.41h0.75M249.95 790.15h0.75M248.91 764.2h0.75M253.89 792.5h0.75M256.71 818.1h0.75M251.16 777.98h0.75M255.49 810.4h0.75M263.86 819.27h0.75M256.79 802.88h0.75M246.71 805.02h0.75M260.3 803.46h0.75M254.43 806.25h0.75M258.44 810.19h0.75M258.33 782.95h0.75M253.04 777.89h0.75M260.36 838.82h0.75M251.77 797.23h0.75M257.41 793.26h0.75M265.24 810.36h0.75M267.7 839.51h0.75M258.69 793.4h0.75M263.19 802.77h0.75M251.68 796.22h0.75M262.15 795.01h0.75M254.83 812.61h0.75M254.52 812.59h0.75M262.66 799.38h0.75M249.66 781.96h0.75M262.91 813.46h0.75M256.46 796.83h0.75M261.81 799.08h0.75M270.76 815.36h0.75M247.36 810.3h0.75M257.43 802.44h0.75M255.05 816.97h0.75M253.39 820.73h0.75M251.91 811.14h0.75M247.92 809.34h0.75M250.75 795.18h0.75M260.09 794.07h0.75M258.9 803.51h0.75M263.07 818.09h0.75M257.36 800.05h0.75M251.16 817.27h0.75M254.73 784.24h0.75M251.68 773.94h0.75M251.28 792.72h0.75M257.32 814.62h0.75M260.46 780.43h0.75M253.39 807.89h0.75M257.82 802.55h0.75M251.7 808.21h0.75M255.5 798.01h0.75M255.35 798.16h0.75M257.6 817.12h0.75M256.35 793.4h0.75M255.31 799.1h0.75M258.61 813.31h0.75M264.85 819.01h0.75M246.8 784.55h0.75M249.13 801.13h0.75M268.62 815.64h0.75M252.9 817.9h0.75M259.3 792.88h0.75M250.75 817.7h0.75M260.05 776.54h0.75M251.88 806.35h0.75M248.61 796.77h0.75M251.18 776.4h0.75M253.12 792.65h0.75M257.42 779.74h0.75M257.3 797.53h0.75M247.26 811.93h0.75M253.48 805.46h0.75M264.35 812.27h0.75M260.97 807.51h0.75M252.75 802.04h0.75M247.36 802.41h0.75M260.38 810.03h0.75M252.22 783.21h0.75M251.85 795.1h0.75M248.14 821.89h0.75M251.49 800.38h0.75M253.32 801.52h0.75M244.2 780.49h0.75M255.71 800.82h0.75M258.01 795.78h0.75M260.33 807.2h0.75M255.6 801.54h0.75M261.61 804.68h0.75M264.32 808.5h0.75M257.18 802.34h0.75M257.48 808.62h0.75M252.45 809.74h0.75M269.83 817.48h0.75M256.48 791.3h0.75M251.69 787.99h0.75M257.28 793.27h0.75M264.57 801.4h0.75M250.99 786.37h0.75M255.31 799.2h0.75M260.91 795.14h0.75M257.67 815.16h0.75M254.29 777.54h0.75M257.14 815.79h0.75M257.98 802.92h0.75M245.31 816.06h0.75M254.81 785.1h0.75M254.01 802.34h0.75M256.07 789.7h0.75M268.92 826.18h0.75M261.28 813.29h0.75M253.66 784.58h0.75M248.89 811.15h0.75M256.26 823.23h0.75M243.5 811.07h0.75M258.36 795.84h0.75M260.64 795.72h0.75M254.32 807.38h0.75M256.68 805.74h0.75M257 815.84h0.75M251.19 772.02h0.75M250.81 766.31h0.75M266.42 799.44h0.75M255.6 805.67h0.75M251.59 792.13h0.75M257.23 802.42h0.75M260.22 801h0.75M252.16 779.83h0.75M246.61 799.02h0.75M257.52 797.09h0.75M262.43 770.05h0.75M259.32 787.92h0.75M253.96 797.15h0.75M251.72 795.04h0.75M257.34 833.98h0.75M255.81 810.87h0.75M260.3 791.72h0.75M258.43 797.69h0.75M260.68 796.82h0.75M261.66 793.29h0.75M253.23 810.97h0.75M261.37 816.41h0.75M266.69 821.84h0.75M255.77 813.73h0.75M251.29 809.18h0.75M257.97 800.79h0.75M251.86 812.88h0.75M244.85 792.19h0.75M248.1 791.91h0.75M253.4 788.92h0.75M252.46 803.04h0.75M266.56 831.24h0.75M254.76 795.17h0.75M259.14 792.43h0.75M247.69 809.09h0.75M253.57 820.11h0.75M257.64 783.3h0.75M257.4 808.85h0.75M256.13 783.52h0.75M247.58 820.84h0.75M240.5 778.95h0.75M260.19 827.97h0.75M259.33 803.3h0.75M257.88 817.82h0.75M252.91 816.4h0.75M257.17 805.01h0.75M258.2 807.08h0.75M250.76 818.78h0.75M253.14 796.17h0.75M242.94 771.43h0.75M258.89 802.1h0.75M255.25 796.11h0.75M259.18 794.92h0.75M247.72 774.72h0.75M251.43 802.8h0.75M263.67 813.91h0.75M252.09 781.45h0.75M260.32 810.94h0.75M255.5 809.48h0.75M259.03 810.2h0.75M263.06 785.57h0.75M252.25 792.04h0.75M250.38 824.14h0.75M257.76 808.23h0.75M260.14 801.04h0.75M260.41 801.62h0.75M259.92 811.47h0.75M262.93 785.78h0.75M250.78 788.11h0.75M251.3 803.62h0.75M261.1 800.13h0.75M261.67 816.94h0.75M252.6 808.2h0.75M263.65 800.04h0.75M243.84 801.18h0.75M257.39 810.69h0.75M258.64 802.57h0.75M255.77 790.73h0.75M266.5 828.88h0.75M255.08 789.67h0.75M258.2 824.23h0.75M256.08 790.72h0.75M260.98 808.17h0.75M251.51 795.85h0.75M256.74 787.27h0.75M257.42 819.51h0.75M261.61 821.77h0.75M259.94 802.99h0.75M259.23 820.02h0.75M256.11 808.67h0.75M252.47 799.58h0.75M253.24 785.68h0.75M258.06 832.48h0.75M246.66 789.36h0.75M256.96 792.45h0.75M256.78 813.53h0.75M247.03 794.66h0.75M259.09 811.32h0.75M265.82 810.72h0.75M262.66 798.48h0.75M251 791.42h0.75M253.53 812.07h0.75M260.01 804.59h0.75M251.05 800.56h0.75M253.66 795.32h0.75M246.49 816.6h0.75M259.09 843.37h0.75M270.51 811.74h0.75M267.98 803.92h0.75M271.09 810.77h0.75M245.92 795.31h0.75M260.3 827.42h0.75M261.25 828.84h0.75M256.96 782.17h0.75M256.8 790.61h0.75M260.5 776.31h0.75M250.6 782.89h0.75M256.54 816.01h0.75M254.31 783.36h0.75M253.18 798.01h0.75M262.27 807.45h0.75M263.49 768.6h0.75M265.65 837.55h0.75M253.12 836.33h0.75M247.5 809.06h0.75M248.87 789.15h0.75M258.7 806.66h0.75M257.56 800.4h0.75M245.87 773.67h0.75M251.32 785.54h0.75M253.41 777.32h0.75M255.3 808.01h0.75M253.24 818.09h0.75M257.08 815.05h0.75M251.09 801.56h0.75M248.19 771.46h0.75M246.38 790.33h0.75M257.26 831.28h0.75M257.68 797.95h0.75M261.7 807.04h0.75M256.01 803.7h0.75M261.29 826.88h0.75M248.18 798.25h0.75M253.38 800.46h0.75M268.91 807.03h0.75M242.5 804.94h0.75M253.34 787.78h0.75M268.09 836.66h0.75M261.57 808.86h0.75M251.98 819.02h0.75M254.61 804.14h0.75M254.99 803.41h0.75M245.07 778.48h0.75M248.92 767.96h0.75M249.56 791.09h0.75M254.92 800.05h0.75M253.57 814.43h0.75M244.57 787.45h0.75M254.65 789.3h0.75M263.51 805.03h0.75M261.99 813.07h0.75M254.46 814.18h0.75M247.93 780.19h0.75M253.76 768.08h0.75M253.59 797.6h0.75M246.35 781.64h0.75M248.76 829.26h0.75M262.84 814.36h0.75M257.12 820.53h0.75M256.52 818.92h0.75M260.79 833.53h0.75M261.79 797.91h0.75M259.33 819.13h0.75M259.61 833.83h0.75M257.55 797.21h0.75M260.82 820.43h0.75M255.89 808.84h0.75M256.72 805.83h0.75M257.97 797.71h0.75M260.02 809.36h0.75M265.5 811.96h0.75M256.6 785.71h0.75M268.38 806.6h0.75" stroke="#a9bee6" stroke-width="0.75" fill="none" opacity="0.9"/>
<path d="M260.2 777.72h0.75M262 779.1h0.75M267.92 776.08h0.75M261.18 776.33h0.75M264.11 766.82h0.75M265.47 776.97h0.75M257 791.67h0.75M257.36 785.5h0.75M262.05 774.57h0.75M256.18 774.2h0.75M264.64 779.31h0.75M259.97 787.58h0.75M262.12 780.45h0.75M258.95 768.85h0.75M260.35 782.15h0.75M260.53 782.31h0.75M261.08 777.91h0.75M261.82 782.63h0.75M254.14 779.74h0.75M261.27 776.27h0.75M265.39 789.03h0.75M265.99 785.62h0.75M263.57 780.85h0.75M264.62 774.56h0.75M261.52 782.32h0.75M261.46 769.91h0.75M261.65 776.48h0.75M259.72 784.7h0.75M265.73 780.45h0.75M257.95 778.39h0.75M261.31 771.4h0.75M259.84 780.89h0.75M259.9 783.26h0.75M257.38 784.93h0.75M259.51 780.72h0.75M262.03 775.68h0.75M265.61 765.61h0.75M262.65 784.81h0.75M261.1 779.2h0.75M257.95 779.34h0.75M262.53 774.98h0.75M262 776.78h0.75M258.36 779.04h0.75M259.2 786.59h0.75M259.19 790.72h0.75M261.87 779.45h0.75M259.37 783.06h0.75M258.34 767.45h0.75M263.44 763.15h0.75M265.93 775.44h0.75M267.46 781.53h0.75M267.69 768.11h0.75M260.38 781.73h0.75M259.97 780.17h0.75M261.37 784.84h0.75M266.96 762.58h0.75M264.14 770.53h0.75M267.68 767.97h0.75M258.99 783.64h0.75M261.33 784.99h0.75M263.24 773.55h0.75M256.19 788.71h0.75M261.17 778.74h0.75M260.85 777.54h0.75M259.37 780.02h0.75M262.81 769.81h0.75M256.36 783.96h0.75M265.01 775.33h0.75M261.35 775.65h0.75M263.35 779.01h0.75M259.98 773.57h0.75M263.49 782.45h0.75M260.41 782.72h0.75M251 776.13h0.75M262.55 763.63h0.75M259.87 781.44h0.75M266.38 782.64h0.75M257.57 786.55h0.75M260.95 786.06h0.75M257 766.73h0.75M256.29 784.2h0.75M266.13 781.51h0.75M262.55 778.7h0.75M262.62 771.55h0.75M266.29 785.85h0.75M265.34 778.94h0.75M264.91 787.23h0.75M270.82 788.05h0.75M259.29 773.32h0.75M265.02 783.47h0.75M263.89 780h0.75M259.07 780.7h0.75M256.77 781.78h0.75M270.01 785.27h0.75M258.91 772.77h0.75M270.48 784.66h0.75M260.11 784.11h0.75M260.78 771.28h0.75M262.45 783.56h0.75M266.54 769.76h0.75M267.19 777.69h0.75M254.88 787.32h0.75M265.48 783.78h0.75M264.9 772.57h0.75M263.78 766.75h0.75M259.61 799.36h0.75M267.84 782.67h0.75M263.73 780.29h0.75M264.2 781.18h0.75M258.64 776.83h0.75" stroke="#b3c6e8" stroke-width="0.75" fill="none" opacity="0.85"/>
<path d="M238.91 788.59h0.75M246.81 792.99h0.75M242.14 803.47h0.75M236.34 808.81h0.75M227.65 808.69h0.75M234.12 806.66h0.75M229.28 799.92h0.75M240.53 797.34h0.75M235.5 786.74h0.75M239.26 785.75h0.75M234.55 819.66h0.75M227.52 815.67h0.75M237.81 814.81h0.75M233.81 786.93h0.75M238.14 808.55h0.75M228.89 771.54h0.75M238.9 799.55h0.75M230.41 794.84h0.75M235.11 804.13h0.75M243.77 807.75h0.75M238.41 786.1h0.75M227.79 790.13h0.75M231.25 799.59h0.75M232.97 782.08h0.75M226.74 791.77h0.75M225.41 780.32h0.75M230.62 805.41h0.75M224.38 812.56h0.75M228.83 791.83h0.75M242.92 798.55h0.75M228.68 794.86h0.75M229.86 784.68h0.75M236.04 791.63h0.75M243.95 813.99h0.75M228.53 811.66h0.75M230.1 783.01h0.75M235.04 812.35h0.75M243.92 790.68h0.75M239.67 804.18h0.75M230.8 787.17h0.75M224.19 789.71h0.75M238.4 820.64h0.75M221.97 794.55h0.75M229.78 807.43h0.75M234.66 794.5h0.75M230.21 799.16h0.75M229.13 799.54h0.75M240.86 803.27h0.75M237.9 815.53h0.75M240.16 787.33h0.75M231.43 794.27h0.75M233.05 778.72h0.75M234.87 814.05h0.75M229.58 792.29h0.75M233.62 803.42h0.75M226.96 817.83h0.75M241.82 801.67h0.75M240.12 806.19h0.75M238.44 818.91h0.75M224.21 798.67h0.75M237.68 790.9h0.75M233.17 796.22h0.75M242.24 807.75h0.75M233.18 818.45h0.75M235.54 811.08h0.75M234.71 790.44h0.75M231.5 786.13h0.75M242.38 783.16h0.75M224.39 809.59h0.75M240.5 790.62h0.75M241.24 799.25h0.75M242.74 788.24h0.75M230.04 809.63h0.75M227.87 819.67h0.75M234.98 788.37h0.75M239.4 786.48h0.75M240.44 775.02h0.75M237.94 809.06h0.75M236.84 787.68h0.75M239.55 787.13h0.75M229.93 815.04h0.75M238.22 799.29h0.75M229.79 794.93h0.75M235.11 778.95h0.75M238.62 785.72h0.75M226.84 812.28h0.75M231.11 810.65h0.75M226.31 796.15h0.75M235.98 808.95h0.75M226.15 815.44h0.75M236.74 792.11h0.75M235.1 781.74h0.75M235.63 802.73h0.75M229.9 787.99h0.75M223.31 802.86h0.75M232.38 803.02h0.75M245.31 805.28h0.75M229.62 795.43h0.75M237.2 786.37h0.75M237.14 793.28h0.75M230.56 807.84h0.75M226.79 806.98h0.75M228.78 815.02h0.75M231.94 805.8h0.75M225.92 806.72h0.75M226.23 805.29h0.75M227.19 795.75h0.75M221.31 800.85h0.75M229.49 779.67h0.75M229.18 791.18h0.75M224.84 815.38h0.75M243.26 800.54h0.75M226.47 804.77h0.75M226.59 804.59h0.75M234.19 803.11h0.75M237.73 795.13h0.75M239.09 801.33h0.75M229.33 799.91h0.75M242.04 789.88h0.75M237.61 809.33h0.75M234.04 801.31h0.75M233.04 792.01h0.75M242.7 810.73h0.75M231.85 789.15h0.75M228.47 776.12h0.75M238.43 794.81h0.75M224.49 788.49h0.75M227.74 788.98h0.75M241.28 788.69h0.75M231.8 805.85h0.75M232.12 786.11h0.75M235.87 808.63h0.75M233.33 784.75h0.75M237.1 808.3h0.75M231.28 777.05h0.75M239.43 799.94h0.75M229.41 801.05h0.75M241.77 797.11h0.75M236.92 802.51h0.75M237.78 808.98h0.75M234.5 794.09h0.75M229.4 808.17h0.75M234.67 809.57h0.75M236.64 774.07h0.75M232.37 791.76h0.75M240.13 807.24h0.75M227.23 803.69h0.75M224.88 803.77h0.75M241.8 797.36h0.75M227.84 819.83h0.75M237.35 786.1h0.75M225.23 795.36h0.75M239.09 793.36h0.75M232.13 809.92h0.75M227.07 787.28h0.75M225.86 780.09h0.75M232.9 787.53h0.75M230.82 797.1h0.75M227.96 787.72h0.75M234.79 797.62h0.75M231.14 800.16h0.75M231.39 793.5h0.75M223.99 807.6h0.75M223.08 796.21h0.75M235.16 795.8h0.75M224.06 806.69h0.75M232.42 808.51h0.75M227.27 779.5h0.75M237.35 810.13h0.75M222.52 795.11h0.75M228.6 796.52h0.75M231.81 785.52h0.75M238.2 811.87h0.75M225.17 799.45h0.75M237.89 809.11h0.75M228.22 790.81h0.75M237.93 793.49h0.75M220.55 798.32h0.75M219.92 799.55h0.75M232.13 788.73h0.75M232.65 796.54h0.75M233.35 778.85h0.75M239.11 799.88h0.75M223.18 794.67h0.75M224.35 785.03h0.75M223.77 793.99h0.75M221.12 811.59h0.75M231.05 799.7h0.75M229.97 803.12h0.75M228.03 787.97h0.75M226.34 789.26h0.75M241.68 783.39h0.75M230.65 786.85h0.75M223.5 808.79h0.75M223.27 797.91h0.75M235.81 778.81h0.75M233.29 775.15h0.75M220.36 808.23h0.75M231.07 793.13h0.75M227.86 776.5h0.75M226.23 797.59h0.75M242.53 787.55h0.75M228.83 785.12h0.75M236.68 776.38h0.75M232.33 780.3h0.75M241.04 810.73h0.75M232.52 776.59h0.75M234.45 817.3h0.75M225.08 799.05h0.75M243.6 805.28h0.75M223.36 786.05h0.75M239.71 808.58h0.75M231.88 789.81h0.75M243.44 793.84h0.75M230.39 809.49h0.75M225.92 802.52h0.75M233.96 798.84h0.75M230.15 786.76h0.75M233.13 799.39h0.75M238.49 793.84h0.75M233.97 807.32h0.75M229.29 813.71h0.75M233.19 779.39h0.75M226.83 788.82h0.75M238.96 782.51h0.75M230.46 815.31h0.75M229.75 817.27h0.75M241.54 812.07h0.75M231.26 781.91h0.75M223.34 783.33h0.75M240.89 801.5h0.75M241.23 801.62h0.75M230.46 797.5h0.75M228.02 802.61h0.75M235.69 799.31h0.75M240.71 800.41h0.75M242.54 809.99h0.75M232.19 775.36h0.75M231.03 804.86h0.75M231.53 806.3h0.75M237.35 808.04h0.75M230.58 800.68h0.75M224.86 793.02h0.75M228.15 796.44h0.75M232.61 803.55h0.75M228.59 793.22h0.75M243.21 811.23h0.75M234.4 807.54h0.75M223.52 805.29h0.75M220.27 788.86h0.75M224.81 788.01h0.75M229.43 816.09h0.75M233.64 789.17h0.75M239 804.14h0.75M230.25 814.99h0.75M240.03 792.53h0.75M231.92 778.4h0.75M239.61 815.87h0.75M222.37 806.23h0.75M228.93 773.17h0.75M232.94 791.23h0.75M239.72 789.23h0.75M231.88 794.76h0.75M240.97 780.76h0.75M238.69 804.02h0.75M242.02 809.01h0.75M227.57 813.58h0.75M229.86 795.82h0.75M224.84 794.79h0.75M223.46 817.59h0.75M234.65 777.9h0.75M231.06 795.89h0.75M227.27 796.08h0.75M228.9 788.31h0.75M240.22 801.43h0.75M231.08 794.16h0.75M220.95 801.63h0.75M240.53 788.02h0.75M225.39 818.82h0.75M235.48 790.13h0.75M232.5 785.02h0.75M240.6 782.5h0.75M225.97 779.81h0.75M234.37 789.39h0.75M239.16 798.16h0.75M239.96 817.03h0.75M222.94 796.35h0.75M235.24 788.32h0.75M228.69 813.16h0.75M240.18 802.67h0.75M235.21 793.4h0.75M233.81 791.17h0.75M231.64 811.63h0.75M233.76 806.76h0.75M234.84 783.36h0.75M233.3 794.82h0.75M233.82 789.08h0.75M222.59 809.37h0.75M231.25 794.89h0.75M237.56 803.21h0.75M233.35 800.69h0.75M240.78 809.19h0.75M237.85 805.31h0.75M227.36 797.98h0.75M229.5 778.74h0.75M228.46 787.64h0.75M231.77 790.41h0.75M239.17 816.56h0.75M226.07 784.62h0.75M230.05 774.17h0.75M229.08 774.4h0.75M226.04 804.52h0.75M239.84 804.78h0.75M228.16 819.73h0.75M229.46 800.86h0.75M234.1 794.57h0.75M231.59 784.47h0.75M227.03 789.59h0.75M239.64 800.44h0.75M231.74 798.97h0.75M229.39 795.55h0.75M241.74 801.49h0.75M234.84 804.22h0.75M237.61 778.34h0.75M239.76 779.48h0.75M231.37 793.03h0.75M221.86 788.81h0.75M236.33 788.85h0.75M225.25 777.72h0.75M232.67 810.69h0.75M227.47 804.13h0.75M221.02 784.18h0.75M239.52 813.74h0.75M239.55 808.23h0.75M225.84 809.26h0.75M224.39 797.21h0.75M233.43 791.4h0.75M222.01 795.23h0.75M237.28 809.53h0.75M232.79 776.31h0.75M228.05 785.84h0.75M230.28 796.92h0.75M226.71 800.96h0.75M236.64 780.27h0.75M239.95 803.17h0.75M234.28 803.88h0.75M225.49 799.19h0.75M218.91 804.2h0.75M241.93 806.34h0.75M237.48 815.68h0.75M231.08 804.87h0.75M228.28 801.08h0.75M226.3 787.5h0.75M224.2 790.35h0.75M228.61 802.63h0.75M228.55 805.57h0.75M229.27 789.21h0.75M239.97 793.65h0.75M233.61 801.37h0.75M233.12 803.21h0.75M239.19 811.31h0.75M228.5 785.16h0.75M223.82 784.43h0.75M224.33 789.42h0.75M235.33 811.18h0.75M235.45 795.14h0.75M236.64 803.35h0.75M229.15 800.57h0.75M232.99 790.06h0.75M224.19 799.39h0.75M238.2 786.12h0.75M228.95 794.98h0.75M234.46 799.88h0.75M227.31 806.71h0.75M233.19 821.52h0.75M230.9 800.23h0.75M237.53 790.51h0.75M221.46 809.11h0.75M224.78 800.15h0.75M243.37 795.86h0.75M238.7 792.36h0.75M220.24 794.08h0.75M239.98 783.98h0.75M229.16 797.65h0.75M226.97 817.03h0.75M220.97 786.7h0.75M229.79 798.25h0.75M226.48 816.61h0.75M230.87 774.36h0.75M239.92 779.01h0.75M225.51 817.39h0.75M229.77 801.06h0.75M235.27 810.25h0.75M222.55 815.31h0.75M231.11 774.84h0.75M229.79 800.75h0.75M228.93 802.95h0.75M239.47 792.58h0.75M234.38 784.1h0.75M222.93 787.39h0.75M220.57 796.21h0.75M226.8 807.26h0.75M224.8 812.1h0.75M238.38 820.29h0.75M231.27 778.23h0.75M235.55 790.18h0.75M239.33 790.43h0.75M229.64 785.93h0.75M218.76 799.78h0.75M230.9 788.54h0.75M226.35 786.46h0.75M228.16 790.4h0.75M223.83 782.52h0.75M229.79 805.76h0.75M239.17 787.86h0.75M232.26 815.41h0.75M233.51 816.98h0.75M240.13 801.43h0.75M227.7 779.76h0.75M231.1 799.09h0.75M232.33 795.2h0.75M239.78 805.57h0.75M231.19 798.1h0.75M220.14 798.12h0.75M229.25 793.46h0.75M230.53 813.89h0.75M231.16 806.13h0.75M241.36 796.74h0.75M226.6 788.13h0.75M237.93 793.95h0.75M242.42 811.46h0.75M228.66 814.03h0.75M225.28 792.12h0.75M236.21 808.31h0.75M240.45 788.93h0.75M232.87 800.07h0.75M245.39 801.15h0.75M239.52 785.12h0.75M232.8 781.09h0.75M241.8 801.38h0.75M225.94 813.64h0.75M230.21 804.39h0.75M238.7 779.35h0.75M227.03 787.92h0.75M236.05 789.11h0.75M223.49 789.95h0.75M226.81 799.82h0.75M237.34 791.09h0.75M231.73 810.88h0.75M233.1 813.4h0.75M243.09 802.5h0.75M222.3 798.04h0.75M242.54 801.31h0.75M222.34 789.77h0.75M223.1 786.75h0.75M219.84 793.55h0.75M231.29 804.87h0.75M231.22 792.23h0.75M235.8 779.22h0.75M234.18 796.36h0.75M231.01 774.34h0.75M230.44 798.19h0.75M226.64 805.67h0.75M241.59 802.63h0.75M232.36 787.76h0.75M224.19 813.59h0.75M230.86 791.7h0.75M226.69 781.57h0.75M224.17 808.46h0.75M230.87 794.07h0.75M229.39 778.66h0.75M235.3 796.37h0.75M223.9 802.25h0.75M232.7 800.8h0.75M234.36 800.91h0.75M241.18 797.44h0.75M235.15 802.38h0.75M233.58 798.93h0.75M239.71 808.48h0.75M226.06 800.96h0.75M225.42 784.37h0.75M234.53 794.56h0.75M230.43 778.97h0.75M225.91 797.11h0.75M239.74 813.92h0.75M230.89 788.25h0.75M223.48 796.25h0.75M228.9 786.31h0.75M231.04 796.47h0.75M242.52 784.58h0.75M224.78 818.18h0.75M227.75 796.65h0.75M238.75 777.58h0.75M227.94 803.94h0.75M235.01 793.18h0.75M229.79 788.65h0.75M224.74 788.75h0.75M233.51 818.49h0.75M233.53 814.97h0.75M234.6 802.7h0.75M231.5 812.9h0.75M232.8 796.64h0.75M232.54 802.13h0.75M239.32 800.85h0.75M229.57 777.73h0.75M228.97 775.07h0.75M238.17 815.83h0.75M236.88 779.42h0.75M231.87 778.18h0.75M230.63 778.85h0.75M230.74 812.41h0.75M235.87 802.88h0.75M238.97 819.03h0.75M231.49 808.69h0.75M225.06 797.47h0.75M218.05 800.18h0.75M240.94 796.88h0.75M234.27 782.83h0.75M235.06 794.85h0.75M242.95 789.8h0.75M244.36 796.3h0.75M236.64 815.63h0.75M239.2 807.1h0.75M240.32 789.79h0.75M232.09 790.52h0.75M237.9 810.07h0.75M220.3 798.65h0.75M230.9 790.73h0.75M240.95 799.98h0.75M233.95 817.2h0.75M238.82 793.4h0.75M230.84 774.29h0.75M220.26 806.47h0.75M230.72 782.68h0.75M237.6 790.06h0.75M232.89 776.22h0.75M232.93 805.09h0.75M236.32 785.13h0.75M234.93 789.23h0.75M236.15 794.18h0.75M243.15 791.09h0.75M223.02 783.76h0.75M230.53 785.14h0.75M244.75 794.06h0.75M227.14 799.71h0.75M228.29 805.71h0.75M226.46 811.12h0.75M238.93 781.41h0.75M241.87 787.62h0.75M227.92 788.94h0.75M222.18 786.31h0.75M228.83 811.92h0.75M245.33 799.65h0.75M221.8 814.37h0.75M238.36 773.9h0.75M227.45 807.03h0.75M230.98 797.52h0.75M223.34 805.14h0.75M220.39 809.41h0.75M230.12 821.2h0.75M220.3 799.45h0.75M228.18 816.51h0.75M243.33 788.29h0.75M230.1 798.85h0.75M236.56 788.68h0.75M234.29 782.94h0.75M238.14 794.09h0.75M243.49 792.45h0.75M239.81 811.08h0.75M226.37 793.2h0.75M235.6 787.14h0.75M222.63 799.81h0.75M231.06 794.75h0.75M227.04 780.67h0.75M234.42 787.2h0.75M228.65 797.57h0.75M234.92 817.78h0.75M233.54 814.8h0.75M240.69 781.68h0.75M231.59 808.95h0.75M224.6 810.66h0.75M224.39 801.24h0.75M240.5 791.04h0.75M235.8 808.62h0.75M233.46 798.48h0.75M238.71 806.14h0.75M228.93 790.56h0.75M237.75 810.85h0.75M225.78 778.67h0.75M222.81 805.07h0.75M234.84 795.15h0.75M242.76 790.93h0.75M220.51 792.29h0.75M224.46 790.17h0.75M226.62 770.95h0.75M238.05 795.39h0.75M232.77 779.63h0.75M232.18 785.24h0.75M233.9 803.19h0.75M235.51 789.77h0.75M235.2 813.1h0.75M223.69 788.64h0.75M223.95 782.1h0.75M223.34 814.18h0.75M236.06 807.36h0.75M238.99 794.31h0.75M230.94 785.39h0.75M222.52 815.36h0.75M220.27 804.13h0.75M232.68 800h0.75M241.35 804.79h0.75M238.73 801.78h0.75M241.71 779.53h0.75M228.26 798.83h0.75M237.35 787.58h0.75M231.42 816.7h0.75M228.46 776.84h0.75M224.81 783.84h0.75M238.36 793.26h0.75M241.08 782.86h0.75M232.92 793.35h0.75M236.4 781.76h0.75M228.12 806.24h0.75M224.35 781.05h0.75M243.09 797.38h0.75M241.01 798.12h0.75M236.12 791.9h0.75M236.06 814.2h0.75M227.85 815.32h0.75M232.85 784.17h0.75M227.2 770.29h0.75M222.17 787.9h0.75M245.32 794.39h0.75M225.71 796.06h0.75M240.12 805.35h0.75M237.48 778.32h0.75M231.55 811.47h0.75M228.93 809.48h0.75M240.9 797.53h0.75M224.67 803.3h0.75M234.9 791.46h0.75M241.98 798.78h0.75M229.52 779.97h0.75M225.56 800.12h0.75M236.32 808.24h0.75M226.17 799.19h0.75M229.63 780.36h0.75M231.52 810.75h0.75M228.84 779.14h0.75M235.61 789.48h0.75M240.08 796.69h0.75M229.61 816.86h0.75M235.87 774.45h0.75M238.8 812.32h0.75M232.79 803.22h0.75M231.52 783.2h0.75M236.95 807.14h0.75M238.67 788.01h0.75M221.66 784.81h0.75M232.59 811.36h0.75M224.67 788.5h0.75M239.88 780.65h0.75M241.89 797.88h0.75M221.2 809.86h0.75M237.97 778.55h0.75M221.25 812.11h0.75M227.89 797h0.75M232.94 797.19h0.75M229.16 784.5h0.75M226.73 783.62h0.75M229.23 813.71h0.75M236.72 788.34h0.75M232.46 802.69h0.75M235.51 787.96h0.75M233.82 799.21h0.75M227.81 815.35h0.75M221.45 798.48h0.75M231.77 797.68h0.75M226.68 806.65h0.75M236.01 806.32h0.75M228.12 804.84h0.75M221.85 808.59h0.75M231.67 800.91h0.75M236.89 775.27h0.75M232.87 796.59h0.75M220.36 806.43h0.75M226.54 784.53h0.75M241.25 802.65h0.75M230.76 803.41h0.75M228.55 797.48h0.75M236.52 814.62h0.75M225.53 785.24h0.75M235.17 800.93h0.75M231.78 795.87h0.75M234.64 799.34h0.75M235 808.04h0.75M238.12 811.65h0.75M236.73 786.13h0.75M224.22 798h0.75M226.11 814.35h0.75M229.66 800.93h0.75M230.03 790.24h0.75M237.34 800.87h0.75M228.98 795.06h0.75M238.92 814.67h0.75M230.24 811.76h0.75M228.13 778.56h0.75M228.15 785.65h0.75M230.24 787.98h0.75M226.29 798.38h0.75M229 789.58h0.75M242.76 805.83h0.75M238.46 809.29h0.75M237.9 800.85h0.75M225.22 797.08h0.75M240.16 798.69h0.75M226.77 796.7h0.75M230.3 814.28h0.75M231.28 818.39h0.75M226.74 776.14h0.75M232.39 781.94h0.75M234.72 781.45h0.75M235.69 804.63h0.75M239.54 787.9h0.75M227.05 784.78h0.75M236.76 816.14h0.75M224.15 802.67h0.75M221.09 786.36h0.75M232.61 795.74h0.75M229.74 809.18h0.75M230.81 805.87h0.75M235.57 804.38h0.75M231.88 815.25h0.75M223.08 802.32h0.75M228.41 802.63h0.75M243.23 797.35h0.75M230.03 781.3h0.75M222.23 790.89h0.75M231.76 803.08h0.75M239.39 774.66h0.75M234.77 780.05h0.75M241.48 789.83h0.75M230.22 784.21h0.75M224.8 808.01h0.75M229.33 784.02h0.75M238.08 779.26h0.75M230.99 794.69h0.75M226.22 790.91h0.75M240.1 789.33h0.75M239.31 819.95h0.75M234.89 785.64h0.75M229.34 812.91h0.75M232.26 818.22h0.75M234.76 809.74h0.75M227.61 806.15h0.75M231.28 801.64h0.75M228.3 813.59h0.75M230.91 777.08h0.75M233.27 805.08h0.75M221.13 809.97h0.75M228.94 791.89h0.75M242.2 806.69h0.75M225.62 792.39h0.75M233.3 807.07h0.75M233.17 785.74h0.75M233.93 800.22h0.75M241.15 803.4h0.75M232.2 787.25h0.75M227.92 810.6h0.75M223.11 793.36h0.75M225.5 796.86h0.75M238.73 796.31h0.75M239.04 787.76h0.75M222 788.55h0.75M228.77 809.91h0.75M240.98 798.92h0.75M239.53 812.46h0.75M224.63 782.42h0.75M228.68 798.16h0.75M238.9 793h0.75M240.78 800.59h0.75M230.06 790.82h0.75M234.81 768.57h0.75M238.14 780h0.75M223.37 810.19h0.75M233.15 804.72h0.75M241.9 799.25h0.75M233.35 814.05h0.75M229.01 793.67h0.75M233.4 794.45h0.75M240.96 802.83h0.75M238.01 789.79h0.75M231.95 775.45h0.75M232.58 795.66h0.75M237.06 784.18h0.75M227.06 808.44h0.75M234.98 804.73h0.75M230.38 796.92h0.75M235.74 781.59h0.75M228.77 808.94h0.75M234.18 811.87h0.75M238.64 784.86h0.75M233.56 789.15h0.75M223.56 785.4h0.75M219.35 793.81h0.75M227.36 795.46h0.75M242.09 790.74h0.75M226.37 810.47h0.75M236.25 790.18h0.75M230.6 807.83h0.75M223.54 786.44h0.75M237.26 818.22h0.75M237.82 799.18h0.75M233.34 801.3h0.75M233.29 795.47h0.75M224.71 796.91h0.75M237.77 780.86h0.75M239.34 786.71h0.75M236.84 803.96h0.75M237.49 801.5h0.75M237.2 784.66h0.75M235.54 800.34h0.75M235.74 785.21h0.75M229.36 803.18h0.75M241.39 804.67h0.75M226.44 791.4h0.75M228.85 799.11h0.75M232.64 774.14h0.75M228.08 805.44h0.75M238.96 788.09h0.75M226.84 777.82h0.75M227.32 807.02h0.75M228.4 785.52h0.75M243.25 807.86h0.75M228.72 793.61h0.75M220.31 799.78h0.75M234.98 778.2h0.75M226.97 800.78h0.75M231.97 797.51h0.75M230.19 788.04h0.75M225.4 816.59h0.75M230.23 793.58h0.75M233.9 807.19h0.75M228.13 793.13h0.75M235.65 788.29h0.75M241.4 802.8h0.75M235.25 786.02h0.75M232.76 804.9h0.75M240.23 797.62h0.75M224 781.19h0.75M223.32 802.89h0.75M235.98 786.02h0.75M224.27 780.81h0.75M232.41 782.99h0.75M222.63 802.47h0.75M238.4 801.68h0.75M234.78 815.31h0.75M221.54 789.52h0.75M233.87 799.86h0.75M221.07 783.41h0.75M229.92 795.02h0.75M233.71 791.89h0.75M238.58 795.05h0.75M233.94 784.19h0.75M242.51 793.97h0.75M244.5 794.82h0.75M236.66 817.4h0.75M230.4 803.33h0.75M233.77 799.59h0.75M235.75 791.48h0.75M237.82 791.11h0.75M224.42 806.04h0.75M223.37 800.54h0.75M223.72 803.83h0.75M235.92 796.43h0.75M225.82 810.82h0.75M226.8 813.31h0.75M220.68 801.12h0.75M232.06 813.59h0.75M241.04 804.4h0.75M226.07 785.34h0.75M232.91 807.13h0.75M235.89 810.83h0.75M233.71 795.54h0.75M234.4 805.32h0.75M228.81 786.76h0.75M235.56 797.95h0.75M237.73 795.68h0.75M224.4 788.8h0.75M227.5 824.11h0.75M227.89 784.34h0.75M241.41 805.1h0.75M232.93 814.48h0.75M225.94 809.81h0.75M228.51 798.66h0.75M229.52 779h0.75M234.33 792.86h0.75M240.31 802.7h0.75M227.51 815.03h0.75M228.79 793.91h0.75" stroke="#6486cc" stroke-width="0.75" fill="none" opacity="0.7"/>
<path d="M237.55 784.93h0.75M238.5 790.58h0.75M227.97 796.81h0.75M227.02 795.7h0.75M228.19 795.28h0.75M228.69 794.33h0.75M239.64 787.21h0.75M229.95 794.75h0.75M232.57 795.14h0.75M233.02 801.72h0.75M226.49 788.34h0.75M230.46 801.44h0.75M225.03 791.72h0.75M225.32 795.82h0.75M232.82 810.74h0.75M228.06 788.05h0.75M232.92 801.15h0.75M231.49 794.87h0.75M236.55 786.43h0.75M226.44 791.05h0.75M235.79 800.77h0.75M229.58 798.28h0.75M227.43 795.29h0.75M231.01 805.07h0.75M229.65 791.43h0.75M240.37 788.37h0.75M236.03 803.47h0.75M226.72 799.28h0.75M234.31 800.92h0.75M227 792.76h0.75M229.18 791.47h0.75M232.85 788h0.75M228.73 791.17h0.75M234.19 793.79h0.75M227.82 798.4h0.75M233.35 794.94h0.75M227.88 787.48h0.75M236.53 792.27h0.75M233.51 790.19h0.75M227.32 784.08h0.75M231.18 793.62h0.75M232.73 786.91h0.75M234.84 784.19h0.75M229.12 803.44h0.75M232.48 795.51h0.75M228.68 797.19h0.75M238.05 799.9h0.75M229.7 795.49h0.75M232.02 790.23h0.75M235.8 781.63h0.75M230.15 803.23h0.75M232.43 799.43h0.75M230.04 781.3h0.75M227.74 802.66h0.75M230.38 795.01h0.75M230.17 795.47h0.75M232.31 795.72h0.75M238.85 797.82h0.75M232.22 785.71h0.75M234.4 800.42h0.75M229.97 809.95h0.75M234.21 808.92h0.75M231.36 780.55h0.75M227.92 805.41h0.75M235.16 802.4h0.75M229.33 798.23h0.75M232.05 782.21h0.75M227.48 781.74h0.75M238.65 794.8h0.75M226.12 790.12h0.75M235.09 805.38h0.75M240.24 798.14h0.75M236.4 799.95h0.75M232.4 790.92h0.75M231.78 793.93h0.75M236.86 780.61h0.75M235.86 800.63h0.75M230.25 782.94h0.75M232.53 787.06h0.75M229.31 801.29h0.75M230.89 805.5h0.75M234.61 791.18h0.75M232.87 791.17h0.75M227.76 789.15h0.75M235.06 783.52h0.75M232.73 782.37h0.75M228.08 793.4h0.75M237.56 796.77h0.75M235.12 784.79h0.75M229.86 785.39h0.75M235.88 801.96h0.75M235.78 788.74h0.75M230.45 797.13h0.75M226.15 795.72h0.75M235.03 805.54h0.75M229.67 792.7h0.75M230.31 805.39h0.75M233.37 795.19h0.75M230.31 800.95h0.75M230.49 790.76h0.75M227.11 799.24h0.75M228.54 787.92h0.75M240.57 787h0.75M229.31 806.57h0.75M228.8 786.61h0.75M231.33 784.88h0.75M229.06 780.58h0.75M236.7 784.69h0.75M225.93 803.53h0.75M233.47 784.94h0.75M240.86 798.63h0.75M232.86 787.13h0.75M233.77 793.21h0.75M233.57 796.07h0.75M234.7 806.8h0.75M237.86 794.18h0.75M230.66 790.68h0.75M233.08 795.04h0.75M234.04 809.42h0.75M233.13 780.85h0.75M233.79 788.53h0.75M230.71 801.76h0.75M224.67 796.18h0.75M229.3 801.63h0.75M228.88 793.13h0.75M227.45 797.89h0.75M236.17 789.4h0.75M228.96 796.15h0.75M231.05 780.48h0.75M234.58 811.25h0.75M237.12 782.01h0.75M227.66 787.58h0.75M233.25 806.53h0.75M232.63 796.64h0.75M237.87 789.8h0.75M235.36 783.98h0.75M236.76 799.42h0.75M234.67 799.58h0.75M238.31 799.93h0.75M230.73 798.85h0.75M231.77 791.19h0.75M225.53 798.03h0.75M234.2 796.68h0.75M236 799.34h0.75M227.61 785.38h0.75M236.01 806.11h0.75M233.56 794.88h0.75M230.21 789.94h0.75M238.6 795.05h0.75M227.23 799.75h0.75M230.62 790.27h0.75M227.32 789.93h0.75M230.86 801.96h0.75M232.25 798.65h0.75M231.31 801.09h0.75M226.45 789.22h0.75M237.47 791.14h0.75M225.93 790.23h0.75M238.68 786.16h0.75M236 805.37h0.75M229.01 800.77h0.75M228.24 801.04h0.75M232.01 783.07h0.75M239.35 797.84h0.75M235.85 807.96h0.75M232.51 792.45h0.75M233.16 803.09h0.75M232.1 792.49h0.75M232.19 804.96h0.75M233.95 800.26h0.75M240.37 796.69h0.75M225.28 800.83h0.75M225.38 803.15h0.75M237.88 791.44h0.75M236.71 805.1h0.75M230.85 801.36h0.75M234.16 794.7h0.75M226.69 787.99h0.75M236.24 804.96h0.75M235.6 788.99h0.75M230.35 795.67h0.75M231.83 784.52h0.75M235.66 784.68h0.75M238.91 794.77h0.75M231.66 800.32h0.75M228.63 798.64h0.75M232.46 793.05h0.75M234.07 795.79h0.75M233.09 796.02h0.75M240.72 793.04h0.75M240.15 800.31h0.75M228.62 805.66h0.75M228.94 796.84h0.75M235.67 800.03h0.75M237.49 802.56h0.75M235.32 788.69h0.75M238.53 799.99h0.75M231.92 793.42h0.75M234.72 789.38h0.75M227.54 805.35h0.75M237.77 788.61h0.75M235.87 791.99h0.75M231.84 784.56h0.75M232.24 808.7h0.75M234.49 803.11h0.75M232.54 788.86h0.75M228.86 785.73h0.75M229.12 803.99h0.75M225.94 788.98h0.75M227.92 785.52h0.75M230.99 794.24h0.75M232.05 802.01h0.75M231.6 803.11h0.75M227.52 785.88h0.75M231.66 804.33h0.75M232.66 802.08h0.75M227.6 800.5h0.75M237.42 786.14h0.75M238.81 795.8h0.75M235.32 793.25h0.75M234.94 796.67h0.75M237.05 800.78h0.75M237.49 799.88h0.75M230.12 779.7h0.75M228.01 803.73h0.75M229.86 805.61h0.75M232.45 795.86h0.75M228.17 806.56h0.75M231.45 793.36h0.75M226.67 794.84h0.75M227.82 791.17h0.75M231.63 788.07h0.75M231.94 795.08h0.75M228.27 801.71h0.75M241.13 799.6h0.75M231.44 794.89h0.75M230.86 793.7h0.75M230.13 787.92h0.75M228.72 808.85h0.75M236.47 802.61h0.75M230.52 781.78h0.75M236.67 792.69h0.75M236.3 805.06h0.75M233.48 796.03h0.75M236.46 795.76h0.75M233.91 796.01h0.75M228.81 803.96h0.75M232.38 798.34h0.75M234.32 789.66h0.75M237.4 795.34h0.75M234.21 789.62h0.75M230.58 796.02h0.75M233.98 782.87h0.75M229.87 790.56h0.75M233.3 790.29h0.75M228.75 808.27h0.75M237.04 797.85h0.75M235.63 805.26h0.75M238.45 790.89h0.75M229.44 789.06h0.75M235.59 801.58h0.75M236.15 787.63h0.75M225.96 801.2h0.75M224.99 792h0.75M230.43 795.02h0.75M231.4 794.09h0.75M232.94 795.23h0.75M228.07 801.72h0.75M225.75 801.07h0.75M236.87 803.37h0.75M235.43 792.22h0.75M228.46 785.13h0.75M231.47 807.63h0.75M230.39 801.5h0.75M233.69 783.6h0.75M233.69 790.63h0.75M233.12 787.65h0.75M235.56 791.95h0.75M225.99 791.59h0.75M229.79 792.84h0.75M233.02 802.45h0.75M232.86 801.09h0.75M229.06 793.03h0.75M233.14 791.21h0.75M233.72 799.23h0.75M236.6 795.3h0.75M231.23 795.63h0.75M231.1 786.22h0.75M226.25 806.02h0.75M233.76 795.2h0.75M226.88 802.74h0.75M237.61 792.45h0.75M236.5 782.6h0.75M232.32 803.16h0.75M235.04 807.85h0.75M231.67 789.22h0.75M226.31 794.42h0.75M234.21 803.7h0.75M238.44 802.81h0.75M234.45 781.38h0.75M230.83 786.39h0.75M227.67 805.44h0.75M228.73 799.2h0.75M229.43 783.77h0.75M233.7 791.38h0.75M236.48 794.97h0.75M228.04 800.12h0.75M240.32 801.55h0.75M229.99 800.53h0.75M236.32 790.6h0.75M235.22 790.02h0.75M226.51 787.12h0.75M227.17 799.25h0.75M236.65 803.52h0.75M232.16 790.47h0.75M230.18 804.32h0.75M228.27 787.55h0.75M238.28 792.87h0.75M233.17 797.2h0.75M226.35 792.56h0.75M225.19 798.11h0.75M230.78 800.97h0.75M230.75 796.38h0.75M228.85 787.08h0.75M232.22 804.15h0.75M234.32 796.73h0.75M231.7 783.68h0.75M236.67 804.1h0.75M227.42 794.92h0.75M233.84 788.71h0.75" stroke="#5f9da6" stroke-width="0.75" fill="none" opacity="0.8"/>
<path d="M232.32 789.57h0.75M234.59 789.99h0.75M230.06 787.99h0.75M233.84 813.12h0.75M224.05 781.56h0.75M232.33 787.77h0.75M228.25 787.66h0.75M231.17 792.91h0.75M234.69 788.31h0.75M234.82 785.26h0.75M231.18 794.58h0.75M231.7 797.83h0.75M235.51 786.53h0.75M239.56 797.73h0.75M231.07 781.64h0.75M232.47 792.1h0.75M234.95 794.59h0.75M234.93 779.02h0.75M231.15 791.16h0.75M235.37 790.68h0.75M233.71 783.2h0.75M236.54 792.4h0.75M228.85 789.36h0.75M232.18 793.08h0.75M239.01 781.53h0.75M237.07 781.18h0.75M232.65 782.05h0.75M232.76 801.19h0.75M238.3 799.48h0.75M232.54 798.89h0.75M228.28 790.44h0.75M230.73 773.6h0.75M232.03 780.68h0.75M236.63 783.94h0.75M236.64 789.7h0.75M236.24 797.16h0.75M237.2 783.97h0.75M228.93 793.27h0.75M240.34 802.28h0.75M233.2 801.06h0.75M232.92 793.5h0.75M236.81 794.55h0.75M232.6 792.73h0.75M236.64 802.91h0.75M237.74 795.87h0.75M229.93 799.28h0.75M232.06 784.88h0.75M232.66 785.58h0.75M229.04 792.52h0.75M230.12 799.38h0.75M234 781.02h0.75M234.36 795.24h0.75M229.37 798.67h0.75M231.76 789.3h0.75M235.21 773.19h0.75M231.33 797.8h0.75M234.18 804.13h0.75M234.77 792.41h0.75M236.6 790.51h0.75M235.45 769.59h0.75M228.47 801.04h0.75M236.36 796.29h0.75M236.2 776.89h0.75M234.4 780.3h0.75M231.34 784.9h0.75M236.34 784.84h0.75M236 798.31h0.75M234.09 795.32h0.75M236.77 793.79h0.75M235.26 796.19h0.75M227.84 808.25h0.75M234.67 791.16h0.75M234.98 783.75h0.75M232.5 781.69h0.75M232.61 801.16h0.75M228.96 783.01h0.75M234.67 786.2h0.75M241.14 784.18h0.75M236.59 792.12h0.75M234.46 800.91h0.75M239.13 803.57h0.75M235.16 790.87h0.75M235.53 799.27h0.75M232.87 784.35h0.75M230.17 779.5h0.75M234.16 801.33h0.75M234.76 789.97h0.75M229.61 795.8h0.75M241.79 805.45h0.75M232.82 804.23h0.75M233.09 791.86h0.75M233.39 780.36h0.75M238.05 787.98h0.75M233.44 794.03h0.75M234.92 785.1h0.75M230.91 789.51h0.75M230.1 784.56h0.75M235.38 789.31h0.75M235.01 789.47h0.75M234.2 786.25h0.75M237.83 786.72h0.75M234.56 807.51h0.75M237.87 786.03h0.75M230.95 794.14h0.75M233.94 802.91h0.75M231.71 796.93h0.75M232.54 786.82h0.75M237.63 804.69h0.75M235.01 794.74h0.75M231.94 807.59h0.75M230.26 801.99h0.75M231.14 797.46h0.75M233.56 788.86h0.75M232.46 793.99h0.75M231.73 785.89h0.75M237.4 785.27h0.75M233.43 782.14h0.75M229.23 787.6h0.75M239.89 793.53h0.75M235.42 799.3h0.75M229.92 783.83h0.75M232.83 800.72h0.75M233.6 781.6h0.75M232.82 777.99h0.75M233.98 780.27h0.75M230.2 775.85h0.75M230.58 786.62h0.75M235.7 788.16h0.75M232.29 787.29h0.75M233.31 788.43h0.75M229.31 789.63h0.75M234.9 777.6h0.75M226.99 798.75h0.75M232.58 784.45h0.75M228.27 789.37h0.75M236.37 786.38h0.75M233.59 811.56h0.75M235.2 790.7h0.75M229.42 802.47h0.75M236.15 788.99h0.75M235.54 796.81h0.75M238.15 799.82h0.75M233.43 798.56h0.75M232.42 782.8h0.75M232.03 788.02h0.75M236.82 792.64h0.75M234.76 784.97h0.75M235.42 786.95h0.75M228.33 797.33h0.75M233.8 804.19h0.75M238.36 791.8h0.75M228.89 773.01h0.75M233.18 780.18h0.75M237.26 796.32h0.75M229.36 775.03h0.75M237.76 801.39h0.75M236.28 805.16h0.75M234.71 785.62h0.75M233.74 792.21h0.75M231.15 790.83h0.75M224.27 781.79h0.75M232.31 772.01h0.75M233.65 786.14h0.75M240.79 804.31h0.75M235.95 790.09h0.75M226.81 781.86h0.75M231.9 800.35h0.75M226.44 790.16h0.75M236.89 796.91h0.75M229.85 790.46h0.75M234.26 801.12h0.75M231.6 789.58h0.75M232.49 781.76h0.75M231.13 798.07h0.75M231.65 787.1h0.75M230.69 784.59h0.75M235.31 794.4h0.75M234.35 793.4h0.75M233.21 797.53h0.75M230.76 788.75h0.75M229.43 802.73h0.75M235.39 792.52h0.75M234.39 797.9h0.75M235.32 797.16h0.75M233.06 790.94h0.75M236.18 798.12h0.75M234.27 801.77h0.75M230.62 792.11h0.75M229.55 801.62h0.75M235.19 792.21h0.75M231.66 790.7h0.75M224.88 799.06h0.75M235.06 796.72h0.75M230.52 788.49h0.75M231.49 791.18h0.75M230.93 784.02h0.75M238.86 786.08h0.75M233.74 795.42h0.75M237.08 802.83h0.75M231.97 797.4h0.75M235.83 795.04h0.75M226.64 775.83h0.75M230.69 806.98h0.75M236.2 790.57h0.75M233.37 794.09h0.75M233.03 798.29h0.75M230.58 787.79h0.75M232.32 780.49h0.75M229.09 784.52h0.75M229.08 799.17h0.75M236.24 795.95h0.75M229.61 794.64h0.75M233.35 779.6h0.75M236.56 795.64h0.75M235.17 773.14h0.75M230.01 810.2h0.75M230.12 806.43h0.75M234.39 786.7h0.75M230.52 783.93h0.75M231.52 771.09h0.75M237.45 814.09h0.75M233.61 792.26h0.75M231.06 790.38h0.75M231.28 801.6h0.75M230.51 790.49h0.75M237.65 804.37h0.75M230.86 776.08h0.75M238.81 784.3h0.75M231.9 792.03h0.75M235.44 787.44h0.75M231.83 787.98h0.75M229.31 800.57h0.75M231.52 793.26h0.75M230.73 799.24h0.75M239.1 785.87h0.75M233.15 791.42h0.75M237.66 787.07h0.75M236.58 794.35h0.75M235.84 787.31h0.75M230.54 789.1h0.75M235.82 790.7h0.75M235.48 805.58h0.75M228.04 782.32h0.75M231.07 785.82h0.75M234.66 781.87h0.75M230.19 790.59h0.75M232.81 792.62h0.75M232.87 777.73h0.75M231.24 795.91h0.75M233.91 795.36h0.75M229.42 785.71h0.75M227.34 789.31h0.75M229.85 797.44h0.75M231.94 801.86h0.75M239.71 794.18h0.75M234.28 780.92h0.75M231.28 770.35h0.75M230.78 812.29h0.75M234.94 803.15h0.75M232.22 789.2h0.75" stroke="#8fbd60" stroke-width="0.75" fill="none" opacity="0.9"/>
<path d="M233.19 788.86h0.7M233.71 793.71h0.7M230.96 781.67h0.7M232.62 789.95h0.7M230.8 793.94h0.7M234.97 793.22h0.7M230.87 791.7h0.7M231.54 795.22h0.7M233.45 792.42h0.7M234.25 793.58h0.7M236.81 784.72h0.7M233.17 794.61h0.7M234.11 779.13h0.7M234.56 788.74h0.7M231.44 798.58h0.7M232.72 794.26h0.7M233.83 793.52h0.7M234.55 792.39h0.7M234.87 790.91h0.7M231.63 797.23h0.7M233.06 794.26h0.7M230.8 779.6h0.7M233.15 792.05h0.7M235.23 785.27h0.7M231.69 792.03h0.7M234.76 792.13h0.7M233.75 794.57h0.7M236.16 797.39h0.7M232.55 783.81h0.7M230.39 789.53h0.7" stroke="#c6d35a" stroke-width="0.7" fill="none" opacity="1"/>
</g>
<polyline points="193.5,775.2 225.2,762.5 247.8,785.5 239.4,828.2 232.4,836.5 201.6,836.5 191.7,809.2 193.5,775.2" fill="none" stroke="#222" stroke-width="1.1"/>
<text x="218.6" y="800.6" font-size="5.1" text-anchor="middle" font-weight="bold" fill="#111" >live cells</text>
<line x1="198.9" y1="842.8" x2="198.9" y2="846" stroke="#3a3a3a" stroke-width="0.8" />
<text x="198.9" y="851.1" font-size="4.8" font-weight="bold" text-anchor="middle" fill="#222">-10<tspan dy="-2.2" font-size="3.6">4</tspan></text>
<line x1="224.1" y1="842.8" x2="224.1" y2="846" stroke="#3a3a3a" stroke-width="0.8" />
<text x="224.1" y="850.7" font-size="4.8" text-anchor="middle" font-weight="bold" fill="#222" >0</text>
<line x1="251.1" y1="842.8" x2="251.1" y2="846" stroke="#3a3a3a" stroke-width="0.8" />
<text x="251.1" y="851.1" font-size="4.8" font-weight="bold" text-anchor="middle" fill="#222">10<tspan dy="-2.2" font-size="3.6">4</tspan></text>
<line x1="278.2" y1="842.8" x2="278.2" y2="846" stroke="#3a3a3a" stroke-width="0.8" />
<text x="278.2" y="851.1" font-size="4.8" font-weight="bold" text-anchor="middle" fill="#222">10<tspan dy="-2.2" font-size="3.6">5</tspan></text>
<line x1="295.3" y1="842.8" x2="295.3" y2="846" stroke="#3a3a3a" stroke-width="0.8" />
<text x="295.3" y="851.1" font-size="4.8" font-weight="bold" text-anchor="middle" fill="#222">10<tspan dy="-2.2" font-size="3.6">6</tspan></text>
<rect x="218.9" y="843" width="9" height="1.7" fill="#222"/>
<line x1="235.72" y1="842.8" x2="235.72" y2="844.5" stroke="#3a3a3a" stroke-width="0.45" />
<line x1="239.6" y1="842.8" x2="239.6" y2="844.5" stroke="#3a3a3a" stroke-width="0.45" />
<line x1="242.35" y1="842.8" x2="242.35" y2="844.5" stroke="#3a3a3a" stroke-width="0.45" />
<line x1="244.48" y1="842.8" x2="244.48" y2="844.5" stroke="#3a3a3a" stroke-width="0.45" />
<line x1="246.22" y1="842.8" x2="246.22" y2="844.5" stroke="#3a3a3a" stroke-width="0.45" />
<line x1="247.69" y1="842.8" x2="247.69" y2="844.5" stroke="#3a3a3a" stroke-width="0.45" />
<line x1="248.97" y1="842.8" x2="248.97" y2="844.5" stroke="#3a3a3a" stroke-width="0.45" />
<line x1="250.09" y1="842.8" x2="250.09" y2="844.5" stroke="#3a3a3a" stroke-width="0.45" />
<line x1="259.26" y1="842.8" x2="259.26" y2="844.5" stroke="#3a3a3a" stroke-width="0.45" />
<line x1="264.03" y1="842.8" x2="264.03" y2="844.5" stroke="#3a3a3a" stroke-width="0.45" />
<line x1="267.42" y1="842.8" x2="267.42" y2="844.5" stroke="#3a3a3a" stroke-width="0.45" />
<line x1="270.04" y1="842.8" x2="270.04" y2="844.5" stroke="#3a3a3a" stroke-width="0.45" />
<line x1="272.19" y1="842.8" x2="272.19" y2="844.5" stroke="#3a3a3a" stroke-width="0.45" />
<line x1="274" y1="842.8" x2="274" y2="844.5" stroke="#3a3a3a" stroke-width="0.45" />
<line x1="275.57" y1="842.8" x2="275.57" y2="844.5" stroke="#3a3a3a" stroke-width="0.45" />
<line x1="276.96" y1="842.8" x2="276.96" y2="844.5" stroke="#3a3a3a" stroke-width="0.45" />
<line x1="283.35" y1="842.8" x2="283.35" y2="844.5" stroke="#3a3a3a" stroke-width="0.45" />
<line x1="286.36" y1="842.8" x2="286.36" y2="844.5" stroke="#3a3a3a" stroke-width="0.45" />
<line x1="288.5" y1="842.8" x2="288.5" y2="844.5" stroke="#3a3a3a" stroke-width="0.45" />
<line x1="290.15" y1="842.8" x2="290.15" y2="844.5" stroke="#3a3a3a" stroke-width="0.45" />
<line x1="291.51" y1="842.8" x2="291.51" y2="844.5" stroke="#3a3a3a" stroke-width="0.45" />
<line x1="292.65" y1="842.8" x2="292.65" y2="844.5" stroke="#3a3a3a" stroke-width="0.45" />
<line x1="293.64" y1="842.8" x2="293.64" y2="844.5" stroke="#3a3a3a" stroke-width="0.45" />
<line x1="294.52" y1="842.8" x2="294.52" y2="844.5" stroke="#3a3a3a" stroke-width="0.45" />
<line x1="213.02" y1="842.8" x2="213.02" y2="844.5" stroke="#3a3a3a" stroke-width="0.45" />
<line x1="209.46" y1="842.8" x2="209.46" y2="844.5" stroke="#3a3a3a" stroke-width="0.45" />
<line x1="206.94" y1="842.8" x2="206.94" y2="844.5" stroke="#3a3a3a" stroke-width="0.45" />
<line x1="204.98" y1="842.8" x2="204.98" y2="844.5" stroke="#3a3a3a" stroke-width="0.45" />
<line x1="203.38" y1="842.8" x2="203.38" y2="844.5" stroke="#3a3a3a" stroke-width="0.45" />
<line x1="202.03" y1="842.8" x2="202.03" y2="844.5" stroke="#3a3a3a" stroke-width="0.45" />
<line x1="200.86" y1="842.8" x2="200.86" y2="844.5" stroke="#3a3a3a" stroke-width="0.45" />
<line x1="199.82" y1="842.8" x2="199.82" y2="844.5" stroke="#3a3a3a" stroke-width="0.45" />
<line x1="195.25" y1="842.8" x2="195.25" y2="844.5" stroke="#3a3a3a" stroke-width="0.45" />
<line x1="193.12" y1="842.8" x2="193.12" y2="844.5" stroke="#3a3a3a" stroke-width="0.45" />
<text x="242.1" y="864.7" font-size="9.8" text-anchor="middle" font-weight="normal" fill="#333" >Live-Dead Aqua-A</text>
<rect x="324" y="733" width="110" height="111" fill="#fff" stroke="#3a3a3a" stroke-width="1.1"/>
<line x1="320.6" y1="737.8" x2="324" y2="737.8" stroke="#3a3a3a" stroke-width="0.8" />
<text x="319.4" y="739.5" font-size="4.8" text-anchor="end" font-weight="bold" fill="#222" >1.0M</text>
<line x1="320.6" y1="758.9" x2="324" y2="758.9" stroke="#3a3a3a" stroke-width="0.8" />
<text x="319.4" y="760.6" font-size="4.8" text-anchor="end" font-weight="bold" fill="#222" >800K</text>
<line x1="320.6" y1="780.3" x2="324" y2="780.3" stroke="#3a3a3a" stroke-width="0.8" />
<text x="319.4" y="782" font-size="4.8" text-anchor="end" font-weight="bold" fill="#222" >600K</text>
<line x1="320.6" y1="801.9" x2="324" y2="801.9" stroke="#3a3a3a" stroke-width="0.8" />
<text x="319.4" y="803.6" font-size="4.8" text-anchor="end" font-weight="bold" fill="#222" >400K</text>
<line x1="320.6" y1="823" x2="324" y2="823" stroke="#3a3a3a" stroke-width="0.8" />
<text x="319.4" y="824.7" font-size="4.8" text-anchor="end" font-weight="bold" fill="#222" >200K</text>
<line x1="320.6" y1="842.3" x2="324" y2="842.3" stroke="#3a3a3a" stroke-width="0.8" />
<text x="319.4" y="844" font-size="4.8" text-anchor="end" font-weight="bold" fill="#222" >0</text>
<line x1="322.4" y1="733.58" x2="324" y2="733.58" stroke="#3a3a3a" stroke-width="0.5" />
<line x1="322.4" y1="737.8" x2="324" y2="737.8" stroke="#3a3a3a" stroke-width="0.5" />
<line x1="322.4" y1="742.02" x2="324" y2="742.02" stroke="#3a3a3a" stroke-width="0.5" />
<line x1="322.4" y1="746.24" x2="324" y2="746.24" stroke="#3a3a3a" stroke-width="0.5" />
<line x1="322.4" y1="750.46" x2="324" y2="750.46" stroke="#3a3a3a" stroke-width="0.5" />
<line x1="322.4" y1="754.68" x2="324" y2="754.68" stroke="#3a3a3a" stroke-width="0.5" />
<line x1="322.4" y1="758.9" x2="324" y2="758.9" stroke="#3a3a3a" stroke-width="0.5" />
<line x1="322.4" y1="763.12" x2="324" y2="763.12" stroke="#3a3a3a" stroke-width="0.5" />
<line x1="322.4" y1="767.34" x2="324" y2="767.34" stroke="#3a3a3a" stroke-width="0.5" />
<line x1="322.4" y1="771.56" x2="324" y2="771.56" stroke="#3a3a3a" stroke-width="0.5" />
<line x1="322.4" y1="775.78" x2="324" y2="775.78" stroke="#3a3a3a" stroke-width="0.5" />
<line x1="322.4" y1="780" x2="324" y2="780" stroke="#3a3a3a" stroke-width="0.5" />
<line x1="322.4" y1="784.22" x2="324" y2="784.22" stroke="#3a3a3a" stroke-width="0.5" />
<line x1="322.4" y1="788.44" x2="324" y2="788.44" stroke="#3a3a3a" stroke-width="0.5" />
<line x1="322.4" y1="792.66" x2="324" y2="792.66" stroke="#3a3a3a" stroke-width="0.5" />
<line x1="322.4" y1="796.88" x2="324" y2="796.88" stroke="#3a3a3a" stroke-width="0.5" />
<line x1="322.4" y1="801.1" x2="324" y2="801.1" stroke="#3a3a3a" stroke-width="0.5" />
<line x1="322.4" y1="805.32" x2="324" y2="805.32" stroke="#3a3a3a" stroke-width="0.5" />
<line x1="322.4" y1="809.54" x2="324" y2="809.54" stroke="#3a3a3a" stroke-width="0.5" />
<line x1="322.4" y1="813.76" x2="324" y2="813.76" stroke="#3a3a3a" stroke-width="0.5" />
<line x1="322.4" y1="817.98" x2="324" y2="817.98" stroke="#3a3a3a" stroke-width="0.5" />
<line x1="322.4" y1="822.2" x2="324" y2="822.2" stroke="#3a3a3a" stroke-width="0.5" />
<line x1="322.4" y1="826.42" x2="324" y2="826.42" stroke="#3a3a3a" stroke-width="0.5" />
<line x1="322.4" y1="830.64" x2="324" y2="830.64" stroke="#3a3a3a" stroke-width="0.5" />
<line x1="322.4" y1="834.86" x2="324" y2="834.86" stroke="#3a3a3a" stroke-width="0.5" />
<line x1="322.4" y1="839.08" x2="324" y2="839.08" stroke="#3a3a3a" stroke-width="0.5" />
<clipPath id="c3"><rect x="324.5" y="733.5" width="109.1" height="110"/></clipPath>
<g clip-path="url(#c3)">
<path d="M369.81 792.87h0.75M378.78 756.15h0.75M392.33 803.91h0.75M370.54 770.57h0.75M397.91 798.84h0.75M377.75 776.76h0.75M372.56 815.96h0.75M371.99 791.09h0.75M375.93 789.24h0.75M366.13 810.22h0.75M381.74 805.14h0.75M368.89 788.03h0.75M404.47 794.95h0.75M375.49 769.76h0.75M372.8 800.07h0.75M375.2 781.6h0.75M393.92 819.72h0.75M379.45 834.96h0.75M376.13 785.51h0.75M361.65 774.47h0.75M371.75 829.51h0.75M367.15 789.51h0.75M382.5 800.25h0.75M353.7 785.74h0.75M366.35 788.66h0.75M357.3 782.51h0.75M377.21 773.67h0.75M382.31 798.67h0.75M390.15 775.05h0.75M364.77 790.45h0.75M381.22 783.11h0.75M360.76 789.5h0.75M393.57 779.38h0.75M387.01 773.47h0.75M388.56 771.76h0.75M392.97 792.84h0.75M393.8 787.49h0.75M364 774.76h0.75M368.5 794.81h0.75M372.78 800.1h0.75M379 784.49h0.75M374.16 787.14h0.75M386.29 813.79h0.75M374.68 792.26h0.75M392.8 815.88h0.75M369.99 772.11h0.75M373.64 810.96h0.75M375.18 806.69h0.75M378.59 801.55h0.75M385.74 791.29h0.75M372.8 792.52h0.75M408.95 780.49h0.75M389.91 789.92h0.75M364.55 788.64h0.75M391.04 774.3h0.75M367.22 802.47h0.75M364.12 808.84h0.75M394.02 783.58h0.75M382.54 811.21h0.75M391.47 762.26h0.75M362.93 791.64h0.75M394.07 819.04h0.75M385.28 791.39h0.75M370.23 802.45h0.75M380.86 823.62h0.75M403.69 808.3h0.75M371.06 790.18h0.75M393.84 798.89h0.75M387.19 784.33h0.75M353.1 800.52h0.75M402.74 789.26h0.75M383.39 764.17h0.75M398.12 833.06h0.75M397.47 778.87h0.75M382.36 795.55h0.75M385.1 784.21h0.75M386.44 796.24h0.75M366.87 775.31h0.75M400.85 799.56h0.75M386.31 826h0.75M373.11 811.33h0.75M394.56 783.43h0.75M378.88 797.98h0.75M362.25 763.75h0.75M373.52 812.66h0.75M377.93 817.52h0.75M360.38 785.21h0.75M385.03 811.27h0.75M390.17 811.14h0.75M389.34 796.79h0.75M399.63 808.43h0.75M373.23 805.86h0.75M388.38 797.14h0.75M388.12 789.87h0.75M376.27 767.23h0.75M375.99 814.47h0.75M350.09 782.86h0.75M388.31 804.28h0.75M362.12 789.92h0.75M383.81 810.4h0.75M382.06 782.97h0.75M387.76 795.86h0.75M367.54 791.65h0.75M384.28 792.32h0.75M375.62 791.95h0.75M381.92 804.39h0.75M367.64 783.48h0.75M388.38 787.21h0.75M369.9 771.7h0.75M363.8 775.54h0.75M380.03 802.9h0.75M382.63 795.7h0.75M388.13 792.82h0.75M365.33 792.45h0.75M382.67 826.08h0.75M381 826.23h0.75M379.05 771.57h0.75M377.62 788.58h0.75M379.62 787.69h0.75M408.81 801.66h0.75M378.86 792.3h0.75M380.45 809.89h0.75M380.8 807.78h0.75M369.32 795.24h0.75M379.67 795.87h0.75M366.53 781.27h0.75M362.23 797.32h0.75M395.91 794.61h0.75M364.09 785.35h0.75M393.76 769.36h0.75M376.82 794.23h0.75M375.11 796.41h0.75M386 799.46h0.75M391.45 810.77h0.75M361.89 773.95h0.75M378.09 794.16h0.75M383.12 775.55h0.75M365.7 818.5h0.75M382.56 798.81h0.75M401.5 766.43h0.75M383.52 789.84h0.75M379.41 814.55h0.75M379.56 770.52h0.75M366.89 770.85h0.75M394.42 785.38h0.75M367.04 788.2h0.75M364.35 797.76h0.75M382.05 796.66h0.75M394.34 788.78h0.75M391.6 768.5h0.75M391.95 822.83h0.75M370.85 804.07h0.75M368.72 793.23h0.75M386.95 785.63h0.75M367.69 789.75h0.75M379.92 799.06h0.75M381.62 766.38h0.75M393.77 802.27h0.75M362.93 788.37h0.75M393.27 827.56h0.75M379.04 784.42h0.75M395.66 794.24h0.75M380.45 768.38h0.75M368.29 797.75h0.75M403 802.02h0.75M378.78 787.15h0.75M366.91 772.85h0.75M389.81 823.19h0.75M376.91 779.29h0.75M361.91 783.63h0.75M393.19 769.18h0.75M377.21 811.71h0.75M399.69 784.84h0.75M383.88 801.13h0.75M382.75 792.21h0.75M383.11 796.35h0.75M378.62 789.85h0.75M376.44 828.31h0.75M380.82 810.23h0.75M370 814.66h0.75M393.52 797.19h0.75M410.32 809.87h0.75M403.17 782.54h0.75M354.03 801.31h0.75M381.44 783.32h0.75M368.41 800.05h0.75M391.02 811.94h0.75M380.43 786.58h0.75M364.31 775.89h0.75M397.13 774.8h0.75M379.54 785.48h0.75M372.5 772.1h0.75M375.92 800.01h0.75M377.43 797.75h0.75M372.58 775.99h0.75M390.43 792.55h0.75M377.7 800.99h0.75M392.48 785.99h0.75M381.58 789.71h0.75M396.98 774.49h0.75M372.01 790.86h0.75M351.52 765.53h0.75M386.52 811.18h0.75M400.54 791.07h0.75M387.2 794.7h0.75M371.52 795.61h0.75M380.13 813.03h0.75M377.71 770.71h0.75M383.81 784.18h0.75M382.23 799.43h0.75M359.46 763.92h0.75M384.9 806.45h0.75M373.56 791.34h0.75M386.51 784.69h0.75M379.67 785h0.75M392.96 794.32h0.75M369.06 795.19h0.75M371.92 786.95h0.75M365.69 787.55h0.75M390.18 805.16h0.75M387.83 780.62h0.75M380.41 792.36h0.75M377.76 788.07h0.75M362.7 819.76h0.75M371.72 793.98h0.75M382.93 776.21h0.75M373.32 797.69h0.75M380.3 801.13h0.75M368.54 790.07h0.75M369.28 791.77h0.75M372.79 783.98h0.75M387.72 811.17h0.75M379.84 796.68h0.75M369.26 783.85h0.75M375.51 798.57h0.75M401.31 766.93h0.75M394.52 816.45h0.75M387.74 788.81h0.75M389.68 771.69h0.75M364.55 793.37h0.75M373.52 803.44h0.75M370 763h0.75M378.78 801.77h0.75M362.96 791.88h0.75M381.86 799.68h0.75M390.36 798.58h0.75M372.5 771.53h0.75M388.2 789.87h0.75M391.76 813.34h0.75M373.36 783.47h0.75M395.95 798.29h0.75M367.35 788.51h0.75M375.96 811.57h0.75M365.51 780.84h0.75M390.51 807.56h0.75M383.43 785.49h0.75M369.57 751.53h0.75M388.89 798.53h0.75M381.53 773.2h0.75M359.35 783.82h0.75M375.53 811.11h0.75M408.76 775.62h0.75M371.54 804.7h0.75M392.43 807.04h0.75M379.06 784.99h0.75M375.44 771.1h0.75M372.46 779.82h0.75M394.42 816.82h0.75M384.12 769.28h0.75M378.63 784.63h0.75M395.23 779.59h0.75M385.61 792.77h0.75M390.83 785.43h0.75M400.4 800.87h0.75M378.72 789.4h0.75M375.13 809.26h0.75M390.49 790.51h0.75M414.42 804.93h0.75M392.09 819.37h0.75M394.18 802.01h0.75M369.13 777.36h0.75M390.28 792.94h0.75M377.42 812.16h0.75M389.44 816.78h0.75M377.31 777.38h0.75M379.5 806.73h0.75M367.97 790.85h0.75M388.16 797.53h0.75M386.39 755.33h0.75M387.1 809.2h0.75M369.89 796.74h0.75M380.6 792.72h0.75M420.52 793.52h0.75M365.82 778.94h0.75M372.66 792.92h0.75M385.66 786.14h0.75M409.81 804.36h0.75M381.2 787.51h0.75M383.51 779.95h0.75M378.54 784.45h0.75M390.22 782.13h0.75M367.05 784.63h0.75M394.01 800.94h0.75M375.79 790.82h0.75M371.23 779.01h0.75M384.48 782.95h0.75M370.43 786.22h0.75M381.41 801.63h0.75M374.95 795.49h0.75M385.79 820.82h0.75M382.42 758.81h0.75M384.52 777.28h0.75M385.19 795.85h0.75M368.17 754.79h0.75M386.95 781.12h0.75M393.36 772.53h0.75M365.21 767.73h0.75M383.79 816.27h0.75M383.12 774.31h0.75M387.68 771.23h0.75M381.39 816.46h0.75M379.9 770.17h0.75M380.68 798.44h0.75M362.11 797.84h0.75M381.55 757.27h0.75M386.85 777.09h0.75M375.06 810.1h0.75M388.43 785.06h0.75M389.51 825.62h0.75M399.23 786.94h0.75" stroke="#a9bee6" stroke-width="0.75" fill="none" opacity="0.9"/>
<path d="M397.78 786.37h0.75M380.13 779.42h0.75M375.3 782.96h0.75M386.04 806.38h0.75M385.03 779.29h0.75M389.35 789.58h0.75M393.81 778.28h0.75M391.33 778.74h0.75M384.06 798.3h0.75M383.52 793.74h0.75M384.18 798.24h0.75M388.84 793.57h0.75M396.85 777.43h0.75M391.47 790.95h0.75M380.65 788.35h0.75M388.91 777.72h0.75M383.97 801.45h0.75M384.88 775.41h0.75M401.3 805.67h0.75M384.01 793.03h0.75M385.07 792.85h0.75M391.19 810.76h0.75M392.52 808.89h0.75M388.27 781.97h0.75M388.88 786.93h0.75M371.36 802.66h0.75M382.71 807.1h0.75M378.59 784.7h0.75M397.12 781.77h0.75M387.52 804h0.75M380.94 798.57h0.75M388.37 781.47h0.75M387.18 794.65h0.75M397.95 812.54h0.75M388.85 784.13h0.75M389.12 791.78h0.75M380.57 775.83h0.75M382.28 788.14h0.75M386.45 796.3h0.75M385.3 788.2h0.75M394.12 776.68h0.75M376.24 802.86h0.75M393 780.93h0.75M394.48 792.18h0.75M382.86 805.4h0.75M377.49 781.32h0.75M387.61 796.55h0.75M387.56 798.38h0.75M380.5 786.6h0.75M395.45 785.97h0.75M383.57 783.14h0.75M386.92 786.61h0.75M372.95 771.39h0.75M396.16 801.97h0.75M386.32 798.03h0.75M382.63 795.2h0.75M392.98 784.4h0.75M385.44 791.99h0.75M393.56 784.24h0.75M391.28 788.64h0.75M383.35 800.19h0.75M395.78 776.87h0.75M388.09 785.71h0.75M379.87 790.04h0.75M386.62 782.98h0.75M378.95 796.57h0.75M393.56 789.59h0.75M374.4 795.52h0.75M396.93 788.25h0.75M377.12 776.65h0.75M386.36 784.98h0.75M385.06 788.74h0.75M391.18 804.41h0.75M389.64 786.82h0.75M383.73 773.4h0.75M395.59 785.51h0.75M386.17 775.32h0.75M389.39 788.18h0.75M382.18 793.55h0.75M401.06 786.29h0.75M385.76 794.82h0.75M382.82 785.99h0.75M396.14 786.45h0.75M388.01 779.98h0.75M379.32 786.05h0.75M386.22 777.14h0.75M383.75 792.42h0.75M388.18 805.67h0.75M382.41 777.32h0.75M389.5 785.24h0.75M390.59 781.6h0.75M375.88 807.11h0.75M384.14 795.03h0.75M396.38 784.41h0.75M378.47 791.48h0.75M390.94 794.07h0.75M376.73 785.97h0.75M400.09 776.63h0.75M394.72 774.25h0.75M383.17 776.61h0.75M393.61 798.68h0.75M390.27 780.64h0.75M389.93 793.61h0.75M396.49 776.51h0.75M386.14 795.01h0.75M385.99 778.94h0.75M384.62 810.12h0.75M392.09 800.19h0.75M389.72 787.9h0.75M384.93 786.67h0.75M385.2 786.36h0.75M379.5 784.61h0.75M387.6 779.07h0.75M395.62 804.73h0.75M381.53 777.33h0.75M373.25 789.07h0.75M382.71 787.18h0.75M377.58 791.58h0.75M380.7 790.92h0.75M385.06 796.39h0.75M383.35 795.95h0.75M384.24 776.49h0.75M392.64 789.41h0.75M396.51 789.03h0.75M385.99 808.41h0.75M381.85 777h0.75M388.97 776.04h0.75M386.16 771.6h0.75M395.18 795.43h0.75M389.57 782.57h0.75M378.29 802.74h0.75M390.99 785.84h0.75M380.06 789.16h0.75M383.45 785.74h0.75M378.28 802.19h0.75M387.88 808.75h0.75M389.37 788.19h0.75M391.01 784.86h0.75M391.88 796.87h0.75M395.06 788.9h0.75M385.88 802.07h0.75M386.05 783.09h0.75M393.24 784.9h0.75M392.32 800.53h0.75M382.06 788.73h0.75M387.8 787.73h0.75M385.27 802.38h0.75M387.77 790.8h0.75M387.24 783.4h0.75M389.17 798.25h0.75M380.83 793.96h0.75M396.03 797.09h0.75M395.52 790.15h0.75M383.84 784.05h0.75M386.27 811.66h0.75M386.36 781.05h0.75M394.97 799.75h0.75M389.66 793.46h0.75M384.39 776.75h0.75M386.18 784.75h0.75M378.07 813.75h0.75M385.18 780.05h0.75M385.85 793.02h0.75M387.52 802.82h0.75M386.21 804.53h0.75M386.72 789.85h0.75M388.41 789.64h0.75M381.82 772.28h0.75M377.24 783.29h0.75M383.69 787.06h0.75" stroke="#7795d2" stroke-width="0.75" fill="none" opacity="0.8"/>
<path d="M408.55 806.03h0.75M405.92 813.61h0.75M410.59 776.41h0.75M417.04 816.8h0.75M411.97 826.23h0.75M400.33 793.15h0.75M406.3 798.94h0.75M409.4 792.67h0.75M416.25 807.03h0.75M422.14 781.75h0.75M420.24 801.23h0.75M399.36 803.11h0.75M419.9 783.74h0.75M400.92 804.31h0.75M417.86 794.07h0.75M410.32 830.31h0.75M399.53 806h0.75M416.01 789.02h0.75M423.82 820.17h0.75M409.37 796.92h0.75M415.08 800.01h0.75M422.71 813.46h0.75M412.31 826.96h0.75M425.66 814.68h0.75M423.79 805.86h0.75M410.72 810.65h0.75M419.39 790.13h0.75M412.66 824.59h0.75M421.76 780.21h0.75M414.93 792.06h0.75M408.19 787.37h0.75M424.55 784.39h0.75M410.36 783.8h0.75M418.22 814.34h0.75M418.4 774.79h0.75M418.76 791.18h0.75M420.81 794.16h0.75M418.93 793.43h0.75M405.14 798.44h0.75M405.28 813.45h0.75M429.27 797.12h0.75M417.76 785.51h0.75M408.42 788.02h0.75M414.91 783.88h0.75M418.82 813.76h0.75M408.7 798.99h0.75M415.98 794.29h0.75M423.53 777.17h0.75M420.12 791.31h0.75M416.89 818.22h0.75M418.25 789.04h0.75M403.48 804.51h0.75M412.29 794.39h0.75M414.1 786.97h0.75M403.22 815.73h0.75M411.39 822.44h0.75M427.16 788.36h0.75M414.07 803.83h0.75M410.95 784.97h0.75M420.08 791.1h0.75M421.85 791.82h0.75M414.38 780.58h0.75M423.4 810.36h0.75M412.67 798.75h0.75M412.39 790.45h0.75M410.9 817.84h0.75M410.09 797.8h0.75M409.71 821.87h0.75M408.65 824.35h0.75M412 796.04h0.75M420.14 816.63h0.75M428.58 793.16h0.75M421.03 809.17h0.75M424.85 786.32h0.75M422.56 784.51h0.75M403.98 792.09h0.75M408.03 805.32h0.75M415.05 819.42h0.75M407.15 821.01h0.75M416.57 791.34h0.75M420.6 794.64h0.75M413.17 791.57h0.75M411.29 802.46h0.75M415.96 801.65h0.75M416.53 791.26h0.75M411.6 781.25h0.75M421.94 796.5h0.75M412.04 777.17h0.75M409.86 803.78h0.75M409.42 814.15h0.75M420.28 806.14h0.75M426.03 796.27h0.75M421.19 791.53h0.75M421.87 775.26h0.75M425.41 811.9h0.75M403.24 787.99h0.75M414.57 773.6h0.75M407.21 819.07h0.75M418.47 801.86h0.75M427.33 796.52h0.75M420.04 776.86h0.75M414.32 776.05h0.75M427.5 802.51h0.75M425.6 801.39h0.75M409.69 797.4h0.75M423.74 808.82h0.75M403.89 794.69h0.75M405.59 807.88h0.75M410.64 793.33h0.75M421.54 775.37h0.75M411.87 811.7h0.75M413.34 809.5h0.75M407.65 774.39h0.75M407.15 797.47h0.75M419.6 808.83h0.75M418.36 816.88h0.75M418.74 796.96h0.75M407.88 795.13h0.75M409.18 800.34h0.75M409.1 796.31h0.75M407.35 793.51h0.75M419.1 810.54h0.75M416.34 772.94h0.75M408.92 781.84h0.75M427.71 788.23h0.75M416.1 793.56h0.75M413.63 822.25h0.75M413.15 811.79h0.75M414.91 817.11h0.75M404.25 811.99h0.75M415.04 798.79h0.75M414.64 802.51h0.75M415.51 798.36h0.75M428.47 799.79h0.75M413.9 777.62h0.75M417.61 797.73h0.75M428.55 804.74h0.75M410.09 823.24h0.75M421.75 805.86h0.75M416.18 798.22h0.75M414.16 791.69h0.75M424.07 821.86h0.75M422.41 785.47h0.75M406.62 790.56h0.75M427.19 787.63h0.75M412.93 774.21h0.75M422.49 802.59h0.75M419.01 798.44h0.75M404.19 811.45h0.75M403.25 788.77h0.75M414.48 808.93h0.75M408.02 800.34h0.75M424.13 814.73h0.75M414.2 795.13h0.75M417.85 777.42h0.75M409.34 799.78h0.75M411.81 798.29h0.75M416.17 798.85h0.75M419.59 796.28h0.75M406.01 800.1h0.75M409 790.94h0.75M414.97 791.87h0.75M413.94 771.8h0.75M414.83 784.43h0.75M414.47 798.17h0.75M423.33 797.57h0.75M412.29 783.92h0.75M416.76 811.09h0.75M414.87 814.3h0.75M422.87 812.7h0.75M420.92 785.44h0.75M427.25 780.36h0.75M406.72 779.04h0.75M417.82 816.84h0.75M420.87 809.09h0.75M419.9 778.05h0.75M424 791.05h0.75M415.66 772.7h0.75M415.32 788.14h0.75M427.79 793.51h0.75M419.62 795.57h0.75M415.58 810.9h0.75M416.02 800.51h0.75M411.9 803.75h0.75M417.47 794.33h0.75M418.7 788.83h0.75M405.47 792.46h0.75M415.48 784.72h0.75M412.85 806.01h0.75M419.69 809.18h0.75M424.06 800.53h0.75M427.6 789.94h0.75M406.67 821.28h0.75M404.64 789.15h0.75M404.6 800.98h0.75M416.4 781.72h0.75M423.76 776.1h0.75M418.01 801.82h0.75M409.67 807.83h0.75M409.38 787.21h0.75M422.14 815.63h0.75M404.19 814.31h0.75M424.88 799.09h0.75M420.38 777.92h0.75M407.48 799.91h0.75M414.51 805.26h0.75M417 776.35h0.75M416.96 796.47h0.75M415.41 808.78h0.75M408.85 784h0.75M423.1 791.01h0.75M429.61 790.56h0.75M420.11 802.14h0.75M420.26 780.66h0.75M417.56 775.05h0.75M419.94 811.76h0.75M427.97 804.58h0.75M425.87 770.74h0.75M411.96 781.76h0.75M406.56 819.19h0.75M416.38 821.88h0.75M410.01 824.33h0.75M407.68 780.61h0.75M411.97 778.21h0.75M405.13 811.79h0.75M418.65 793.46h0.75M430.97 792.31h0.75M408.4 804.83h0.75M420.54 777.37h0.75M419.5 815.84h0.75M423.78 786.28h0.75M417.29 816.11h0.75M415.89 809.19h0.75M421.65 797.99h0.75M408.37 809.8h0.75M416.99 805.77h0.75M420.4 770.32h0.75M410.25 809.33h0.75M408.11 812.38h0.75M416.56 817.42h0.75M410.95 787.85h0.75M428.08 806.42h0.75M420.66 801.45h0.75M412.52 792.81h0.75M408.68 788.07h0.75M413.43 788.14h0.75M403.15 782.31h0.75M403.73 794.3h0.75M411.19 816.87h0.75M413.87 799.41h0.75M420.18 793.14h0.75M406.71 794.08h0.75M407.97 795.65h0.75M413.55 801.55h0.75M417.38 779.19h0.75M406.33 813h0.75M413.5 777.14h0.75M417.36 819.29h0.75M415.85 795.24h0.75M408.31 793.07h0.75M423.66 784.74h0.75M416.62 787.79h0.75M416.52 805.45h0.75M407.63 814.2h0.75M406.6 800.2h0.75M409.69 805.22h0.75M416.03 788.91h0.75M428.42 806.85h0.75M416.08 803.85h0.75M403.3 801.35h0.75M413.47 798.36h0.75M410.24 802.05h0.75M406.31 802.52h0.75M421.43 808.72h0.75M411.44 799.78h0.75M425.09 794.28h0.75M416.03 817.7h0.75M413.78 817.03h0.75M413.34 809.54h0.75M415.67 794.34h0.75M421.53 799.06h0.75M423.04 817.12h0.75M423.44 798.63h0.75M419.73 815.75h0.75M425.23 803.63h0.75M423.7 817.3h0.75M418.37 779.54h0.75M409.13 793.02h0.75M416.47 800.1h0.75M406.09 826h0.75M423.14 780.96h0.75M417.66 810.36h0.75M410.82 820.04h0.75M406.18 806.21h0.75M417.34 788.18h0.75M414.93 797.34h0.75M411.65 789.68h0.75M416.94 805.73h0.75M415.49 777.53h0.75M413.02 803.6h0.75M417.38 794.13h0.75M408.38 811.69h0.75M404.86 820.3h0.75M429.51 793.83h0.75M415.03 772.79h0.75M411.54 799.46h0.75M418.81 787.81h0.75M419.13 793.04h0.75M403.7 802.32h0.75M414.79 782.34h0.75M412.6 801.76h0.75M416.7 788.16h0.75M416.39 783.56h0.75M403.33 802.78h0.75M418.18 810.98h0.75M420.41 789.44h0.75M423.53 779.61h0.75M420.55 800.79h0.75M419.19 790.85h0.75M408.41 822.56h0.75M409.11 800.82h0.75M422.97 806.93h0.75M424.5 774.04h0.75M414.72 795h0.75M416.68 797.39h0.75M418.66 798.09h0.75M431.45 804.13h0.75M415.01 775.58h0.75M420.75 778.66h0.75M409.71 788.31h0.75M423.07 806.6h0.75M417.07 796.4h0.75M404.36 785.58h0.75M418.53 805.02h0.75M426.09 797.42h0.75M410.27 817.45h0.75M408.14 771.56h0.75M421.6 800.96h0.75M403.08 792.34h0.75M417.93 808.81h0.75M412.47 800.44h0.75M419.2 795.82h0.75M403.1 817.41h0.75M411.52 814.07h0.75M410.19 793.08h0.75M414.39 800.32h0.75M413.45 792.92h0.75M405.93 791.6h0.75M406.05 791.86h0.75M418.29 803.43h0.75M412.71 786.23h0.75M414.91 790.91h0.75M421.9 809.71h0.75M411.91 802.06h0.75M410.81 791.49h0.75M418.09 816.77h0.75M413.06 820.29h0.75M416.98 788.3h0.75M405.44 795.75h0.75M413.54 782.63h0.75M422.75 800.53h0.75M406.51 780.36h0.75M418.42 814.4h0.75M426.48 797.78h0.75M426.64 789.94h0.75M414.42 795.29h0.75M407.86 796.25h0.75M419.63 802.86h0.75M414.13 824h0.75M427.2 784.48h0.75M411.52 793.69h0.75M423.02 802.4h0.75M415.04 783.85h0.75M423.33 790.31h0.75M418.47 811.09h0.75M420.4 793.41h0.75M419.68 815.11h0.75M403.66 807.12h0.75M416.73 790.71h0.75M415.57 782.86h0.75M408.18 801.36h0.75M404.67 800.03h0.75M411.26 810.98h0.75M410.2 822.51h0.75M416.99 801.97h0.75M422.25 805.6h0.75M421.08 775.57h0.75M419.69 781.75h0.75M407.4 795.9h0.75M415.28 828.1h0.75M413.58 787.68h0.75M423.37 803.49h0.75M425.52 811.07h0.75M420.78 786.11h0.75M415.48 811.95h0.75M425 796.9h0.75M411.42 814.2h0.75M426.07 793.58h0.75M409.01 823.53h0.75M419.66 803.53h0.75M414.87 819.37h0.75M415.76 820.59h0.75M411.16 824.64h0.75M410.16 799.01h0.75M406.6 793.71h0.75M409.51 786.97h0.75M420.4 777.88h0.75M412.6 805.47h0.75M408.98 786.98h0.75M421.76 818.52h0.75M423.63 794.05h0.75M419.02 790.42h0.75M412.07 802.34h0.75M413.6 804.6h0.75M411.78 820.31h0.75M419.19 784.91h0.75M416.63 775.15h0.75M420.69 772.29h0.75M414.82 777.54h0.75M418.86 790.51h0.75M424.53 798.37h0.75M406.56 813.27h0.75M411.57 822.02h0.75M425.4 812.29h0.75M420.86 788.78h0.75M429.32 798.35h0.75M403.9 801.07h0.75M421.32 803.24h0.75M423.71 806.96h0.75M416.99 765.05h0.75M424.19 773.69h0.75M422.97 786.65h0.75M417.2 793.41h0.75M400.86 814.05h0.75M414.44 800.02h0.75M427.94 783.3h0.75M410.63 825.91h0.75M402.85 783.14h0.75M416.21 805.33h0.75M415.41 780.26h0.75M422.52 800.68h0.75M418.35 806.78h0.75M420.54 790.74h0.75M405.82 813.56h0.75M413.14 800.74h0.75M404.18 793.28h0.75M414.48 798.98h0.75M406.38 800.71h0.75M420.05 820.76h0.75M408.98 781.01h0.75M415.56 823.72h0.75M415.58 795.57h0.75M406.32 808.95h0.75M416.23 814.93h0.75M421.59 802.76h0.75M411.29 800.05h0.75M413.29 829.83h0.75M414.5 805.51h0.75M413.7 778.8h0.75M413.31 800.93h0.75M421.57 806.12h0.75M416.26 786.42h0.75M412 791.74h0.75M417.36 801.71h0.75M418.93 806.3h0.75M414.93 797.14h0.75M422.37 809.59h0.75M412.58 809.1h0.75M424.42 823.08h0.75M421.23 782.8h0.75M413.16 825.99h0.75M412.23 790.05h0.75M416.47 800.16h0.75M418.8 788.09h0.75M408.5 790.23h0.75M415.86 820.63h0.75M415.03 819.61h0.75M418.08 801.29h0.75M427.03 790.12h0.75M414.92 774.52h0.75M412.23 767.39h0.75M415.89 790.81h0.75M430.22 797.52h0.75M404.63 794.55h0.75M406.79 787.94h0.75M428.43 797.14h0.75M416.1 794.25h0.75M418.43 812.89h0.75M418.61 817.53h0.75M412.5 785.17h0.75M423.14 788.11h0.75M403.54 804.39h0.75M410.71 819.32h0.75M418.54 808.61h0.75M416.84 816.27h0.75M414.2 808.57h0.75M413.85 820.84h0.75M412.94 795.4h0.75M411.37 792.87h0.75M414.04 795.56h0.75M417.7 798.72h0.75M409.85 829.89h0.75M422.86 814.19h0.75M424.07 816.14h0.75M419.48 786.69h0.75M429 800.49h0.75M416.78 778.43h0.75M426.02 795.01h0.75M420.17 821.81h0.75M413.58 832.83h0.75M417.63 807.17h0.75M415.31 799.9h0.75M418.02 800.87h0.75M424.9 793.44h0.75M409.06 785.9h0.75M414.48 799.76h0.75M413.24 815.11h0.75M419.38 803.48h0.75M416.07 802.08h0.75M420.95 780.05h0.75M426.45 796.62h0.75M411.39 789.7h0.75M418.73 784.25h0.75M419.97 811.64h0.75M413.24 806.17h0.75M416.26 802.36h0.75M422.85 805.98h0.75M413.7 790.85h0.75M420.89 794.02h0.75M420.3 811.27h0.75M405.69 783.77h0.75M406.75 790.71h0.75M420.91 792.14h0.75M418.12 790.92h0.75M413.87 802.92h0.75M405.65 800.62h0.75M426.22 778.98h0.75M412.7 823.52h0.75M419.41 796.56h0.75M416.6 782.21h0.75M402.99 793.92h0.75M411.95 789.32h0.75M402.44 815.18h0.75M423.48 815.41h0.75M416.12 793.49h0.75M430.2 792.36h0.75M411.29 799.12h0.75M423.99 792.93h0.75M425.86 793.62h0.75M419.05 797.18h0.75M404.05 783.76h0.75M410.7 815.65h0.75M412.51 804.37h0.75M410.68 789.59h0.75M410.59 784.04h0.75M419.06 794.9h0.75M420.17 792.64h0.75M406.99 812.94h0.75M418.75 823.61h0.75M407.47 804.24h0.75M421.13 814.15h0.75M411.87 810.37h0.75M424.64 789.44h0.75M409.44 822.43h0.75M423.14 794.21h0.75M420.12 807.45h0.75M424.02 822.15h0.75M417.05 793.18h0.75M410.65 801.82h0.75M407.06 782.71h0.75M416.15 778.78h0.75M410.09 810.81h0.75M414.44 799.56h0.75M403.74 792.14h0.75M430.09 801.44h0.75M414.23 802h0.75M416.09 811.85h0.75M415.71 794.93h0.75M416.83 794.11h0.75M417.56 824.14h0.75M409.9 803.84h0.75M407.59 810.31h0.75M405.93 787.05h0.75M418.53 791.28h0.75M405.81 812.03h0.75M408.68 819.99h0.75M426.8 787.44h0.75M412.18 792.63h0.75M430.43 788.35h0.75M416.35 819.56h0.75M419.86 814.86h0.75M423.26 787.08h0.75M416.88 797.16h0.75M422.44 798.83h0.75M424.15 790.48h0.75M416.73 816.51h0.75M418.68 781.69h0.75M421.16 779.18h0.75M422.56 778.49h0.75M402.11 806.22h0.75M417.68 775.18h0.75M408.27 800.2h0.75M423.78 819.61h0.75M426.53 809.42h0.75M414 807.31h0.75M418.07 807.05h0.75M418.23 792.69h0.75M427.88 784.94h0.75M413.92 793h0.75M406.24 821.87h0.75M419.53 777.28h0.75M410.03 798.63h0.75M418.74 802.56h0.75M411.58 780.39h0.75M413.75 792.09h0.75M415.97 812.25h0.75M413.46 784.46h0.75M417.92 782.64h0.75M417.17 791.05h0.75M410.29 805.63h0.75M409.44 822.96h0.75M429.65 799.06h0.75M414.27 776.44h0.75M422.64 790.57h0.75M415.2 802.69h0.75M418 810.66h0.75M413.25 796.93h0.75M410.16 792.61h0.75M414.23 779.62h0.75M403.06 780.36h0.75M414.19 818.38h0.75M423.62 804.21h0.75M410.02 812.77h0.75M417.04 823.02h0.75M415.01 818.83h0.75M403.83 808.07h0.75M401.96 805.94h0.75M420.19 816.27h0.75M411.84 798.87h0.75M418.67 775.51h0.75M421.21 798.79h0.75M411.12 818.42h0.75M404.94 824.89h0.75M409.01 779.46h0.75M420.56 826.23h0.75M412.37 800.15h0.75M428.84 817.25h0.75M426.29 801.45h0.75M416.26 791.02h0.75M409.82 780.86h0.75M423.9 773.92h0.75M409.53 799.36h0.75M410.85 806.33h0.75M411.77 814.23h0.75M415.95 795.58h0.75M408 818.66h0.75M424.05 816.12h0.75M421.37 781.78h0.75M411.28 807.75h0.75M413.26 820.59h0.75M404.16 804.12h0.75M426.37 783.07h0.75M420.78 797.65h0.75M428.29 794.66h0.75M411.71 791.71h0.75M416.24 799.91h0.75M411.86 794.01h0.75M401.67 811.21h0.75M404.27 805.87h0.75M415.04 790.08h0.75M420.49 803.81h0.75M420.65 803.58h0.75M425.18 807.6h0.75M408.71 818.2h0.75M416.59 801.7h0.75M418.35 819.34h0.75M412.25 804.13h0.75M417.64 812.12h0.75M416.24 791.21h0.75M411.33 816.27h0.75M411.24 793.84h0.75M403.45 788.45h0.75M426.66 779.43h0.75M412.86 820.08h0.75M416.35 797.05h0.75M413.89 817.48h0.75M400.95 788.82h0.75M407.99 788.93h0.75M408.93 797.03h0.75M429.33 808.65h0.75M421.05 779.05h0.75M405.11 792.08h0.75M416.39 762.33h0.75M419.64 800.58h0.75M423.22 800.02h0.75M410.01 804.89h0.75M416.84 824.39h0.75M421.03 786.95h0.75M421.67 800.78h0.75M421.69 822.33h0.75M407.73 778.95h0.75M409.37 798.36h0.75M414.48 811.76h0.75M405.34 792h0.75M419.74 798.62h0.75M412.04 801.02h0.75M410.52 795.72h0.75M415.61 819.02h0.75M415.61 782.19h0.75M414.22 817.94h0.75M408.71 809.43h0.75M415.1 782.53h0.75M409.31 803.53h0.75M412.35 813.81h0.75M413.14 792.05h0.75M407.41 780.97h0.75M415.72 773.75h0.75M417.31 797.01h0.75M427.88 797.65h0.75M419.96 787.45h0.75M414.15 787.82h0.75M407.71 807.49h0.75M422.86 792.57h0.75M411.12 795.51h0.75M425.96 786.77h0.75M417.36 807.75h0.75M402.49 811.69h0.75M425.32 817.33h0.75M432.83 801.68h0.75M423.08 804.32h0.75M409.85 816.52h0.75M405.5 812.9h0.75M411.44 820.37h0.75M416.08 796.31h0.75M408.78 808.34h0.75M422.84 795.14h0.75M404.97 813.67h0.75M422.98 822.12h0.75M416.19 802.64h0.75M404.63 819.4h0.75M422.41 808.2h0.75M421.01 790.9h0.75M413.72 802.72h0.75M419.42 800.53h0.75M419.37 766.22h0.75M419.8 811.66h0.75M419.03 806.44h0.75M405.6 816.01h0.75M422.5 807.71h0.75M408.87 795.47h0.75M418.93 823.05h0.75M428.78 790.95h0.75M404.71 789.98h0.75M422.52 815.34h0.75M428.7 805.89h0.75M404 781.08h0.75M422.97 822.19h0.75M414.16 801.48h0.75M415.64 798.33h0.75M405.67 817.64h0.75M427.81 792.11h0.75M419.84 778.77h0.75M414.11 814.83h0.75M414.51 792.09h0.75M411 778.87h0.75M413.89 793.38h0.75M421.65 811.12h0.75M422.06 790.56h0.75M415.42 812.7h0.75M409.21 801.13h0.75M415.82 817.37h0.75M426.8 787.47h0.75M413.51 795.99h0.75M407.96 814.94h0.75M424.68 799.47h0.75M407.08 814.58h0.75M430.9 800.77h0.75M406.7 824.9h0.75M420.66 806.18h0.75M415.82 785.6h0.75M426.95 804.82h0.75M412.55 821.06h0.75M400.55 812.78h0.75M411.22 816.27h0.75M409.88 804.98h0.75M413.84 809.6h0.75M415.46 791.7h0.75M420.56 798.8h0.75M408.65 818.19h0.75M411.5 793.77h0.75M407.27 784.39h0.75M412.08 797.55h0.75M407.71 786h0.75M409.92 779.43h0.75M426.03 795.96h0.75M419.34 805.97h0.75M413.21 819.36h0.75M418.69 781.15h0.75M424.23 778.23h0.75M405.93 816.02h0.75" stroke="#9fb6e0" stroke-width="0.75" fill="none" opacity="0.9"/>
<path d="M418.24 805.75h0.75M414.16 787.81h0.75M415.84 811.24h0.75M406.26 801.14h0.75M412.7 814.35h0.75M418.48 770.74h0.75M408.88 809.31h0.75M414.77 776.35h0.75M409.64 814.96h0.75M424.84 803.87h0.75M417.9 781.35h0.75M411.4 801.26h0.75M422.5 809.43h0.75M417.74 787.91h0.75M417.01 815.5h0.75M416.39 818.47h0.75M415.59 781.94h0.75M423.77 808.2h0.75M418.64 823.5h0.75M419.82 794.19h0.75M407.16 791.34h0.75M427.32 792.31h0.75M418.19 794.16h0.75M406.19 805.62h0.75M410.41 819.4h0.75M414.16 790.04h0.75M424.04 808.07h0.75M409.95 796.62h0.75M417.34 789.91h0.75M416.06 803.49h0.75M413.76 788.3h0.75M421.54 816.62h0.75M422.23 804.19h0.75M406.06 801h0.75M418.12 773.08h0.75M421.51 780.27h0.75M424.32 808.26h0.75M410.81 790.12h0.75M411.66 782.85h0.75M423.32 781.08h0.75M419.95 816.48h0.75M411.29 820.21h0.75M405.39 812.36h0.75M416.08 780.91h0.75M411.85 788.87h0.75M409.97 787.49h0.75M408 794.67h0.75M407.2 797.42h0.75M419.18 792.05h0.75M416.92 793.92h0.75M415.93 796.61h0.75M412.29 776.38h0.75M414.88 809.6h0.75M419.18 806.46h0.75M423.98 814.48h0.75M415.46 801.58h0.75M415.96 816.09h0.75M416.54 824.15h0.75M408.61 815.74h0.75M417.41 818.84h0.75M414.29 806.56h0.75M418.09 798.52h0.75M409 785.36h0.75M414.32 815.33h0.75M411.67 806.23h0.75M414.33 797.19h0.75M403.36 803.05h0.75M427.49 802.14h0.75M418.84 812.09h0.75M408.05 808.86h0.75M414.26 808.41h0.75M423.06 773.26h0.75M426.32 797.67h0.75M411.22 784.3h0.75M407.89 790.23h0.75M418.63 795.45h0.75M420.79 817h0.75M413.93 816.76h0.75M409.17 786.86h0.75M415.25 794.4h0.75M425.68 799.2h0.75M430.2 789.26h0.75M420.68 818.08h0.75M415.68 791.34h0.75M419.84 799.41h0.75M420.43 811.14h0.75M412.46 816.15h0.75M416.96 803.74h0.75M422.26 805.6h0.75M415.02 788.94h0.75M418.44 784.53h0.75M421.64 795.91h0.75M425.35 791.63h0.75M415.63 800.25h0.75M410 790.8h0.75M424.31 790.16h0.75M418.69 809.41h0.75M414.15 789.97h0.75M417.34 815.39h0.75M414.51 800.09h0.75M415.82 807.36h0.75M422.9 787.59h0.75M415.21 790.59h0.75M423.14 792.49h0.75M403.63 799.57h0.75M414.38 816.71h0.75M420.2 786.74h0.75M412.52 814.34h0.75M412.35 809.16h0.75M408.23 818.12h0.75M416.29 789.95h0.75M420.88 795.14h0.75M422.49 803.11h0.75M420.49 811.18h0.75M416.49 775.8h0.75M404.64 803.1h0.75M420.2 789.62h0.75M424.42 811.86h0.75M416.28 805.35h0.75M424.46 784.05h0.75M422.35 793.44h0.75M419.99 792.64h0.75M411 775.87h0.75M418.06 782.83h0.75M411.58 780.75h0.75M414.76 809.88h0.75M416.13 794.85h0.75M422.52 788.35h0.75M414.24 802.07h0.75M405.82 787.97h0.75M416.61 819.55h0.75M422.69 803.33h0.75M412.95 820.14h0.75M415.01 792.3h0.75M407.99 792.66h0.75M417.61 777.12h0.75M414.47 788.18h0.75M425.46 795.55h0.75M412.98 783.37h0.75M416.16 778.9h0.75M426.5 806.05h0.75M415.59 794.85h0.75M418.87 799.59h0.75M409.1 819.53h0.75M415.64 813.73h0.75M417.99 800.66h0.75M418.43 783.89h0.75M409.4 811.31h0.75M408.84 801.52h0.75M420.07 802.57h0.75M410.21 801.7h0.75M413.99 784.79h0.75M418.91 802.14h0.75M410.74 794.48h0.75M418.41 776.02h0.75M410.68 800.7h0.75M406.69 806.33h0.75M416.36 819.84h0.75M423.84 794.14h0.75M421.71 778.08h0.75M418.42 823.59h0.75M409.04 808.64h0.75M420.93 791h0.75M407.91 821h0.75M409.14 791.74h0.75M407.37 804.77h0.75M424.78 807.35h0.75M409.24 805.55h0.75M412.68 801.88h0.75M412.9 795.76h0.75M404.35 797.29h0.75M421.21 774.11h0.75M412.95 777.99h0.75M406.67 811.13h0.75M412.34 795.52h0.75M412.84 820.29h0.75M417.97 804.36h0.75M418.04 780.96h0.75M409.37 788.34h0.75M410.05 788.3h0.75M424.24 801.32h0.75M422.91 801.88h0.75M410.66 779.23h0.75M410.67 789.86h0.75M403.43 800.35h0.75M419.17 797.12h0.75M411.57 790.77h0.75M411.81 788.94h0.75M408.06 790.81h0.75M407.7 813.01h0.75M420.32 804.52h0.75M417.74 778.1h0.75M417.32 819.24h0.75M414.75 815.18h0.75M415.16 811.15h0.75M414.89 790.76h0.75M411.01 807.43h0.75M414.21 780.82h0.75M408.15 800.56h0.75M403.35 792.64h0.75M413.94 792.12h0.75M417.22 779.04h0.75M423.07 800.37h0.75M410.34 778.28h0.75M414.73 800.58h0.75M420.57 796.18h0.75M427.56 804.42h0.75M420.56 820.68h0.75M423.34 788.51h0.75M418.07 818.06h0.75M408.41 802.13h0.75M417.63 806.83h0.75M416.08 781.31h0.75M411.05 801.04h0.75M421.4 804.89h0.75M418.14 799.72h0.75M418.11 778.52h0.75M404.14 809.08h0.75M415.9 792.52h0.75M405.63 795.78h0.75M408.96 799.96h0.75M415.22 778.25h0.75M413.08 778.6h0.75M414.15 794.74h0.75M425.41 797.88h0.75M422.03 785.57h0.75M408.68 785.55h0.75M427.03 797.2h0.75M420.65 805.81h0.75M417.07 807.33h0.75M413.41 779.77h0.75M406.84 802.49h0.75M407.95 789.55h0.75M418.07 799.5h0.75M414.51 798.43h0.75M419.42 783.8h0.75M405.88 791.35h0.75M414.44 794.46h0.75M414.29 797.83h0.75M419.48 807.41h0.75M413.45 777.04h0.75M426.7 802.96h0.75M413.92 795.56h0.75M416.44 790.95h0.75M420.97 782h0.75M421.01 805.55h0.75M415.65 810.24h0.75M422.25 792.32h0.75M422.23 790.18h0.75M413.83 787.37h0.75M405.1 795.97h0.75M413 814.19h0.75M418.33 817.81h0.75M420.52 810.7h0.75M409.71 794.91h0.75M418.48 784.87h0.75M427 798.13h0.75M411.13 804.58h0.75M420.25 780.16h0.75M415.19 799.41h0.75M417.56 800.5h0.75M423.65 804.1h0.75M414.24 800.89h0.75M423.85 814.24h0.75M423.87 815.78h0.75M424.97 805.97h0.75M420.11 802.74h0.75M415.17 794.87h0.75M414.63 817.64h0.75M413.46 788.16h0.75M413.59 796.76h0.75M427.44 796.96h0.75M414.21 799.11h0.75M407.24 799.27h0.75M403.85 807.74h0.75M414.02 803.25h0.75M415.54 777.36h0.75M415.22 802.4h0.75M416.64 803.62h0.75M409.92 800.44h0.75M416.02 809.7h0.75M418.45 783.79h0.75M408.9 814.97h0.75M421.5 798.69h0.75M412.57 786.78h0.75M413.35 781.86h0.75M408.42 808.85h0.75M423.91 791.13h0.75M425.89 811.29h0.75M415.89 813.41h0.75M410.97 787.15h0.75M415.3 775.26h0.75M411.78 779.45h0.75M425.35 785.46h0.75M419.85 810.37h0.75M412.59 792.3h0.75M426.06 798.94h0.75M412.93 807.76h0.75M425.09 800.46h0.75M410.67 797.82h0.75M417.31 821.16h0.75M428.28 791.73h0.75M408.12 801.65h0.75M426.33 780.03h0.75M419.95 805.76h0.75M422.25 813.97h0.75M423.74 793.71h0.75M411.2 790.56h0.75M409.52 799.29h0.75M415.22 792.36h0.75M406.64 812.23h0.75M414.59 798.43h0.75M425.65 819.5h0.75M423.36 804.62h0.75M416.85 808.33h0.75M413.16 824.65h0.75M417.06 814.45h0.75M414.31 806.69h0.75M410.97 796.44h0.75M420.74 789.31h0.75M411.31 789.51h0.75M414.74 796.64h0.75M418.49 785.01h0.75M411.03 778.91h0.75M427.62 792.78h0.75M418.27 811.16h0.75M412.84 791.51h0.75M418.98 774.64h0.75M411.33 776.56h0.75M407.25 808.11h0.75M424.98 798.8h0.75M408.6 791.83h0.75M422.96 805.79h0.75M419.76 805.83h0.75M424.98 795.55h0.75M414.51 794.01h0.75M416.71 800.06h0.75M409.72 796.89h0.75M415.42 779.29h0.75M412.54 804.23h0.75M416.22 792.16h0.75M420.93 819.4h0.75M411.27 796.13h0.75M425.96 790.87h0.75M422.97 809.97h0.75M418.07 791.66h0.75M421.28 780.45h0.75M410.18 809.89h0.75M417.03 780.82h0.75M406.42 801.62h0.75M419.52 795.51h0.75M408.38 793.72h0.75M406.73 790.44h0.75M415.35 808.63h0.75M415.39 825.45h0.75M417.23 807.57h0.75M410.1 808.78h0.75M422.89 800.39h0.75M425.01 795.71h0.75M408.96 783.06h0.75M410.2 811.21h0.75M417.72 803.24h0.75M409.47 811.72h0.75M427.51 800.08h0.75M428.91 790.28h0.75M416.95 801.93h0.75M423.87 809.72h0.75M409.96 807.88h0.75M405.18 802.84h0.75M415.85 776.19h0.75M414.63 805.88h0.75M420.9 781.47h0.75M416.46 820.48h0.75M414.59 794.89h0.75M422.7 785.4h0.75M411.04 806.95h0.75M424.58 793.1h0.75M403.72 797.99h0.75M406.45 799.84h0.75M420.42 806.87h0.75M425.75 807.24h0.75M406.37 807.62h0.75M408.01 791.5h0.75M414.31 795.96h0.75M417.35 812.62h0.75M410.97 786.56h0.75M424.58 811.97h0.75M416.49 784.87h0.75M427.88 801.16h0.75M423.82 790.01h0.75M422.52 785.83h0.75M417.08 809.65h0.75M421.68 792.78h0.75M422.37 780.58h0.75M408.4 806.91h0.75M415.33 798.81h0.75M409.25 799.31h0.75M406.44 804.31h0.75M425.68 803.01h0.75M415.64 792.98h0.75M409.15 796.14h0.75M420.48 800.1h0.75M423.34 813.51h0.75M423.53 794.58h0.75M422.29 797.07h0.75M422.22 812.27h0.75M410.22 808.27h0.75M423.83 807.08h0.75M415.23 808.94h0.75M418.25 779.1h0.75M413.8 808.6h0.75M417.1 806.39h0.75M421.66 791.57h0.75M418.16 773.07h0.75M414.72 805.88h0.75M413.11 793.36h0.75M409.94 782.05h0.75M415.24 795.1h0.75M411.29 820.07h0.75M410.25 799.11h0.75M414.42 802.12h0.75M417.15 811.85h0.75M427.33 796.85h0.75M408.06 807.32h0.75M411.67 789.5h0.75M414.99 809.36h0.75M422.61 779.05h0.75M418.89 795.57h0.75M424.19 805.45h0.75M408.67 803.19h0.75M411.81 780.52h0.75M407.59 797.2h0.75M425.62 790.91h0.75M411.79 794.73h0.75M407.61 803.98h0.75M418.87 781.23h0.75M416.95 809.04h0.75M414.51 799.4h0.75M415.83 802.78h0.75M425.89 788.39h0.75M411.05 793.41h0.75M425.32 791.3h0.75M420.47 794.16h0.75M412.78 779.05h0.75M416.47 801.71h0.75M422.6 787.72h0.75M416.18 811.96h0.75M409.1 820.78h0.75M415.7 791.82h0.75M425.15 783.61h0.75M422.82 794.39h0.75M417.69 805.67h0.75M427.51 802.73h0.75M418.59 812.92h0.75M407.78 800.42h0.75M425.25 783.53h0.75M419.93 793.18h0.75M422.42 801.08h0.75M413.03 800.02h0.75M413.07 796.01h0.75M404.16 805.96h0.75M416.79 812.9h0.75M425.22 802.16h0.75M428.21 803.99h0.75M415.4 796.49h0.75M419.65 811.66h0.75M422.35 784.3h0.75M420.32 794.96h0.75M418.98 797.84h0.75M415.67 779.34h0.75M413.18 809.44h0.75M418.39 796.55h0.75M417.6 802.6h0.75M405.97 795.74h0.75M410.08 808.14h0.75M410.7 799.63h0.75M418.09 799.64h0.75M418.47 787.43h0.75M414.88 797.35h0.75M414.47 815.17h0.75M412.45 793.43h0.75M417.01 823.63h0.75M407.86 808.2h0.75M408.19 801h0.75M412.57 806.26h0.75M424.43 811.05h0.75M409.22 792.59h0.75M421.38 805.05h0.75M413.89 790.77h0.75M416.12 800.76h0.75M418.3 781.35h0.75M417.84 794.99h0.75M414.2 790.98h0.75M423.26 812.12h0.75M416.06 777.61h0.75M411.31 806.82h0.75M411.95 778.91h0.75M422.18 786.6h0.75M412.22 792.79h0.75M407.66 795.82h0.75M413.52 807.6h0.75M409.46 793.9h0.75M423.32 797.58h0.75M413.06 798.82h0.75M417.32 813.71h0.75M407.75 788.51h0.75M415.18 779.13h0.75M419.13 785.35h0.75M418.1 792.78h0.75M412.97 810.67h0.75M416.85 796.72h0.75M409.26 811.56h0.75M412.57 789.86h0.75M410.07 801.61h0.75M417.49 801.65h0.75M422.83 807.58h0.75M420.18 789.54h0.75M421.48 781.31h0.75M411.09 814.79h0.75M413.16 811h0.75M425.5 789.89h0.75M422.42 783.88h0.75M411.62 778.58h0.75M417.93 809.6h0.75M411.01 788.67h0.75M424.6 810.25h0.75M411.9 801.83h0.75M421.17 792.02h0.75M418.43 816.85h0.75M408.41 816.18h0.75M409.26 798.64h0.75M416.94 798.08h0.75M417.32 808.75h0.75M405.75 811.81h0.75M423.12 785.26h0.75M427.99 803.21h0.75M417.91 790.08h0.75M408.14 808.73h0.75M422.6 781.03h0.75M416.59 787.53h0.75M411.03 791.29h0.75M418.73 794.87h0.75M417.95 787.88h0.75M403.05 798.83h0.75M415.46 819.46h0.75M419.39 782.68h0.75M404.44 801.38h0.75M417.45 787.54h0.75M406.97 809.86h0.75M425.03 781.26h0.75M411.99 804.72h0.75M426.48 783.61h0.75M404.28 796.29h0.75M424.24 795.2h0.75M404.4 804.26h0.75M413.8 805.95h0.75M418.74 779.73h0.75M420.84 802.19h0.75M416.92 809.38h0.75M418.21 796.48h0.75M414.56 819.51h0.75M408.82 813.95h0.75M410.75 782.3h0.75M424.54 797.55h0.75M418.02 811.51h0.75M415.45 806.49h0.75M404.43 791.08h0.75M419.95 796.38h0.75M409.75 819.96h0.75M415.53 810.57h0.75M414.76 791.27h0.75M414.15 782.21h0.75M409.37 779.94h0.75M417.77 816.83h0.75M418.14 796.68h0.75M415.1 805.76h0.75M417.83 815.7h0.75M418.67 791.47h0.75M410.57 806.3h0.75M414.34 814.7h0.75M413.07 803.84h0.75M411.45 806.98h0.75M413.63 815.84h0.75M422.16 794.21h0.75M424.94 804.82h0.75M412.64 785.67h0.75M418.84 779.38h0.75M407.11 815.18h0.75M414.69 816.85h0.75M418.9 803.64h0.75M419.37 804.7h0.75M404.63 796.88h0.75M406.41 794.51h0.75M414.58 785.36h0.75M425.61 807.45h0.75M405.89 804.05h0.75M414.98 800.59h0.75M413.28 793.32h0.75M415.97 796.42h0.75M409.16 808.52h0.75M420.58 823.89h0.75M415.37 818.17h0.75M414.84 783.54h0.75M419.32 780.31h0.75M410.82 791.25h0.75M417.87 799.24h0.75M426.55 798.23h0.75M413 799.42h0.75M427.19 802.74h0.75M414.3 787.8h0.75M422.47 810.79h0.75M412.63 786.24h0.75M409.58 816.75h0.75M412.08 806.7h0.75M421.5 775.82h0.75M415.3 813.43h0.75M413.87 788.66h0.75M426.85 795.38h0.75M415.29 805.27h0.75M411.38 791.67h0.75M406.22 801.51h0.75M405.81 807.47h0.75M424.7 801.78h0.75M415.75 808.24h0.75M416.06 803.61h0.75M423.14 792.23h0.75M412.62 795.67h0.75M418.44 801.36h0.75M419.9 776.53h0.75M424.3 794.02h0.75M421.42 817.99h0.75M416.83 778.39h0.75M408.85 817.22h0.75M405.84 807h0.75M424.83 785.91h0.75M412.73 800.09h0.75M415.09 808.01h0.75M405.08 787.91h0.75M419.68 805.36h0.75M411.48 793.06h0.75M408.36 790.14h0.75M422.65 799.18h0.75M421.18 818.9h0.75M411.19 810.07h0.75M413.98 819.82h0.75M419.18 793.91h0.75M413.49 822.15h0.75M406.73 786.04h0.75M418.48 801.92h0.75M414.33 804.91h0.75M418.39 817.38h0.75M422.88 815.61h0.75M408.51 796.91h0.75M428.7 796.86h0.75M423.75 782.06h0.75M417.75 806.72h0.75M418.31 800.79h0.75M415.7 800.32h0.75M411.68 808.9h0.75M419.62 788.96h0.75M418.78 801.79h0.75M415.05 801.81h0.75M424.02 800.8h0.75M413.64 801.45h0.75M414.65 793.32h0.75M426.71 810.42h0.75M417.67 814.77h0.75M421.9 778.35h0.75M414.25 784.88h0.75M415.22 794.04h0.75M419.21 815.39h0.75M413.49 791.6h0.75M418.61 787.39h0.75M422.88 813.88h0.75M414.87 807.63h0.75M406.75 810.5h0.75M412.32 779.58h0.75M417.12 808.49h0.75M422.57 808.41h0.75M425.04 802.43h0.75M414.12 824.56h0.75M418.92 810.78h0.75M415.72 817.88h0.75M415.42 785.23h0.75M415.01 822.98h0.75M415.69 795.84h0.75M416.07 786.95h0.75M423.18 776.7h0.75M414.8 781.93h0.75M405.54 786.36h0.75M406.04 803.79h0.75M409.88 797.28h0.75M420.82 788.93h0.75M409.96 806.14h0.75M409.14 795.29h0.75M405.52 785.56h0.75M411.51 812.21h0.75M415.71 814.28h0.75M405.64 800.86h0.75M416.59 795.87h0.75M414.67 774.28h0.75M411.2 819.61h0.75M405.4 806.28h0.75M418.63 776.77h0.75M409.5 776.54h0.75M424.55 797.75h0.75M407.9 811.77h0.75M413.09 802.95h0.75M420.93 804.97h0.75M403.37 796.22h0.75M412.95 808.34h0.75M417.73 805.29h0.75M419.69 810.68h0.75M422.79 773.69h0.75M409.14 799.72h0.75M409.46 783.55h0.75M423.04 779.94h0.75M416.39 786.38h0.75M420.97 811.81h0.75M424.57 787.18h0.75M423.06 808.17h0.75M413.09 814.5h0.75M418.59 802.93h0.75M417.56 814.85h0.75M415.6 806.89h0.75M405.55 803.84h0.75M417.17 778.88h0.75M412.92 796.34h0.75M429.05 796.11h0.75M422.25 817.2h0.75M411.36 794.12h0.75M416 774.47h0.75M411.05 798.25h0.75M419.9 803.02h0.75M411.98 818.16h0.75M420.66 805h0.75M416.53 783.15h0.75M423.83 804h0.75M419.94 793.05h0.75M404.15 814.01h0.75M417.43 823.88h0.75M410.58 785.01h0.75M408.18 802.61h0.75M409.44 797.35h0.75M417.91 800.14h0.75M409.76 821.45h0.75M418.64 800.92h0.75M409.37 806.55h0.75M415.47 787.29h0.75M421.87 806.37h0.75M416.86 797.8h0.75M420.43 807.82h0.75M416.55 813.31h0.75M422.85 803.29h0.75M418.66 801.74h0.75M407.97 810.31h0.75M407 796.87h0.75M411.62 789.79h0.75M411.14 787.34h0.75M415.74 789.28h0.75M413.4 788.24h0.75M408.72 808.56h0.75M413.39 777.15h0.75M421.87 810.56h0.75M416.57 819.42h0.75M415.82 801.99h0.75M410.27 807.08h0.75M411.56 816.69h0.75M420.05 787.48h0.75M424.57 801.13h0.75M417.26 799.38h0.75M410.99 796.66h0.75M405.54 795.58h0.75M409.59 789.96h0.75M404.5 790.31h0.75M412.7 811.08h0.75M416.93 787.29h0.75M418.83 784.46h0.75M423.77 779.12h0.75M423.03 812.55h0.75M414.44 799.96h0.75M406.63 803.12h0.75M418.97 801.15h0.75M421.66 806.48h0.75M416.86 776.98h0.75M409.79 814.01h0.75M418.28 791.75h0.75M414.61 802.75h0.75M419.6 786.66h0.75M426.51 799.12h0.75M412.61 802.24h0.75M417.72 816.77h0.75M419.08 784.86h0.75M418.89 796.68h0.75M427.72 807.54h0.75M411 801.84h0.75M409.68 778.47h0.75M412.55 798.91h0.75M420.49 791.31h0.75M415.15 808.29h0.75M425.61 801.81h0.75M408.51 816.81h0.75M425.49 794.97h0.75M411.44 811.63h0.75M426.31 803.93h0.75M404.42 795.96h0.75M416.92 790.23h0.75M420.31 817.29h0.75M423.88 802.3h0.75M411.13 813.64h0.75M424.01 788.62h0.75M409.65 800.06h0.75M407.14 799.6h0.75M408.15 784.24h0.75M419.94 808h0.75M421.49 779.72h0.75M408.38 789.21h0.75M422.14 790.18h0.75M425.09 789.79h0.75M423.34 784.08h0.75M419.83 781.05h0.75M415.49 779.08h0.75M420.19 796.5h0.75M406.62 800.77h0.75M413.78 799.01h0.75M417.51 798.49h0.75M426.64 806.57h0.75M412.18 816.54h0.75M416.67 813.44h0.75M421.45 803.15h0.75M428.34 799.88h0.75M413.82 809.01h0.75M417.17 799.6h0.75M413.14 813.77h0.75M416.63 814.41h0.75M417 813.77h0.75M412.85 776.68h0.75M420.47 788.78h0.75M420.97 816.13h0.75M420.83 801.16h0.75M427.38 801.01h0.75M422.18 789.36h0.75M409.85 813.67h0.75M408.84 800.17h0.75M412.71 799.81h0.75M408.67 804.87h0.75M416.82 820.56h0.75M414.06 819.69h0.75M418.08 791.36h0.75M423.76 793.34h0.75M413.74 820.97h0.75M422.27 791.43h0.75M416.47 821h0.75M409.99 818.25h0.75M415.53 794.88h0.75M423.2 805.4h0.75M423.39 815.54h0.75M415.13 818.36h0.75M411.17 794.5h0.75M414.94 806.91h0.75M421.87 800.73h0.75M411.42 800.86h0.75M418.19 809.63h0.75M409.11 792.85h0.75M425.65 805.76h0.75M407.24 806.11h0.75M413.68 805.51h0.75M417.63 815.33h0.75M415.28 805.01h0.75M417.54 822.08h0.75M408.84 782.06h0.75M414.9 780.53h0.75M408.74 819.87h0.75M413.6 803.02h0.75M410.22 818.96h0.75M410.77 812.29h0.75M422.32 797.75h0.75M411.23 799.11h0.75M404.62 808.89h0.75M419.62 785.12h0.75M424.62 788h0.75M410.15 819.59h0.75M417.74 812.98h0.75M409.2 791.4h0.75M423.09 807.65h0.75M419.08 812.27h0.75M426.62 790.01h0.75M410.55 817.32h0.75M425.85 796.98h0.75M419.22 775.39h0.75M421.95 793.88h0.75M422.47 791.95h0.75M411.03 814.92h0.75M426.35 792.43h0.75M420.33 807.58h0.75M425.6 791.79h0.75M415.07 811.49h0.75M414.93 775.98h0.75M406.79 803.42h0.75M419.18 778.61h0.75" stroke="#6486cc" stroke-width="0.75" fill="none" opacity="0.7"/>
<path d="M413.78 806.38h0.75M416.4 788.51h0.75M422.09 792.96h0.75M423.77 793.26h0.75M412.55 798.95h0.75M417 808.51h0.75M425.65 795.32h0.75M418.7 803.28h0.75M413.67 799.22h0.75M415.37 796.61h0.75M409.88 800.18h0.75M410 799.94h0.75M422.42 782.07h0.75M415.77 790.22h0.75M420.96 784.93h0.75M411.43 804.12h0.75M425.63 794.36h0.75M417.79 794.96h0.75M419.1 787.92h0.75M419.14 798.17h0.75M418.95 794.45h0.75M413.23 797.46h0.75M422.55 800.1h0.75M417.31 800.17h0.75M422.28 808.35h0.75M422.44 811.32h0.75M417.97 795.22h0.75M418.56 805.69h0.75M422.23 795.08h0.75M413.38 787.77h0.75M423.64 798.35h0.75M423.36 805.49h0.75M417.01 794.6h0.75M412.71 805.15h0.75M419.05 799.9h0.75M425.03 801.08h0.75M420.64 783.95h0.75M413.49 803.31h0.75M418.01 803.82h0.75M419.67 804.32h0.75M411.56 801.57h0.75M419.62 802.18h0.75M420.29 800.33h0.75M423.12 801.43h0.75M423.82 784.99h0.75M419.37 798.04h0.75M415.35 809.52h0.75M423.34 791.63h0.75M420.93 785.81h0.75M417.19 790.91h0.75M414.92 809.64h0.75M416.35 812.79h0.75M412.55 803.18h0.75M414.84 808.81h0.75M413.17 804.01h0.75M424.73 805.01h0.75M418.52 803.67h0.75M421.64 796.39h0.75M413.99 796.65h0.75M421.35 803.64h0.75M419.77 815.16h0.75M418.02 781.14h0.75M422.22 791.25h0.75M426.61 795.37h0.75M417.65 790.26h0.75M419.18 792.6h0.75M419.97 801.7h0.75M416.2 799.61h0.75M414.94 803.8h0.75M417.55 789.32h0.75M418.04 796.41h0.75M416.79 796.38h0.75M419.67 805.83h0.75M416.2 801.02h0.75M420.44 783.58h0.75M415.06 795.89h0.75M411.17 804.91h0.75M412.64 804.13h0.75M424.37 801.59h0.75M414.41 785.95h0.75M419.43 782.66h0.75M413.02 800.33h0.75M418.49 791.12h0.75M413.44 806.11h0.75M417.87 794.89h0.75M421.95 800.5h0.75M421.38 804.31h0.75M414.46 788.88h0.75M413.15 800.4h0.75M426.37 790.44h0.75M421.84 805.71h0.75M413.42 800.66h0.75M414.26 802.62h0.75M418.1 791.03h0.75M416.25 792.87h0.75M414.54 803.56h0.75M418.25 800.85h0.75M420.07 788.73h0.75M417.51 798.66h0.75M415.45 799.23h0.75M416.06 803.6h0.75M420.34 791.93h0.75M414.23 792.34h0.75M420.35 797.76h0.75M416.65 797.69h0.75M414.61 785.88h0.75M412.14 793.51h0.75M425.1 793.28h0.75M424.55 795.77h0.75M413.39 805.6h0.75M418.09 806.25h0.75M422.72 802.07h0.75M421.69 789.39h0.75M421.09 798.97h0.75M418.62 794.9h0.75M413.95 790.12h0.75M414.34 803.06h0.75M413.73 797.63h0.75M413.55 791.59h0.75M420.4 805.66h0.75M418.16 787.46h0.75M422.44 793.6h0.75M412.85 797.1h0.75M420.83 806.39h0.75M422.15 808.01h0.75M424.63 799.59h0.75M417.25 799.06h0.75M419.33 784.01h0.75M417.58 795.87h0.75M418.14 798.63h0.75M424.25 796.92h0.75M416.87 809.28h0.75M423.16 807.37h0.75M421.97 805.05h0.75M419.92 807.13h0.75M415.65 797.32h0.75M423.43 798.52h0.75M422.07 803.49h0.75M419.13 799.11h0.75M421.17 795.42h0.75M418.91 790.69h0.75M418.86 800.1h0.75M416.96 814.42h0.75M416.17 797.22h0.75M421.53 800.33h0.75M416.55 798.19h0.75M415.25 783.68h0.75M416.05 805.12h0.75M414.93 808.79h0.75M413.92 805.55h0.75M419.75 783.86h0.75M418.92 803.9h0.75M416 801.46h0.75M415.89 784.99h0.75M422.53 796.51h0.75M419.87 796.35h0.75M418.98 807.82h0.75M416.95 807.5h0.75M421.64 786.73h0.75M419.13 787.54h0.75M415.53 808.29h0.75M417.32 791.89h0.75M424.9 795.64h0.75M419.02 793.78h0.75M425.68 794.3h0.75M418.48 805.64h0.75M416.74 790.53h0.75M418.93 794.4h0.75M423.38 803.46h0.75M415.68 795.28h0.75M417.78 806.55h0.75M415.8 794.03h0.75M414.21 812.29h0.75M420.65 806.22h0.75M425.33 789.32h0.75M420.77 784.38h0.75M420.01 805.06h0.75M416.72 796.7h0.75M414.26 807.49h0.75M412.4 798.1h0.75M416.67 807.71h0.75M414.11 804.09h0.75M418.82 802.18h0.75M416.69 793.21h0.75M423.69 803.82h0.75M419.63 800.93h0.75M420.75 794.14h0.75M421.42 800.07h0.75M420.25 798.56h0.75M416.91 814.65h0.75M418.7 793.76h0.75M421.53 795.74h0.75M419.95 787.11h0.75M416.33 793.92h0.75M416.59 784.78h0.75M411.1 805.1h0.75M426.24 798.06h0.75M411.05 800.99h0.75M420.37 798.34h0.75M417.82 799.78h0.75M418.11 786.11h0.75M426.15 796.61h0.75M419.14 805.79h0.75M422.88 785.78h0.75M419.2 794.93h0.75M418.16 787.57h0.75M422.15 803.14h0.75M419.95 793.11h0.75M415.46 784.76h0.75M417.55 807.89h0.75M423.48 781.14h0.75M423.46 797.28h0.75M419.21 790.5h0.75M423.5 794.15h0.75M420.48 793h0.75M423.17 784.13h0.75M412.65 803.79h0.75M413.09 798.14h0.75M416.63 786.71h0.75M426.4 800.67h0.75M412.46 808.77h0.75M422.83 790.33h0.75M417.1 811.65h0.75M416.11 806.51h0.75M419.17 814.2h0.75M412.78 800.44h0.75M415.13 794.55h0.75M412.24 802.41h0.75M411.75 796.08h0.75M414.75 806.39h0.75M421.01 792.47h0.75M423.68 783.53h0.75M418.76 795.45h0.75M423.07 784.33h0.75M421.99 805.92h0.75M421.05 802.02h0.75M410.53 796.45h0.75M421.6 813.18h0.75M415.22 796.99h0.75M412.54 800.06h0.75M420.59 799.87h0.75M421.33 794.86h0.75M416.68 810.06h0.75M416.6 794.48h0.75M416.9 800.09h0.75M418.89 784.24h0.75M416.41 802.3h0.75M415.05 790.73h0.75M416.39 807.84h0.75M422.63 804.84h0.75M416.45 796.9h0.75M416.01 796.86h0.75M413.15 795.21h0.75M415.81 784.08h0.75M411.65 805.08h0.75M417.16 805.81h0.75M410.54 803.3h0.75M416.22 798.06h0.75M419.42 806.48h0.75M419.84 794.16h0.75M425.11 802.39h0.75M418.53 779.36h0.75M420.8 785.42h0.75M414.09 809.04h0.75M422.08 803.21h0.75M414.99 795.49h0.75M421.76 798.61h0.75M421.87 789.01h0.75M420.71 811.29h0.75M416.05 799.9h0.75M412.95 796.24h0.75M414.26 797.55h0.75M415.17 791.9h0.75M423.2 797.21h0.75M421.59 808.07h0.75M418.56 788.31h0.75M419.62 792.49h0.75M416.82 808.15h0.75M415.61 800.39h0.75M420.47 810.77h0.75M415.23 794.68h0.75M414.13 807.66h0.75M415.48 809.81h0.75M424.43 795.51h0.75M419.21 797.34h0.75M418.78 797.11h0.75M422.75 790.04h0.75M421.98 787.13h0.75M421.2 800.15h0.75M418.22 786.14h0.75M412.86 802.38h0.75M420.43 789.93h0.75M417.71 783.1h0.75M414.59 792.68h0.75M414.59 795.12h0.75M422.23 809.04h0.75M411.58 798.87h0.75M413.82 809.49h0.75M419.09 793.94h0.75M414.74 794.12h0.75M423.41 785.66h0.75M419.85 811.98h0.75M414.26 801.87h0.75M418.97 784.55h0.75M416.72 779.83h0.75M418.35 801.37h0.75M423.74 793.14h0.75M416.21 801.55h0.75M412.81 797.22h0.75M416.87 800.47h0.75M417.95 804.16h0.75M422.3 792.97h0.75M416.95 807.05h0.75M423.33 787.03h0.75M412.49 788.76h0.75M413.83 799.47h0.75M411.9 806.29h0.75M412.08 800.63h0.75M421.65 794.69h0.75M413.31 799.8h0.75M419.38 796.38h0.75M416.04 800.56h0.75M417.57 810.8h0.75M412.97 799.73h0.75M424.95 800.22h0.75M420.44 812.23h0.75M413.31 794.59h0.75M421.86 797.33h0.75M415.22 796.22h0.75M419.26 786.52h0.75" stroke="#5f9da6" stroke-width="0.75" fill="none" opacity="0.8"/>
<path d="M417.57 810.13h0.75M418.15 804.69h0.75M423.44 784.41h0.75M415.21 798.06h0.75M412.29 801.06h0.75M412.77 796.97h0.75M416.67 794.81h0.75M419.48 793.38h0.75M421.74 793.38h0.75M423.71 784.59h0.75M419.26 784.32h0.75M418.73 782.49h0.75M417.79 805.94h0.75M423.52 793.15h0.75M417.69 796.38h0.75M422.83 800.03h0.75M424.29 795.12h0.75M422.01 783.66h0.75M419.51 791.06h0.75M420.55 804.23h0.75M419.25 796.63h0.75M419.85 791.77h0.75M422.01 797.53h0.75M420.47 789.69h0.75M412.73 794.15h0.75M419.44 785.3h0.75M417.96 791.01h0.75M420.78 781.31h0.75M418.92 813.4h0.75M425.62 783.14h0.75M418.53 812.32h0.75M414.08 802.82h0.75M420.85 784.84h0.75M416.55 785.94h0.75M420.04 803.71h0.75M426.86 779.22h0.75M421.95 788.7h0.75M424.43 773.84h0.75M420.35 797.74h0.75M415.71 802.42h0.75M417.43 785.3h0.75M426.32 777.79h0.75M420.37 797.11h0.75M417.42 791.14h0.75M431.1 790.58h0.75M423.66 796.21h0.75M421.08 791.3h0.75M421.06 788.77h0.75M425.33 775.7h0.75M419.19 799.34h0.75M420.82 795.74h0.75M418.26 791.63h0.75M418.55 805.46h0.75M421.63 777.38h0.75M420.86 797.33h0.75M415.34 810.86h0.75M426.63 779.63h0.75M417.67 806.18h0.75M418.19 792.05h0.75M418.61 789.29h0.75M421.71 802.37h0.75M419.41 792.53h0.75M420.7 777.74h0.75M418.14 789.27h0.75M423.09 793.2h0.75M422.75 802.31h0.75M421.1 785.19h0.75M424.43 791.18h0.75M418 781.99h0.75M420.78 783.93h0.75M414.38 809.21h0.75M417.82 796.02h0.75M419.56 781.25h0.75M416.05 789.19h0.75M417.14 803.85h0.75M418.15 800.82h0.75M418.52 780.45h0.75M419.02 807.97h0.75M418.86 795.53h0.75M420.56 789.18h0.75M420.47 799.29h0.75M422.67 785.08h0.75M423.61 786.79h0.75M415.17 797.42h0.75M418.24 794.4h0.75M421.58 801.26h0.75M419.79 798.82h0.75M415.09 817.96h0.75M421.86 804.3h0.75M424.27 797.87h0.75M416.6 778.88h0.75M418.26 788.97h0.75M420.14 783.87h0.75M422.65 791.5h0.75M421.14 808.66h0.75M426.55 782.59h0.75M416.83 798.95h0.75M418.11 815.29h0.75M415.84 807.63h0.75M417.12 796.76h0.75M419.41 782.75h0.75M421.08 794.45h0.75M419.45 788.87h0.75M413.95 808.85h0.75M419.27 788.06h0.75M418.03 803.06h0.75M419.12 802.19h0.75M414.92 801.86h0.75M419.03 790.52h0.75M423.43 781.52h0.75M424.11 788.57h0.75M420.04 797.2h0.75M417.65 800.73h0.75M419.92 794.25h0.75M420.23 792.68h0.75M416.77 800.88h0.75M421.28 788.9h0.75M421.49 784.7h0.75M420.5 787.96h0.75M417.96 786.64h0.75M422.8 795.52h0.75M426.66 779.05h0.75M419.16 790.36h0.75M422.69 793.88h0.75M417.15 801.51h0.75M416.84 782.63h0.75M419.12 792.88h0.75M422.77 793.07h0.75M416.94 787.46h0.75M416.75 779h0.75M423.84 780.6h0.75M420.02 794.25h0.75M419.37 800.04h0.75M421.96 794.44h0.75M420.82 806.93h0.75M415.6 788.05h0.75M417.26 795.75h0.75M417.68 810.28h0.75M414.24 815.92h0.75M417.8 809.89h0.75M419.27 786.85h0.75M416.32 789h0.75M419.98 796.13h0.75M413.55 815.01h0.75M421.8 797.81h0.75M422.75 788.19h0.75M421.67 797.26h0.75M415.12 785.47h0.75M416.07 800.87h0.75M423.84 807.37h0.75M423.21 790.73h0.75M415.86 803.08h0.75M422.54 789.31h0.75M418.1 791.33h0.75M420.95 795.25h0.75M420.9 790.34h0.75M414.86 815.19h0.75M424.26 805.14h0.75M418.79 792.55h0.75M425.28 781.89h0.75M426.07 795.28h0.75M414.09 789.91h0.75M413.48 789.16h0.75M419.59 800.15h0.75M418.85 756.28h0.75M424.03 785.49h0.75M419.03 816.04h0.75M427.48 793.88h0.75M426.79 788.77h0.75M417.87 778.61h0.75M422.16 789.43h0.75M417.24 791.95h0.75M417.13 808.49h0.75M422.31 779.01h0.75M421.97 793.15h0.75M419.98 812.86h0.75M417.91 785.08h0.75M419.02 797.88h0.75M420.22 803.64h0.75M415.94 810.11h0.75M416.82 800.41h0.75M419.64 792.9h0.75M423.87 778.33h0.75M423.79 787.22h0.75M418.32 776.12h0.75M420.7 791.09h0.75M421.58 784.94h0.75M424.16 792.99h0.75M427.42 791.08h0.75M418.59 785.52h0.75M423.1 787.4h0.75M420.65 784.91h0.75M426.51 789.46h0.75M418.48 786.59h0.75M420.04 792.96h0.75M420.2 795.18h0.75M424.22 780.67h0.75M418.78 800.28h0.75M423.77 791.7h0.75M423.08 794.12h0.75M419.14 780.2h0.75M420.95 786.11h0.75M417.07 770.35h0.75M426.85 782.61h0.75M420.85 783.42h0.75M419.64 793.46h0.75M417.3 804.44h0.75M418.89 797.18h0.75M416.11 798.63h0.75M418.9 800.21h0.75M420.88 784.16h0.75M424.44 802.29h0.75M423.36 796.95h0.75M415.93 811.5h0.75M420.18 785.62h0.75M418.91 789.82h0.75M418.65 772.42h0.75M423.45 792.56h0.75M415.33 785.63h0.75M424.27 796.33h0.75M420.04 789.43h0.75M421.56 796.92h0.75M416.68 801.35h0.75M422.29 800.91h0.75M416.64 791.53h0.75M420.44 782.53h0.75M418.31 791.8h0.75M423.26 783.87h0.75M416.82 799.21h0.75M421.46 786.17h0.75M422.47 804.78h0.75M419.67 798.62h0.75M426.33 788.19h0.75M418.69 790.52h0.75M425.39 793.68h0.75M420.13 785.95h0.75M418.65 811.34h0.75M415.39 810.46h0.75M419.16 792.1h0.75M416.9 792.58h0.75M421.09 796.11h0.75M417.01 806.06h0.75M413.8 793.45h0.75M424.87 791.82h0.75M420.73 790.45h0.75M417.9 812.09h0.75M421.88 802.03h0.75M419.57 803.56h0.75M423.41 789.77h0.75M423.36 801.88h0.75M419.97 791.74h0.75M420.12 792.07h0.75M425.26 791.19h0.75M420.52 793.25h0.75M419.49 792.63h0.75M426.32 799.36h0.75M422.21 812.76h0.75M421.38 793.77h0.75M423.42 779.44h0.75M419.87 787.8h0.75" stroke="#8fbd60" stroke-width="0.75" fill="none" opacity="0.9"/>
<path d="M420.03 795.43h0.7M420.53 795.09h0.7M420.61 791.71h0.7M421.23 797.45h0.7M419.81 788.39h0.7M418.98 795.88h0.7M423.55 783.66h0.7M419.56 787.11h0.7M420.79 797.33h0.7M419.49 789.16h0.7M421.7 791.29h0.7M421.8 790.23h0.7M420.75 792.28h0.7M421.49 794.61h0.7M421.02 790.46h0.7M422 794.19h0.7M420.33 794.18h0.7M422.33 789.08h0.7M419.52 786.08h0.7M421.84 791.53h0.7M419.9 799.13h0.7M419.71 794.66h0.7M419.07 791.18h0.7M417.59 798.42h0.7M419.26 794.19h0.7M420.46 790.73h0.7M421.32 799.04h0.7M421.4 793.4h0.7M419.6 794.25h0.7M422.28 786.82h0.7" stroke="#c6d35a" stroke-width="0.7" fill="none" opacity="1"/>
</g>
<rect x="354.5" y="765.9" width="44" height="64.5" fill="none" stroke="#222" stroke-width="1.0"/>
<rect x="400.4" y="766.6" width="30.3" height="60.8" fill="none" stroke="#222" stroke-width="1.0"/>
<text x="367.7" y="762.8" font-size="4.55" text-anchor="middle" font-weight="bold" fill="#111" >CoV negative cells</text>
<text x="412.1" y="762.8" font-size="4.55" text-anchor="middle" font-weight="bold" fill="#111" >CoV positive cells</text>
<line x1="333.4" y1="844" x2="333.4" y2="847.2" stroke="#3a3a3a" stroke-width="0.8" />
<text x="333.4" y="852.3" font-size="4.8" font-weight="bold" text-anchor="middle" fill="#222">-10<tspan dy="-2.2" font-size="3.6">4</tspan></text>
<line x1="358.3" y1="844" x2="358.3" y2="847.2" stroke="#3a3a3a" stroke-width="0.8" />
<text x="358.3" y="851.9" font-size="4.8" text-anchor="middle" font-weight="bold" fill="#222" >0</text>
<line x1="385.6" y1="844" x2="385.6" y2="847.2" stroke="#3a3a3a" stroke-width="0.8" />
<text x="385.6" y="852.3" font-size="4.8" font-weight="bold" text-anchor="middle" fill="#222">10<tspan dy="-2.2" font-size="3.6">4</tspan></text>
<line x1="412.4" y1="844" x2="412.4" y2="847.2" stroke="#3a3a3a" stroke-width="0.8" />
<text x="412.4" y="852.3" font-size="4.8" font-weight="bold" text-anchor="middle" fill="#222">10<tspan dy="-2.2" font-size="3.6">5</tspan></text>
<line x1="429.5" y1="844" x2="429.5" y2="847.2" stroke="#3a3a3a" stroke-width="0.8" />
<text x="429.5" y="852.3" font-size="4.8" font-weight="bold" text-anchor="middle" fill="#222">10<tspan dy="-2.2" font-size="3.6">6</tspan></text>
<rect x="353.1" y="844.2" width="9" height="1.7" fill="#222"/>
<line x1="370.01" y1="844" x2="370.01" y2="845.7" stroke="#3a3a3a" stroke-width="0.45" />
<line x1="373.94" y1="844" x2="373.94" y2="845.7" stroke="#3a3a3a" stroke-width="0.45" />
<line x1="376.73" y1="844" x2="376.73" y2="845.7" stroke="#3a3a3a" stroke-width="0.45" />
<line x1="378.89" y1="844" x2="378.89" y2="845.7" stroke="#3a3a3a" stroke-width="0.45" />
<line x1="380.65" y1="844" x2="380.65" y2="845.7" stroke="#3a3a3a" stroke-width="0.45" />
<line x1="382.15" y1="844" x2="382.15" y2="845.7" stroke="#3a3a3a" stroke-width="0.45" />
<line x1="383.44" y1="844" x2="383.44" y2="845.7" stroke="#3a3a3a" stroke-width="0.45" />
<line x1="384.58" y1="844" x2="384.58" y2="845.7" stroke="#3a3a3a" stroke-width="0.45" />
<line x1="393.67" y1="844" x2="393.67" y2="845.7" stroke="#3a3a3a" stroke-width="0.45" />
<line x1="398.39" y1="844" x2="398.39" y2="845.7" stroke="#3a3a3a" stroke-width="0.45" />
<line x1="401.74" y1="844" x2="401.74" y2="845.7" stroke="#3a3a3a" stroke-width="0.45" />
<line x1="404.33" y1="844" x2="404.33" y2="845.7" stroke="#3a3a3a" stroke-width="0.45" />
<line x1="406.45" y1="844" x2="406.45" y2="845.7" stroke="#3a3a3a" stroke-width="0.45" />
<line x1="408.25" y1="844" x2="408.25" y2="845.7" stroke="#3a3a3a" stroke-width="0.45" />
<line x1="409.8" y1="844" x2="409.8" y2="845.7" stroke="#3a3a3a" stroke-width="0.45" />
<line x1="411.17" y1="844" x2="411.17" y2="845.7" stroke="#3a3a3a" stroke-width="0.45" />
<line x1="417.55" y1="844" x2="417.55" y2="845.7" stroke="#3a3a3a" stroke-width="0.45" />
<line x1="420.56" y1="844" x2="420.56" y2="845.7" stroke="#3a3a3a" stroke-width="0.45" />
<line x1="422.7" y1="844" x2="422.7" y2="845.7" stroke="#3a3a3a" stroke-width="0.45" />
<line x1="424.35" y1="844" x2="424.35" y2="845.7" stroke="#3a3a3a" stroke-width="0.45" />
<line x1="425.71" y1="844" x2="425.71" y2="845.7" stroke="#3a3a3a" stroke-width="0.45" />
<line x1="426.85" y1="844" x2="426.85" y2="845.7" stroke="#3a3a3a" stroke-width="0.45" />
<line x1="427.84" y1="844" x2="427.84" y2="845.7" stroke="#3a3a3a" stroke-width="0.45" />
<line x1="428.72" y1="844" x2="428.72" y2="845.7" stroke="#3a3a3a" stroke-width="0.45" />
<line x1="347.31" y1="844" x2="347.31" y2="845.7" stroke="#3a3a3a" stroke-width="0.45" />
<line x1="343.81" y1="844" x2="343.81" y2="845.7" stroke="#3a3a3a" stroke-width="0.45" />
<line x1="341.32" y1="844" x2="341.32" y2="845.7" stroke="#3a3a3a" stroke-width="0.45" />
<line x1="339.39" y1="844" x2="339.39" y2="845.7" stroke="#3a3a3a" stroke-width="0.45" />
<line x1="337.81" y1="844" x2="337.81" y2="845.7" stroke="#3a3a3a" stroke-width="0.45" />
<line x1="336.48" y1="844" x2="336.48" y2="845.7" stroke="#3a3a3a" stroke-width="0.45" />
<line x1="335.33" y1="844" x2="335.33" y2="845.7" stroke="#3a3a3a" stroke-width="0.45" />
<line x1="334.31" y1="844" x2="334.31" y2="845.7" stroke="#3a3a3a" stroke-width="0.45" />
<line x1="329.81" y1="844" x2="329.81" y2="845.7" stroke="#3a3a3a" stroke-width="0.45" />
<line x1="327.7" y1="844" x2="327.7" y2="845.7" stroke="#3a3a3a" stroke-width="0.45" />
<text x="378.9" y="865.7" font-size="9.8" text-anchor="middle" font-weight="normal" fill="#333" >SARS-2 spike-AF488</text>
<text x="436" y="709.9" font-size="22.2" text-anchor="start" font-weight="bold" fill="#111" stroke="#111" stroke-width="0.3">J</text>
<line x1="490.3" y1="724.9" x2="490.3" y2="862.7" stroke="#2a2a2a" stroke-width="0.9" />
<line x1="485.5" y1="725.3" x2="490.3" y2="725.3" stroke="#2a2a2a" stroke-width="0.9" />
<text x="483.8" y="728.97" font-size="10.2" text-anchor="end" font-weight="normal" fill="#111" >100</text>
<line x1="485.5" y1="752.8" x2="490.3" y2="752.8" stroke="#2a2a2a" stroke-width="0.9" />
<text x="483.8" y="756.47" font-size="10.2" text-anchor="end" font-weight="normal" fill="#111" >80</text>
<line x1="485.5" y1="780" x2="490.3" y2="780" stroke="#2a2a2a" stroke-width="0.9" />
<text x="483.8" y="783.67" font-size="10.2" text-anchor="end" font-weight="normal" fill="#111" >60</text>
<line x1="485.5" y1="807.5" x2="490.3" y2="807.5" stroke="#2a2a2a" stroke-width="0.9" />
<text x="483.8" y="811.17" font-size="10.2" text-anchor="end" font-weight="normal" fill="#111" >40</text>
<line x1="485.5" y1="835.1" x2="490.3" y2="835.1" stroke="#2a2a2a" stroke-width="0.9" />
<text x="483.8" y="838.77" font-size="10.2" text-anchor="end" font-weight="normal" fill="#111" >20</text>
<line x1="485.5" y1="862.3" x2="490.3" y2="862.3" stroke="#2a2a2a" stroke-width="0.9" />
<text x="483.8" y="865.97" font-size="10.2" text-anchor="end" font-weight="normal" fill="#111" >0</text>
<line x1="489.9" y1="862.3" x2="584.3" y2="862.3" stroke="#2a2a2a" stroke-width="0.9" />
<text x="465.8" y="793.8" font-size="9.8" text-anchor="middle" font-weight="normal" fill="#111" transform="rotate(-90 465.8 793.8)" >Spike positive cells (%)</text>
<circle cx="499.7" cy="862.3" r="2.2" fill="#8c8c8c"/>
<circle cx="503.4" cy="862.3" r="2.2" fill="#8c8c8c"/>
<circle cx="507" cy="862.3" r="2.2" fill="#8c8c8c"/>
<circle cx="510.7" cy="862.3" r="2.2" fill="#8c8c8c"/>
<circle cx="521.2" cy="753.1" r="2.2" fill="#111"/>
<circle cx="524.5" cy="751.5" r="2.2" fill="#111"/>
<circle cx="528.2" cy="752.5" r="2.2" fill="#111"/>
<circle cx="532.2" cy="752.5" r="2.2" fill="#111"/>
<line x1="540.5" y1="779" x2="556" y2="779" stroke="#F0B47A" stroke-width="0.8" />
<circle cx="543" cy="777.3" r="2.2" fill="#E8963F"/>
<circle cx="553.4" cy="776.3" r="2.2" fill="#E8963F"/>
<circle cx="543" cy="781.3" r="2.2" fill="#E8963F"/>
<circle cx="553.4" cy="780.7" r="2.2" fill="#E8963F"/>
<circle cx="569.8" cy="813.6" r="2.2" fill="#D9302C"/>
<circle cx="564.8" cy="820" r="2.2" fill="#D9302C"/>
<circle cx="569.8" cy="818.6" r="2.2" fill="#D9302C"/>
<circle cx="574.9" cy="819.3" r="2.2" fill="#D9302C"/>
<polyline points="526.5,725.9 526.5,720.2 569.8,720.2 569.8,725.9" fill="none" stroke="#333" stroke-width="0.7"/>
<text x="549.5" y="717" font-size="9.5" text-anchor="middle" font-weight="bold" fill="#222" letter-spacing="1.0">****</text>
<polyline points="504.7,743.1 504.7,737 523.8,737 523.8,743.1" fill="none" stroke="#333" stroke-width="0.7"/>
<text x="513.3" y="733.5" font-size="9.5" text-anchor="middle" font-weight="bold" fill="#222" letter-spacing="1.0">****</text>
<polyline points="529.5,743.1 529.5,737 548.3,737 548.3,743.1" fill="none" stroke="#333" stroke-width="0.7"/>
<text x="541.1" y="733.5" font-size="9.5" text-anchor="middle" font-weight="bold" fill="#222" letter-spacing="1.0">****</text>
<circle cx="598.7" cy="734.7" r="2.2" fill="#8c8c8c"/>
<text x="614.5" y="738.3" font-size="10.4" text-anchor="start" font-weight="normal" fill="#111" >Naive</text>
<circle cx="598.7" cy="753.1" r="2.2" fill="#111"/>
<text x="614.5" y="756.7" font-size="10.4" text-anchor="start" font-weight="normal" fill="#111" >SARS-2</text>
<circle cx="598.7" cy="771.6" r="2.2" fill="#E8963F"/>
<text x="614.5" y="775.2" font-size="10.4" text-anchor="start" font-weight="normal" fill="#111" >BANAL-52</text>
<circle cx="598.7" cy="789.7" r="2.2" fill="#D9302C"/>
<text x="614.5" y="793.3" font-size="10.4" text-anchor="start" font-weight="normal" fill="#111" >BANAL-236</text>
</svg>
</body></html>
